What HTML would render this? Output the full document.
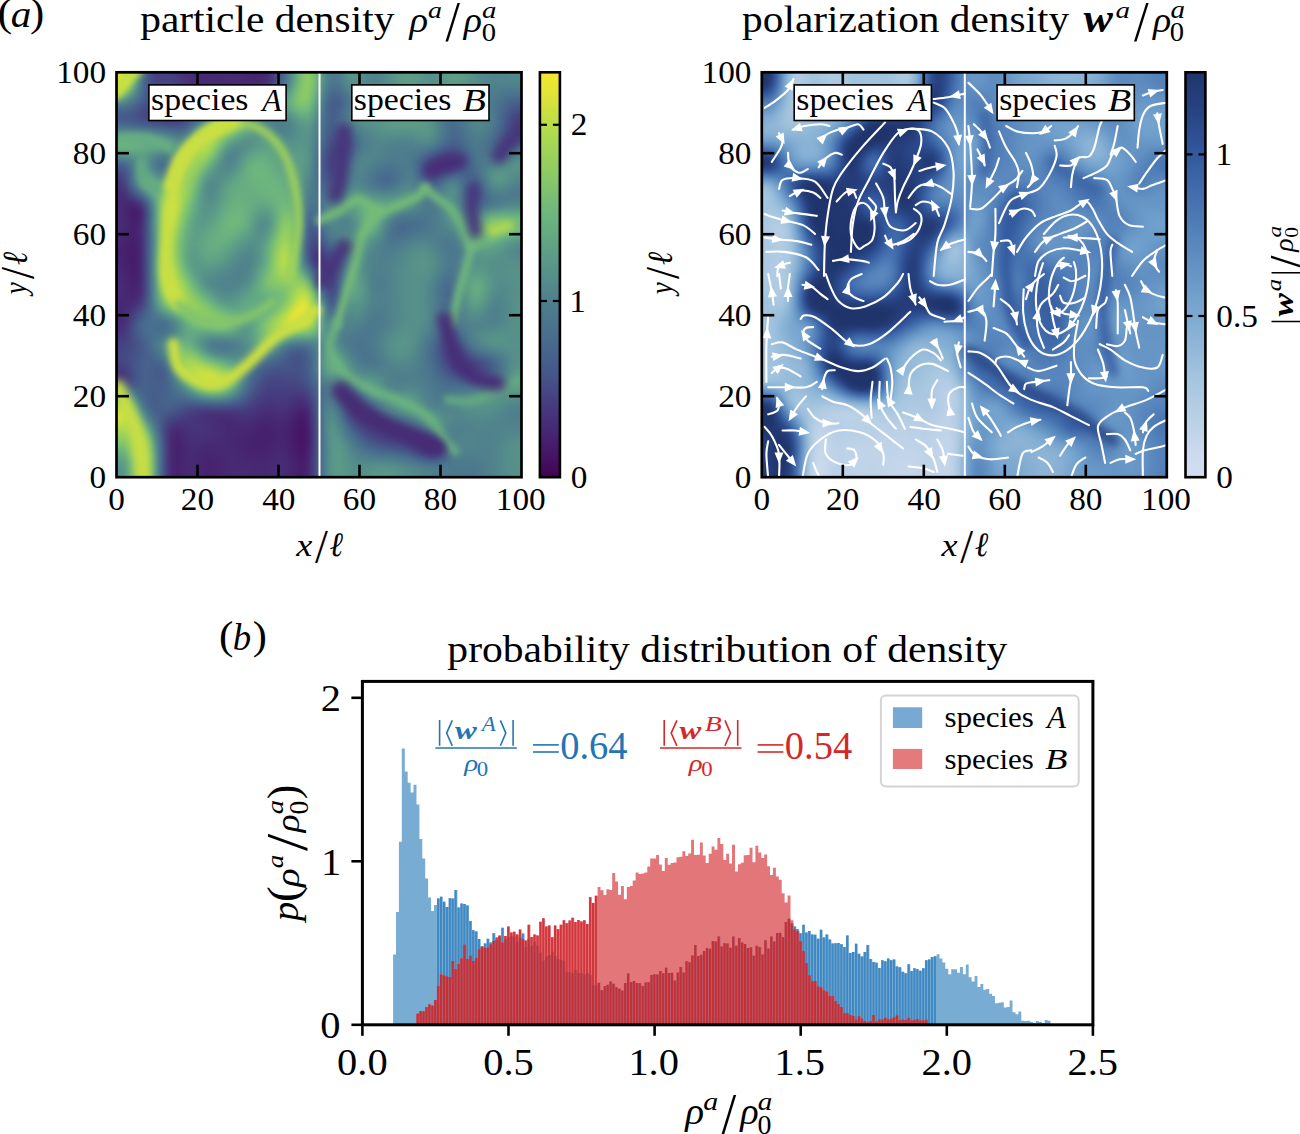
<!DOCTYPE html>
<html><head><meta charset="utf-8"><style>
html,body{margin:0;padding:0;background:#fff;overflow:hidden;}
#root{position:relative;width:1300px;height:1134px;}
.hm{position:absolute;overflow:hidden;}
.hb{position:absolute;}
.hb div{position:absolute;left:0;right:0;}
svg{position:absolute;left:0;top:0;display:block;font-family:"Liberation Serif", serif;}
</style></head><body><div id="root">
<div class="hm" style="left:116.5px;top:72.3px;width:405.0px;height:405.0px"><div class="hb" style="left:-15px;top:0;width:435px;filter:blur(2.0px)"><div style="height:6px;top:-15px;background:linear-gradient(90deg,#abd853,#b4db4e,#c3de47,#cadf43,#bfdd49,#9ed25a,#72b97a,#579389,#49718e,#45588a,#464883,#464281,#464381,#464381,#464180,#463c7e,#47367c,#473179,#472e77,#472b75,#472a74,#472973,#472873,#472873,#472973,#472973,#472a74,#472a74,#472a74,#472974,#472873,#472973,#472c76,#47357b,#464582,#465b8a,#49708e,#51868b,#60a385,#74bb78,#89c967,#8ccb64,#79be74,#62a684,#538a8b,#4c788d,#4b758d,#4d7b8d,#51858c,#568f8a,#579289,#558f8a,#53898b,#50848c,#50828c,#51858c,#53898b,#558f8a,#589589,#5a9988,#5c9d87,#5c9d87,#5b9b87,#599788,#579389,#569089,#569189,#589489,#5a9988,#5c9c87,#5c9d87,#5b9a87,#599688,#579289,#558d8a,#53898b,#51868b,#50838c,#50828c,#50828c,#50828c,#50828c,#50838c,#50838c,#50838c,#50838c,#50838c)"></div><div style="height:6px;top:-10px;background:linear-gradient(90deg,#b0da50,#bcdc4a,#cbdf43,#d2e13f,#c6de45,#a2d458,#75bb77,#589489,#49728e,#45588a,#464783,#464281,#464281,#464381,#464080,#463b7e,#47357b,#473079,#472d76,#472b75,#472974,#472973,#472973,#472973,#472973,#472974,#472a74,#472a74,#472973,#472873,#472772,#472772,#472a74,#47327a,#464381,#45598a,#486e8e,#50848c,#5fa186,#73ba79,#88c967,#8ccb64,#79be74,#62a684,#548b8b,#4c798d,#4b768d,#4d7c8d,#52868b,#569089,#579389,#568f8a,#53898b,#50838c,#50828c,#51848c,#53898b,#568f8a,#589589,#5a9a88,#5c9d87,#5c9d87,#5b9b87,#599788,#579389,#569089,#579189,#589589,#5a9988,#5c9d87,#5c9e87,#5b9b87,#599788,#579289,#558d8a,#53898b,#51868b,#50848c,#50838c,#50838c,#50838c,#50848c,#50848c,#51848c,#50848c,#50848c,#50848c)"></div><div style="height:6px;top:-5px;background:linear-gradient(90deg,#b9dc4c,#c5de46,#d5e13e,#dde33b,#d0e040,#a8d754,#79be74,#599688,#4a728e,#45588a,#464783,#464180,#464281,#464281,#464080,#473a7e,#47347b,#472f78,#472c76,#472a74,#472973,#472973,#472973,#472973,#472974,#472a74,#472a74,#472973,#472873,#472672,#472570,#472470,#472772,#472f78,#463f7f,#455689,#486b8d,#4f818c,#5d9f86,#71b97a,#88c867,#8ccb64,#7abf73,#63a783,#548c8a,#4d7a8d,#4c778d,#4e7d8d,#52888b,#579289,#589489,#56908a,#52888b,#50838c,#4f818c,#50848c,#53898b,#568f8a,#589588,#5b9a88,#5c9d87,#5c9d87,#5b9b87,#599788,#579289,#569089,#579189,#589588,#5b9a88,#5d9e87,#5d9f86,#5c9c87,#5a9888,#579389,#558e8a,#538a8b,#52878b,#51858c,#50848c,#50848c,#51848c,#51858c,#51868b,#51868b,#51868b,#51868b,#51858c)"></div><div style="height:6px;top:0px;background:linear-gradient(90deg,#bedd49,#cadf43,#dae23c,#e2e438,#d5e13e,#abd853,#7bbf73,#599788,#4a738e,#45588a,#464783,#464180,#464281,#464281,#463f80,#473a7d,#47347b,#472f78,#472c75,#472a74,#472973,#472973,#472973,#472974,#472a74,#472a74,#472a74,#472973,#472872,#472671,#472470,#47236f,#472671,#472d77,#463d7f,#455489,#486a8d,#4f808c,#5d9e87,#71b97b,#88c868,#8ccb64,#7bbf73,#63a883,#548d8a,#4d7b8d,#4c788d,#4e7e8c,#53898b,#579389,#589589,#56908a,#52888b,#50828c,#4f818c,#50838c,#53898b,#568f8a,#599688,#5b9a88,#5c9d87,#5c9d87,#5b9b87,#599788,#579289,#56908a,#579189,#599588,#5b9b87,#5d9e87,#5d9f86,#5c9d87,#5a9988,#589389,#558e8a,#538a8b,#52878b,#51858c,#51848c,#51848c,#51858c,#51868b,#52878b,#52878b,#52878b,#52868b,#52868b)"></div><div style="height:6px;top:5px;background:linear-gradient(90deg,#b7db4d,#c2de47,#d2e140,#dae23c,#cde042,#a6d655,#78bd75,#599688,#4a728e,#45588a,#464783,#464181,#464281,#464381,#464080,#473b7e,#47357b,#473078,#472c76,#472a74,#472974,#472973,#472973,#472973,#472974,#472a74,#472a74,#472974,#472873,#472772,#472571,#472571,#472873,#473078,#464080,#455789,#486c8e,#50828c,#5ea086,#72b97a,#88c867,#8ccb64,#7abf73,#63a783,#548c8a,#4d7a8d,#4b778d,#4e7d8d,#52888b,#579289,#589489,#568f8a,#53888b,#50838c,#4f828c,#50848c,#53898b,#568f8a,#589589,#5b9a88,#5c9d87,#5c9d87,#5b9b87,#599788,#579289,#569089,#579189,#589589,#5b9a88,#5c9e87,#5d9e87,#5c9c87,#5a9888,#579389,#558e8a,#538a8b,#52878b,#51848c,#50838c,#50838c,#50848c,#51858c,#51858c,#51858c,#51858c,#51858c,#51858c)"></div><div style="height:6px;top:10px;background:linear-gradient(90deg,#a3d457,#aad853,#b6db4d,#bddc4a,#b2da4f,#96cf5f,#6db67e,#569089,#49708e,#45588a,#464884,#464381,#464482,#464482,#464281,#463d7f,#47377c,#47327a,#472f78,#472c76,#472a74,#472973,#472873,#472873,#472873,#472973,#472a74,#472b75,#472b75,#472b75,#472b75,#472c75,#472f78,#47397d,#464b85,#465f8b,#4a738e,#53898b,#62a584,#76bc76,#8ac966,#8bcb65,#78bd75,#61a484,#52888b,#4b778d,#4a738e,#4c798d,#50828c,#548d8a,#569089,#558e8a,#53898b,#51848c,#50838c,#51858c,#53898b,#558f8a,#589489,#5a9988,#5c9c87,#5c9d87,#5b9b87,#599788,#579389,#569089,#569189,#589489,#5a9888,#5b9b87,#5b9b87,#5a9988,#589589,#569189,#548c8a,#52888b,#51858c,#50838c,#4f818c,#4f818c,#4f818c,#4f818c,#4f818c,#4f818c,#4f818c,#4f818c,#4f818c)"></div><div style="height:6px;top:15px;background:linear-gradient(90deg,#85c66a,#8aca65,#93ce60,#97cf5e,#90cd62,#7bc072,#63a784,#52868b,#486d8e,#45588a,#464a84,#464682,#464683,#464683,#464482,#464180,#463c7e,#47377c,#47337a,#472f78,#472d76,#472a74,#472973,#472872,#472872,#472973,#472b75,#472f77,#47327a,#47347b,#47367c,#47387d,#463e7f,#464a84,#465a8a,#486c8e,#4e7e8c,#599688,#68ae81,#7dc171,#8ccb64,#8ac966,#73ba79,#5ea086,#50828c,#49718e,#486d8e,#49728e,#4d7b8d,#51848c,#538a8b,#548b8a,#538a8b,#52878b,#52878b,#52878b,#538a8b,#558e8a,#579289,#599788,#5b9b87,#5c9d87,#5b9b87,#5a9888,#589489,#569189,#569089,#579289,#589489,#599688,#599688,#589489,#569189,#558d8a,#53898b,#51858c,#50828c,#4f808c,#4e7e8c,#4d7c8d,#4d7b8d,#4d7a8d,#4d7a8d,#4c7a8d,#4d7a8d,#4d7a8d,#4d7a8d)"></div><div style="height:6px;top:20px;background:linear-gradient(90deg,#68af81,#6ab27f,#6eb77d,#71b87b,#6db57e,#64a983,#589389,#4d7c8d,#47678d,#455689,#464b85,#464783,#464783,#464883,#464683,#464482,#464080,#463c7e,#47397d,#47357b,#47317a,#472f78,#472d76,#472c76,#472d76,#472f78,#47337b,#47397d,#463f80,#464381,#464683,#464a84,#455187,#465b8a,#47698d,#4c788d,#548b8a,#5fa285,#6eb77d,#83c56c,#8dcb64,#86c769,#6db67e,#5a9a88,#4e7d8d,#486b8d,#47648c,#47698d,#4a738d,#4e7d8d,#51858c,#53898b,#548b8b,#548b8a,#538a8b,#538a8b,#548b8a,#558d8a,#579189,#599688,#5b9a88,#5c9c87,#5b9c87,#5a9988,#589589,#569189,#568f8a,#558f8a,#568f8a,#568f8a,#568f8a,#558d8a,#548b8a,#53898b,#51868b,#50838c,#4f808c,#4e7d8d,#4d7a8d,#4c778d,#4a748d,#4a728e,#49718e,#49718e,#49718e,#49718e,#49728e)"></div><div style="height:6px;top:25px;background:linear-gradient(90deg,#579289,#589589,#5a9888,#5b9a88,#599788,#558e8a,#4f7f8c,#49708e,#46608b,#455388,#464a84,#464683,#464683,#464683,#464683,#464582,#464381,#464181,#463f80,#463d7f,#463b7e,#473a7d,#473a7d,#463c7e,#463e7f,#464381,#464884,#454e86,#455489,#455789,#45598a,#465c8a,#46608b,#47688d,#4a748d,#50828c,#599688,#65aa82,#74bb78,#84c66a,#8aca66,#81c36e,#69b080,#579389,#4c778d,#47648c,#465e8b,#47638c,#486e8e,#4c798d,#4f818c,#52888b,#548c8a,#558e8a,#558e8a,#558e8a,#558d8a,#558e8a,#579189,#599688,#5a9a88,#5c9c87,#5c9c87,#5a9a88,#599688,#579189,#558e8a,#548b8a,#53898b,#52888b,#52878b,#52878b,#51868b,#51858c,#50838c,#4f818c,#4e7f8c,#4d7b8d,#4b778d,#4a728e,#486d8e,#47698d,#47668c,#47668c,#47668c,#47678d,#47688d)"></div><div style="height:6px;top:30px;background:linear-gradient(90deg,#4c7a8d,#4d7b8d,#4e7d8d,#4e7e8d,#4d7c8d,#4c778d,#486f8e,#47638c,#45588a,#454d85,#464582,#464281,#464080,#464180,#464181,#464281,#464381,#464482,#464582,#464783,#464984,#454e86,#455489,#46598a,#465f8b,#47638c,#47678d,#47698d,#486a8d,#486a8d,#486a8d,#486a8d,#486d8e,#4a728e,#4d7b8d,#52888b,#5a9988,#65aa82,#71b97b,#7fc26f,#82c46c,#78bd75,#64a983,#548c8a,#4a738e,#46618b,#465b8a,#46608b,#486c8e,#4c788d,#4f818c,#53898b,#558e8a,#569189,#579289,#579189,#569189,#579189,#589489,#599788,#5b9b87,#5c9d87,#5c9d87,#5b9b87,#599688,#579189,#548c8a,#52878b,#50838c,#4f818c,#4f808c,#4f808c,#4f828c,#50828c,#50828c,#4f818c,#4e7f8c,#4d7a8d,#4b758d,#486e8e,#47668c,#465f8b,#465c8a,#465b8a,#465b8a,#465d8b,#465e8b)"></div><div style="height:6px;top:35px;background:linear-gradient(90deg,#47688d,#47698d,#486a8d,#486b8d,#476a8d,#47668c,#46608b,#45588a,#454e86,#464582,#463f7f,#473b7e,#47397d,#47397d,#473a7e,#463d7f,#464181,#464683,#464c85,#455388,#465b8a,#47648c,#486f8e,#4c788d,#4f808c,#51858c,#52878b,#51858c,#4f818c,#4e7d8d,#4c7a8d,#4b778d,#4b768d,#4c788d,#4e7e8c,#52878b,#589489,#5fa285,#68af80,#71b97a,#76bc77,#6db67e,#5fa285,#52878b,#49718e,#46608b,#465c8a,#47638c,#49708e,#4d7c8d,#51858c,#548c8a,#569089,#579289,#589389,#589489,#589589,#599688,#5a9888,#5b9b87,#5c9d87,#5d9f86,#5d9e87,#5b9c87,#599788,#579189,#538a8b,#50838c,#4e7e8c,#4d7a8d,#4d7a8d,#4d7c8d,#4e7f8c,#50828c,#50838c,#50838c,#4f808c,#4d7b8d,#4a748d,#486b8d,#46608b,#455789,#455187,#454f86,#455087,#455388,#455589)"></div><div style="height:6px;top:40px;background:linear-gradient(90deg,#465c8a,#465c8a,#465d8b,#465e8b,#465d8b,#465b8a,#455789,#455087,#464984,#464281,#463c7e,#47377c,#47347b,#47347b,#47367c,#473a7d,#464080,#464a84,#455589,#46608b,#486c8e,#4c7a8d,#538a8b,#5b9b87,#63a883,#68ae81,#67ad81,#62a684,#5c9d87,#579289,#52888b,#4f828c,#4e7e8c,#4e7d8d,#4e7e8c,#50828c,#538a8b,#589589,#5fa285,#66ac82,#69b180,#66ab82,#5b9a88,#50828c,#486f8e,#46608b,#465f8b,#47688d,#4b758d,#4f808c,#538a8b,#558f8a,#579189,#579389,#589489,#599688,#5a9888,#5b9a88,#5c9c87,#5d9e87,#5d9f86,#5e9f86,#5d9e86,#5c9c87,#5a9888,#579289,#53898b,#4f808c,#4c798d,#4b758d,#4b758d,#4c788d,#4e7d8d,#4f828c,#51858c,#51858c,#50828c,#4e7c8d,#4a748d,#47688d,#465c8a,#455087,#464783,#464582,#464683,#464984,#464c85)"></div><div style="height:6px;top:45px;background:linear-gradient(90deg,#465b8a,#465b8a,#465c8a,#465c8a,#465c8a,#465a8a,#45588a,#455488,#454e86,#464883,#464281,#463e7f,#473a7d,#47387d,#47397d,#463d7f,#464582,#455288,#465f8b,#486f8e,#4e7e8c,#579289,#64a883,#74bb78,#85c66a,#8ccb64,#86c769,#78be75,#69b080,#5fa285,#589588,#548b8a,#51848c,#4f808c,#4e7e8c,#4e7e8c,#4f818c,#53898b,#589489,#5d9f86,#61a584,#5fa285,#579389,#4e7f8c,#486e8e,#46618b,#47628c,#486c8e,#4c788d,#50838c,#548c8a,#56908a,#569189,#579189,#589389,#599688,#5b9a88,#5c9d87,#5d9f86,#5e9f86,#5e9f86,#5d9f86,#5d9e87,#5b9c87,#5a9888,#579289,#52888b,#4e7e8c,#4b768d,#49718e,#49708e,#4b758d,#4d7b8d,#4f818c,#51868b,#52878b,#50838c,#4e7d8d,#4a738d,#47678d,#45598a,#464a84,#464180,#463e7f,#464080,#464381,#464683)"></div><div style="height:6px;top:50px;background:linear-gradient(90deg,#47688d,#47688d,#47698d,#47698d,#47698d,#47678d,#47658c,#46618b,#465e8b,#465a8a,#455789,#455388,#455087,#464c85,#464a84,#464c85,#455388,#465e8b,#486e8e,#4f7f8c,#599688,#67ad81,#7cc072,#91cd61,#a0d459,#a3d457,#97d05e,#84c66b,#6fb87c,#63a883,#5b9c87,#579289,#538a8b,#51848c,#4f808c,#4e7e8d,#4e7e8c,#50828c,#548b8a,#599688,#5c9c87,#5b9a88,#558d8a,#4d7c8d,#486d8e,#46618b,#47628c,#486b8d,#4b768d,#4f818c,#52888b,#548c8a,#558d8a,#558f8a,#579189,#589589,#5a9988,#5b9c87,#5c9d87,#5c9d87,#5c9c87,#5b9c87,#5b9b87,#5b9b87,#5a9888,#579389,#53898b,#4e7e8d,#4a748d,#486e8e,#486e8e,#4a728e,#4c7a8d,#4f818c,#51858c,#51868c,#50828c,#4d7b8d,#49728e,#47658c,#455789,#464984,#464080,#463d7f,#463f7f,#464281,#464482)"></div><div style="height:6px;top:55px;background:linear-gradient(90deg,#4e7d8d,#4e7e8c,#4e7e8c,#4e7f8c,#4e7e8c,#4e7d8d,#4d7a8d,#4c778d,#4a748d,#49728e,#49708e,#486e8e,#486b8d,#47678d,#47638c,#46618b,#47648c,#486f8e,#4e7f8c,#599688,#68af81,#7fc26f,#93ce60,#a0d459,#a4d557,#9dd25a,#8ecc63,#7bc072,#6ab27f,#61a584,#5b9b87,#589489,#568f8a,#548b8b,#51858c,#4f818c,#4f808c,#50828c,#53898b,#579189,#599788,#589589,#53898b,#4c798d,#486b8d,#46608b,#465f8b,#47658c,#49708e,#4c798d,#4f808c,#50848c,#52888b,#548b8b,#558e8a,#579189,#589489,#599688,#599788,#599788,#599688,#599688,#599788,#5a9888,#599888,#579389,#538a8b,#4e7e8d,#4a738d,#486c8e,#486b8d,#49718e,#4c788d,#4e7f8c,#50828c,#50828c,#4e7f8c,#4c788d,#486f8e,#47638c,#45588a,#464b85,#464482,#464181,#464381,#464682,#464883)"></div><div style="height:6px;top:60px;background:linear-gradient(90deg,#5a9988,#5a9a88,#5b9a88,#5b9b87,#5b9a88,#5a9888,#589489,#569089,#548c8a,#53898b,#52888b,#51868b,#50838c,#4e7e8c,#4c798d,#4b758d,#4b768d,#4f7f8c,#589489,#68ae81,#81c46d,#98d05d,#a3d457,#a1d458,#96cf5e,#87c769,#76bc76,#69b080,#61a584,#5c9c87,#599888,#589588,#589489,#579289,#558d8a,#52888b,#51858c,#51868b,#548b8b,#569189,#589589,#579289,#51868b,#4c778d,#47688d,#465d8b,#46598a,#465d8b,#47658c,#486f8e,#4b768d,#4e7d8d,#50828c,#52878b,#538a8b,#558d8a,#558f8a,#568f8a,#558f8a,#558e8a,#558e8a,#558f8a,#569189,#589489,#589589,#579289,#53888b,#4e7d8d,#4a728e,#486b8d,#47698d,#486f8e,#4b768d,#4d7c8d,#4f7f8c,#4e7e8c,#4d7a8d,#4a748d,#486c8e,#47638c,#465a8a,#455288,#454d85,#464b85,#464c85,#454e86,#455087)"></div><div style="height:6px;top:65px;background:linear-gradient(90deg,#68af81,#69b080,#69b080,#69b180,#69b080,#68ae81,#65aa82,#62a684,#60a385,#5ea086,#5d9e87,#5c9c87,#5a9988,#589389,#548c8a,#52878b,#53898b,#589589,#65aa82,#7ec170,#9bd15c,#abd853,#a7d655,#96cf5e,#80c36e,#6cb47f,#63a783,#5c9d87,#599688,#589489,#589489,#599788,#5a9988,#5a9988,#589588,#569189,#558d8a,#548c8a,#558f8a,#579389,#589589,#569089,#50838c,#4b758d,#47658c,#45588a,#455388,#455589,#465b8a,#47658c,#486e8e,#4b778d,#4e7e8c,#50838c,#52878b,#53898b,#53898b,#52888b,#52868b,#51868c,#51868c,#52878b,#538a8b,#558d8a,#558f8a,#548c8a,#50838c,#4c798d,#486f8e,#47678d,#47668c,#486b8d,#4a738e,#4c798d,#4d7c8d,#4d7a8d,#4b768d,#49718e,#486a8d,#47648c,#465f8b,#465b8a,#45598a,#45588a,#45588a,#46598a,#465a8a)"></div><div style="height:6px;top:70px;background:linear-gradient(90deg,#6db67e,#6db67e,#6eb77d,#6eb77d,#6eb77d,#6db57e,#6bb37f,#69b080,#67ad81,#65aa82,#63a783,#60a485,#5ea086,#5b9b87,#599788,#599688,#5b9b87,#64a883,#76bc77,#92ce60,#abd853,#b1da50,#a1d458,#86c769,#6bb37f,#5ea086,#579389,#558e8a,#558d8a,#569089,#589589,#5b9a88,#5d9e87,#5d9f86,#5c9c87,#5a9888,#589389,#579289,#589489,#599688,#599688,#56908a,#50828c,#4a738e,#46618b,#455388,#464b85,#454e86,#455689,#46608b,#486b8d,#4b758d,#4e7d8d,#50828c,#51868c,#51868b,#50848c,#50828c,#4f818c,#4f808c,#4f808c,#4f818c,#50838c,#51848c,#50848c,#4f818c,#4d7a8d,#49708e,#47668c,#46608b,#46608b,#47668c,#486f8e,#4b768d,#4c798d,#4c788d,#4a748d,#49708e,#486c8e,#47698d,#47678d,#47668c,#47668c,#47658c,#47668c,#47668c,#47668c)"></div><div style="height:6px;top:75px;background:linear-gradient(90deg,#66ab82,#66ab82,#66ab82,#66ab82,#66ab82,#66ac82,#66ac82,#66ac82,#65aa82,#62a684,#5ea086,#5b9a88,#589588,#589489,#599688,#5c9d87,#64a883,#70b87b,#88c868,#a0d359,#aed951,#aad753,#92ce61,#74ba78,#60a385,#56908a,#52888b,#52888b,#558d8a,#589489,#5b9b87,#5ea086,#61a485,#61a485,#5fa186,#5c9c87,#5a9888,#599688,#599788,#5a9988,#5a9888,#569089,#4f818c,#49708e,#465d8b,#454c85,#464683,#464c85,#45588a,#47638c,#486f8e,#4c788d,#4e7f8c,#50838c,#51858c,#50848c,#4f828c,#4f7f8c,#4e7e8c,#4e7e8d,#4e7d8d,#4e7d8d,#4e7d8d,#4d7b8d,#4c788d,#4a738e,#486b8d,#46618b,#45598a,#455589,#45588a,#46608b,#486a8d,#4a738e,#4b778d,#4b778d,#4b758d,#4a728e,#49718e,#49718e,#49728e,#4a738e,#4a738d,#4a748d,#4a738d,#4a738e,#4a738e)"></div><div style="height:6px;top:80px;background:linear-gradient(90deg,#599688,#589589,#589489,#579389,#589489,#599788,#5b9b87,#5d9f86,#5e9f86,#5b9b87,#579289,#52888b,#50828c,#50838c,#558e8a,#5d9f86,#6ab27f,#80c36e,#95cf5f,#a4d557,#a6d655,#99d15d,#7fc26f,#66ac81,#599588,#52868b,#50838c,#53888b,#579289,#5c9c87,#61a485,#64a883,#64a983,#63a883,#61a484,#5d9f86,#5b9b87,#5a9988,#5b9a88,#5b9c87,#5a9a88,#569189,#4f7f8c,#486d8e,#45588a,#464783,#464482,#454f86,#465d8b,#486b8d,#4b758d,#4e7d8d,#50828c,#51848c,#51848c,#50828c,#4f808c,#4e7e8d,#4e7d8d,#4e7d8d,#4d7c8d,#4d7b8d,#4c788d,#4a728e,#486b8d,#47628c,#45598a,#454f86,#464883,#464783,#454e86,#465a8a,#47668c,#49708e,#4b758d,#4c778d,#4c778d,#4b778d,#4c788d,#4c798d,#4d7c8d,#4e7e8c,#4f808c,#4f808c,#4f808c,#4f7f8c,#4e7f8c)"></div><div style="height:6px;top:85px;background:linear-gradient(90deg,#4e7d8d,#4d7b8d,#4c798d,#4c798d,#4d7a8d,#4e7f8c,#52878b,#569089,#589489,#569089,#50848c,#4c798d,#4a738e,#4b778d,#51868b,#5ea086,#72ba7a,#8ccb64,#9dd25b,#a1d458,#98d05d,#85c66a,#6cb57e,#5d9f86,#548c8a,#50828c,#51848c,#558e8a,#5b9a87,#62a684,#66ac81,#68af80,#68af81,#66ac82,#63a784,#5fa185,#5c9d87,#5b9b87,#5c9c87,#5c9d87,#5b9b87,#569089,#4e7e8c,#486a8d,#455589,#464482,#464582,#455489,#47648c,#4a738e,#4e7d8d,#50828c,#51858c,#51858c,#50838c,#4f808c,#4e7d8d,#4d7b8d,#4d7b8d,#4d7c8d,#4d7c8d,#4d7a8d,#4a748d,#486a8d,#465e8b,#455187,#464582,#463d7f,#463b7e,#463f80,#464984,#455789,#47628c,#486d8e,#4a748d,#4c788d,#4d7b8d,#4e7d8d,#4f7f8c,#50828c,#51868b,#53898b,#548b8a,#548c8a,#548b8a,#538b8b,#538a8b)"></div><div style="height:6px;top:90px;background:linear-gradient(90deg,#476a8d,#47678d,#47648c,#47628c,#47658c,#486e8e,#4d7a8d,#52878b,#569089,#558e8a,#4f818c,#4a748d,#486c8e,#49718e,#51848c,#61a485,#7bc072,#96cf5e,#9fd359,#98d05d,#87c769,#71b97b,#62a684,#589489,#52888b,#50848c,#53898b,#589589,#5fa285,#67ad81,#6bb37f,#6cb47f,#6bb37f,#68af81,#65aa82,#61a484,#5ea086,#5c9e87,#5d9e87,#5d9e87,#5b9a88,#568f8a,#4e7d8d,#47688d,#455488,#464482,#464884,#45598a,#486b8d,#4c798d,#4f828c,#51868b,#51868c,#50838c,#4e7f8c,#4d7b8d,#4c788d,#4b778d,#4c788d,#4d7b8d,#4d7c8d,#4c7a8d,#4a728e,#47658c,#455789,#464582,#463b7e,#47387d,#463b7e,#464381,#454d86,#45588a,#46618b,#486a8d,#49728e,#4c788d,#4e7e8c,#50838c,#52888b,#548c8a,#558f8a,#569189,#579289,#579289,#579289,#579189,#579189)"></div><div style="height:6px;top:95px;background:linear-gradient(90deg,#465c8a,#45588a,#455388,#455087,#455589,#47628c,#4a758d,#52878b,#599688,#599688,#53898b,#4d7b8d,#4a728e,#4b778d,#548c8a,#66ac82,#84c66a,#9cd15b,#9cd25b,#8ccb64,#75bc77,#65aa82,#5b9a88,#558e8a,#52888b,#53898b,#569089,#5b9b87,#63a783,#69b080,#6cb57e,#6eb67d,#6cb57e,#6ab280,#67ad81,#63a883,#60a385,#5ea186,#5e9f86,#5c9e87,#5a9888,#548c8a,#4d7b8d,#47688d,#455689,#464984,#454e86,#465e8b,#486f8e,#4d7c8d,#50838c,#51858c,#50838c,#4e7e8c,#4c798d,#4b758d,#49728e,#49718e,#4a748d,#4c798d,#4d7c8d,#4d7b8d,#4a738e,#47668c,#455689,#464582,#463f7f,#464281,#464b85,#455589,#465b8a,#465f8b,#47628c,#47678d,#486f8e,#4c788d,#4f818c,#538a8b,#569189,#589389,#589489,#579389,#579289,#579289,#579289,#579289,#579289)"></div><div style="height:6px;top:100px;background:linear-gradient(90deg,#455288,#454d85,#464582,#464180,#464783,#465a8a,#4a728e,#538a8b,#5d9e87,#60a385,#5a9a88,#538a8b,#4f808c,#51858c,#5b9b87,#6eb77d,#8dcc63,#9ed25a,#95cf5f,#7fc26f,#68af80,#5c9d87,#579189,#548c8a,#548c8a,#569189,#5a9888,#5fa185,#65aa82,#69b180,#6cb57e,#6eb77d,#6db67e,#6cb47f,#69b080,#66ac82,#63a883,#61a485,#5ea186,#5c9c87,#589589,#53898b,#4c798d,#47698d,#46598a,#455187,#455789,#47648c,#4a738e,#4e7e8d,#50838c,#50838c,#4f808c,#4d7a8d,#4a748d,#486f8e,#486c8e,#486c8e,#49718e,#4b778d,#4d7c8d,#4e7d8d,#4b768d,#47698d,#465b8a,#454e86,#464c85,#455589,#465f8b,#47678d,#486a8d,#47688d,#47658c,#47658c,#486b8d,#4b768d,#50828c,#558f8a,#599688,#599788,#589489,#569089,#558e8a,#558d8a,#558d8a,#558e8a,#568f8a)"></div><div style="height:6px;top:105px;background:linear-gradient(90deg,#464b85,#464582,#463c7e,#47387d,#463f7f,#455689,#49708e,#538b8b,#60a385,#67ad81,#64a883,#5d9e87,#599688,#5b9b87,#67ad81,#7ec170,#96cf5e,#9dd25a,#8dcb64,#73ba79,#61a485,#579289,#548b8a,#548c8a,#579289,#5a9988,#5ea086,#62a684,#66ac82,#69b080,#6bb37f,#6db57e,#6db67e,#6db57e,#6bb37f,#69b080,#66ac82,#63a783,#5fa285,#5b9b87,#579289,#51858c,#4c788d,#486b8d,#465f8b,#465a8a,#465f8b,#486b8d,#4b778d,#4f808c,#50848c,#50828c,#4e7e8c,#4c788d,#49728e,#486c8e,#47698d,#486a8d,#49708e,#4c788d,#4e7e8c,#4f808c,#4d7a8d,#496f8e,#47628c,#465a8a,#465c8a,#47658c,#49718e,#4c788d,#4c788d,#49728e,#47698d,#47638c,#47678d,#4a738e,#4f818c,#568f8a,#599788,#599688,#579189,#548b8a,#52878b,#51868c,#52868b,#52888b,#53898b)"></div><div style="height:6px;top:110px;background:linear-gradient(90deg,#464482,#463e7f,#47367c,#47337a,#47397d,#454f86,#486a8d,#50838c,#5c9d87,#66ac82,#68af80,#67ad81,#66ac82,#6ab27f,#7abf73,#8ecc63,#9dd25b,#9ad15c,#85c66a,#6ab27f,#5b9b87,#548c8a,#52888b,#558e8a,#599788,#5ea086,#62a684,#65aa82,#67ad81,#68af81,#6ab180,#6bb47f,#6db57e,#6db67e,#6db57e,#6bb37f,#68af80,#65aa82,#60a285,#5a9988,#558e8a,#50828c,#4c778d,#486e8e,#47668c,#47648c,#47698d,#4a738e,#4d7c8d,#50848c,#52878b,#51858c,#4f808c,#4d7a8d,#4a748d,#49708e,#486e8e,#486f8e,#4a758d,#4d7c8d,#50838c,#51858c,#4f7f8c,#4b758d,#486a8d,#47648c,#47688d,#4a738e,#4e7e8c,#51858c,#50828c,#4c788d,#486c8e,#47628c,#47638c,#486f8e,#4d7c8d,#538a8b,#579189,#569189,#548b8a,#50848c,#4f808c,#4f7f8c,#4f808c,#4f818c,#50828c)"></div><div style="height:6px;top:115px;background:linear-gradient(90deg,#463c7e,#47377c,#47317a,#472f78,#47337a,#464482,#465d8b,#4a748d,#538a8b,#5d9e87,#65ab82,#6cb47f,#75bc77,#82c46c,#91cd61,#9ed25a,#a2d458,#96cf5e,#7dc170,#66ac82,#599688,#53898b,#52888b,#56908a,#5b9b87,#61a484,#65aa82,#66ac81,#67ad81,#68ae81,#69b080,#6ab280,#6bb47f,#6cb57e,#6db67e,#6cb57e,#6ab27f,#66ac82,#60a385,#5a9888,#548c8a,#4f808c,#4c778d,#49718e,#486d8e,#486e8e,#4a748d,#4d7c8d,#51848c,#548c8a,#558f8a,#558d8a,#52888b,#50828c,#4e7e8d,#4d7a8d,#4c798d,#4d7a8d,#4e7f8c,#51858c,#548b8a,#548c8a,#51858c,#4d7b8d,#49718e,#486d8e,#49718e,#4d7b8d,#51868b,#558d8a,#53898b,#4d7c8d,#486e8e,#47628c,#46608b,#47698d,#4b758d,#4f808c,#51868b,#52868b,#50838c,#4e7e8c,#4d7c8d,#4d7b8d,#4d7b8d,#4d7c8d,#4e7d8d)"></div><div style="height:6px;top:120px;background:linear-gradient(90deg,#47337b,#473179,#472e77,#472c76,#472f77,#47387d,#464a84,#465f8b,#4a738e,#52878b,#5d9f86,#6db67e,#85c66a,#9ad15c,#a7d655,#abd853,#a4d557,#90cd62,#76bc76,#63a783,#589489,#538a8b,#538b8b,#579389,#5d9e87,#63a783,#66ac82,#68ae81,#68ae81,#68ae81,#68ae81,#69af80,#6ab180,#6bb37f,#6cb57e,#6db67e,#6cb47f,#68ae81,#61a484,#599788,#53898b,#4e7e8c,#4b778d,#4a748d,#4a748d,#4b778d,#4e7d8d,#51858c,#558e8a,#589589,#5a9888,#599788,#589489,#56908a,#548c8a,#53898b,#52888b,#53898b,#548c8a,#569089,#579389,#579289,#538a8b,#4f7f8c,#4b778d,#4a728e,#4b768d,#4f7f8c,#538a8b,#569089,#548c8a,#4e7e8c,#49708e,#47648c,#465f8b,#47648c,#486e8e,#4b778d,#4d7c8d,#4e7e8c,#4e7d8d,#4d7b8d,#4d7a8d,#4c798d,#4c7a8d,#4d7a8d,#4d7b8d)"></div><div style="height:6px;top:125px;background:linear-gradient(90deg,#472d76,#472c76,#472b75,#472b75,#472b75,#472e77,#47347b,#464281,#45598a,#49728e,#569089,#6cb47f,#91cd61,#aed951,#bcdc4a,#b5db4d,#a3d457,#8ac966,#70b87c,#61a484,#589489,#548c8a,#558e8a,#599688,#5ea086,#64a983,#67ae81,#69b080,#68af80,#68ae81,#67ad81,#66ac82,#67ad81,#68af81,#6bb37f,#6db67e,#6eb77d,#6ab280,#62a684,#599688,#51868b,#4d7b8d,#4b768d,#4b768d,#4c798d,#4e7e8c,#51858c,#558d8a,#589588,#5b9b87,#5d9f86,#5ea086,#5ea086,#5d9f86,#5c9d87,#5b9a88,#5a9888,#599788,#599888,#5a9888,#5a9888,#589489,#548c8a,#4f818c,#4d7a8d,#4b768d,#4c7a8d,#4f818c,#548b8a,#569089,#548c8a,#4f808c,#4a748d,#47698d,#47648c,#47668c,#486c8e,#4a738e,#4c788d,#4d7b8d,#4d7c8d,#4e7d8d,#4e7d8d,#4e7d8d,#4e7d8d,#4e7d8d,#4e7d8d)"></div><div style="height:6px;top:130px;background:linear-gradient(90deg,#472873,#472973,#472a74,#472a74,#472974,#472772,#472671,#472b75,#463d7f,#46608b,#51858c,#6ab280,#99d05d,#c0dd48,#cbdf43,#badc4b,#9ed35a,#82c46c,#6bb37f,#5fa285,#589588,#56908a,#579389,#5b9a88,#61a485,#66ac82,#69b080,#6ab280,#69b180,#68ae81,#65aa82,#63a783,#62a684,#64a983,#68af80,#6eb67e,#72b97a,#6db67e,#64a983,#599688,#50838c,#4c788d,#4a748d,#4b768d,#4e7c8d,#50848c,#548b8a,#579189,#599788,#5c9c87,#5fa285,#62a684,#65aa82,#66ac82,#65aa82,#63a784,#5fa285,#5d9e87,#5b9b87,#5a9888,#589588,#569089,#53898b,#4f818c,#4d7b8d,#4c788d,#4d7b8d,#50828c,#548b8a,#56908a,#558d8a,#50848c,#4d7a8d,#4a728e,#486e8e,#486f8e,#4a738e,#4c788d,#4e7d8d,#4f808c,#50838c,#51858c,#51868b,#51868b,#51868b,#51868b,#51858c)"></div><div style="height:6px;top:135px;background:linear-gradient(90deg,#472772,#472873,#472a74,#472b75,#472974,#472570,#461f6c,#46206d,#472f78,#455689,#4f7f8c,#69b180,#9dd25a,#c8df44,#cfe041,#b7db4d,#97d05e,#7abf73,#68ae81,#5e9f86,#599688,#589389,#599788,#5d9f86,#63a883,#68af80,#6bb37f,#6cb47f,#6bb27f,#67ae81,#63a783,#5fa186,#5d9e87,#5fa186,#65ab82,#6eb77d,#77bd75,#75bb77,#67ad81,#599688,#4f808c,#4a738e,#49708e,#4b758d,#4e7e8c,#52878b,#558d8a,#569089,#579289,#599688,#5d9e87,#63a883,#69b080,#6cb47f,#6bb37f,#66ac82,#60a385,#5b9a88,#589389,#558f8a,#548b8b,#52878b,#4f818c,#4e7d8d,#4c798d,#4c798d,#4d7c8d,#50838c,#548b8a,#569089,#569089,#538b8b,#50838c,#4e7e8c,#4e7d8d,#4f7f8c,#50848c,#538a8b,#56908a,#589389,#599688,#599788,#5a9888,#5a9888,#5a9888,#5a9888,#5a9888)"></div><div style="height:6px;top:140px;background:linear-gradient(90deg,#472772,#472973,#472b75,#472c75,#472a74,#472470,#461e6b,#461e6b,#472b75,#455388,#4e7e8c,#69b080,#9ed35a,#c8df44,#cbdf43,#aed951,#8ecc63,#72ba79,#64a983,#5c9e87,#599788,#599788,#5b9c87,#60a485,#66ac82,#6bb37f,#6eb67d,#6eb77d,#6bb47f,#67ad81,#60a385,#5a9a88,#589589,#5a9988,#63a783,#6fb77c,#7ec170,#7dc170,#6ab27f,#599788,#4d7c8d,#486d8e,#486a8d,#4a728e,#4e7d8d,#52878b,#548c8a,#548b8a,#548b8b,#558e8a,#5a9888,#62a584,#6ab27f,#70b87b,#6db67e,#66ac82,#5c9e87,#56908a,#51868c,#4f808c,#4e7d8d,#4d7c8d,#4c7a8d,#4c788d,#4b778d,#4c788d,#4d7c8d,#50838c,#548b8a,#569189,#579389,#579289,#568f8a,#558e8a,#569189,#599788,#5d9e86,#62a584,#65aa82,#66ac82,#67ad81,#66ac82,#66ac82,#66ab82,#66ac82,#66ac82,#66ac82)"></div><div style="height:6px;top:145px;background:linear-gradient(90deg,#472873,#472974,#472b75,#472c76,#472b75,#472671,#461f6c,#461f6c,#472d76,#455589,#4e7f8c,#69b080,#9cd25b,#c2de47,#c2dd48,#a5d656,#86c769,#6cb47f,#62a584,#5c9c87,#5a9988,#5b9b87,#5ea086,#63a883,#69b080,#6db67e,#70b87b,#6fb87c,#6bb37f,#65ab82,#5d9f86,#589389,#558e8a,#589389,#61a584,#71b97a,#84c66a,#85c66a,#6db67e,#599788,#4c798d,#47668c,#47638c,#486e8e,#4d7b8d,#51868b,#53898b,#52868b,#50838c,#51868c,#579189,#5fa285,#6ab180,#71b97b,#6cb57e,#63a783,#589489,#50838c,#4c798d,#4a748d,#4a728e,#4a728e,#4a738e,#4a738e,#4a758d,#4c778d,#4d7c8d,#50828c,#538a8b,#569089,#589589,#599788,#5a9a88,#5c9d87,#61a484,#67ad81,#6eb77d,#78bd75,#7cc071,#7cc071,#7abe73,#76bc77,#73ba79,#73ba79,#73ba79,#74bb78,#75bb78)"></div><div style="height:6px;top:150px;background:linear-gradient(90deg,#472873,#472a74,#472c75,#472c76,#472b75,#472671,#46216e,#46226e,#473079,#455789,#4f808c,#69b080,#98d05d,#b9dc4c,#b6db4d,#9cd25b,#7ec270,#69b080,#60a385,#5c9c87,#5b9b87,#5d9f86,#61a584,#66ac82,#6ab27f,#6eb77d,#70b87c,#6db67e,#69b180,#63a783,#5b9a87,#568f8a,#548b8b,#579289,#62a684,#76bc77,#8bca65,#8ccb64,#71b97a,#599788,#4b768d,#46618b,#465d8b,#47688d,#4b778d,#50828c,#52868b,#50848c,#4f818c,#50838c,#558e8a,#5d9f86,#68ae81,#6cb57e,#69af80,#5ea086,#548b8a,#4d7a8d,#49708e,#486b8d,#486b8d,#486d8e,#496f8e,#49728e,#4a748d,#4c788d,#4d7c8d,#4f818c,#52878b,#558d8a,#589389,#5a9988,#5e9f86,#63a783,#6ab180,#75bb77,#82c46d,#8bca65,#8fcc63,#8bcb64,#85c769,#7fc26f,#7bbf72,#7abf73,#7abf73,#7cc071,#7dc171)"></div><div style="height:6px;top:155px;background:linear-gradient(90deg,#472872,#472973,#472a74,#472b75,#472a74,#472671,#46216e,#47236f,#47327a,#45588a,#4f7f8c,#67ae81,#93ce60,#afda50,#acd852,#94ce5f,#78bd75,#66ac82,#5fa185,#5c9e87,#5d9f86,#60a385,#64a883,#68ae81,#6bb37f,#6db67e,#6cb57e,#6ab280,#66ab82,#5fa285,#599788,#558e8a,#548c8a,#599688,#65aa82,#7cc071,#91cd61,#91cd61,#74bb78,#599788,#4a748d,#465c8a,#45588a,#47628c,#4a728e,#4e7f8c,#51848c,#51858c,#50848c,#52878b,#569089,#5d9e87,#64a983,#67ae81,#62a784,#599788,#50838c,#4b758d,#486d8e,#486a8d,#486b8d,#486e8e,#49718e,#4a748d,#4b778d,#4c798d,#4d7c8d,#4e7f8c,#50828c,#52888b,#558e8a,#599688,#5e9f86,#64a983,#6cb57e,#7abf73,#86c769,#8dcc63,#8ecc63,#89c967,#80c36e,#78bd75,#73ba79,#71b97a,#72b97a,#74bb78,#75bc77)"></div><div style="height:6px;top:160px;background:linear-gradient(90deg,#472671,#472772,#472973,#472974,#472873,#472470,#46216d,#46236f,#47327a,#45588a,#4e7e8c,#66ac82,#8ecc63,#a9d754,#a5d556,#8dcc63,#73ba79,#64a983,#5fa186,#5d9f86,#5fa285,#63a784,#66ac82,#69b080,#6ab27f,#6bb27f,#69b080,#65aa82,#61a485,#5b9c87,#589489,#568f8a,#579189,#5c9d87,#6ab27f,#84c66b,#98d05d,#94cf5f,#75bb77,#599788,#4a738e,#46598a,#455288,#465c8a,#486c8e,#4d7a8d,#50838c,#52888b,#548b8a,#568f8a,#599688,#5d9e87,#61a485,#61a485,#5b9c87,#558e8a,#4f7f8c,#4a758d,#486f8e,#486e8e,#49708e,#4a748d,#4b778d,#4c7a8d,#4d7b8d,#4d7c8d,#4e7d8d,#4e7d8d,#4e7e8c,#4f818c,#52878b,#56908a,#5b9b87,#62a684,#6ab280,#74bb78,#7dc170,#82c46c,#80c36e,#79be74,#6fb87c,#69b180,#66ac82,#65ab82,#66ac82,#67ad81,#68ae81)"></div><div style="height:6px;top:165px;background:linear-gradient(90deg,#472470,#472571,#472672,#472772,#472671,#46236f,#461f6c,#46226e,#473179,#455789,#4e7d8d,#65aa82,#8bca65,#a5d556,#a0d359,#89c967,#6fb77c,#63a783,#5ea086,#5ea086,#61a484,#64a983,#67ad81,#69b080,#69b080,#67ae81,#64a983,#60a285,#5b9b87,#589589,#569189,#569189,#599788,#62a584,#72ba7a,#8ccb64,#9ed35a,#98d05d,#76bc76,#599788,#4a728e,#455789,#464b85,#455489,#47648c,#4a748d,#4f808c,#538a8b,#579289,#5a9888,#5b9c87,#5d9e87,#5c9e87,#5a9988,#569189,#51868b,#4e7d8d,#4b768d,#4a748d,#4b758d,#4c788d,#4d7c8d,#4e7f8c,#4f808c,#4f818c,#4f808c,#4e7e8c,#4d7c8d,#4d7a8d,#4d7b8d,#4f808c,#53898b,#589489,#5ea086,#65aa82,#6ab27f,#6fb77d,#70b87b,#6db57e,#68af81,#63a783,#5ea086,#5b9b87,#5b9a88,#5b9b87,#5c9c87,#5c9e87)"></div><div style="height:6px;top:170px;background:linear-gradient(90deg,#46236f,#47236f,#472570,#472571,#472470,#46216e,#461e6b,#46216d,#473079,#455789,#4e7d8d,#64a983,#8aca65,#a3d557,#9ed25a,#86c769,#6cb57e,#62a584,#5ea086,#5fa186,#62a684,#65ab82,#67ae81,#68ae81,#66ac82,#63a883,#5fa185,#5b9a88,#589389,#568f8a,#558e8a,#579289,#5c9c87,#66ac81,#7cc072,#96cf5e,#a6d656,#9dd25b,#79be74,#5a9888,#49728e,#455489,#464482,#464a84,#465b8a,#486d8e,#4d7c8d,#53898b,#589588,#5c9d87,#5d9f86,#5c9d87,#5a9888,#569089,#52888b,#4f818c,#4d7c8d,#4c798d,#4c798d,#4d7b8d,#4f7f8c,#50838c,#51868b,#52888b,#52878b,#51848c,#4f808c,#4d7c8d,#4c788d,#4c788d,#4d7b8d,#50828c,#558d8a,#5a9988,#5fa285,#63a883,#65aa82,#65aa82,#62a684,#5e9f86,#5a9888,#579289,#558e8a,#548c8a,#558d8a,#558f8a,#56908a)"></div><div style="height:6px;top:175px;background:linear-gradient(90deg,#46226e,#46226f,#472470,#472470,#47236f,#46206d,#461d6a,#46206d,#472f78,#455789,#4e7e8c,#66ab82,#8dcb63,#a6d656,#9ed35a,#85c66a,#6bb37f,#60a385,#5c9e87,#5ea086,#62a584,#65aa82,#66ac82,#65ab82,#63a783,#5fa285,#5b9a88,#579389,#558d8a,#538a8b,#548c8a,#579289,#5d9f86,#69b180,#82c56c,#9ed35a,#add951,#a3d557,#7dc171,#5a9988,#49728e,#455087,#463c7e,#463e7f,#454f86,#47638c,#4b758d,#50848c,#579389,#5c9c87,#5d9e87,#5b9a88,#579389,#538a8b,#50838c,#4e7f8c,#4e7c8d,#4d7c8d,#4e7e8d,#4f818c,#51858c,#53898b,#548c8a,#558d8a,#548d8a,#53898b,#50848c,#4e7e8d,#4c798d,#4b778d,#4c798d,#4f7f8c,#52888b,#579289,#5b9a88,#5d9e87,#5ea086,#5d9f86,#5b9b87,#599688,#56908a,#548b8a,#52888b,#52878b,#52888b,#53898b,#53898b)"></div><div style="height:6px;top:180px;background:linear-gradient(90deg,#46216e,#46226e,#47246f,#472470,#47236f,#46206c,#461c6a,#461f6c,#472f78,#455789,#4f7f8c,#67ae81,#92cd61,#aad853,#a2d458,#86c769,#6bb37f,#5fa185,#5b9c87,#5c9e87,#60a385,#63a783,#64a883,#62a684,#5fa185,#5b9b87,#589489,#548d8a,#52888b,#52868b,#538a8b,#579289,#5ea086,#6bb37f,#87c868,#a5d556,#b6db4d,#aad753,#82c46c,#5c9d87,#4a738e,#455087,#47377c,#47357b,#464281,#45588a,#486c8e,#4e7d8d,#548d8a,#5a9888,#5b9a88,#599688,#558f8a,#52868b,#4f818c,#4e7f8c,#4e7e8c,#4e7f8c,#4f818c,#51848c,#53898b,#548d8a,#56908a,#579189,#569189,#558e8a,#52888b,#4f808c,#4d7b8d,#4c778d,#4c798d,#4e7e8c,#51858c,#558e8a,#589489,#599788,#5a9888,#599788,#589489,#569189,#558d8a,#538a8b,#53888b,#52888b,#52888b,#53898b,#53898b)"></div><div style="height:6px;top:185px;background:linear-gradient(90deg,#46226e,#46236f,#472470,#472570,#47246f,#46206d,#461c6a,#461f6c,#472f78,#45588a,#4f808c,#69b080,#97d05e,#b0da50,#a7d655,#89c966,#6cb47f,#5fa285,#5b9a87,#5b9b87,#5ea086,#60a385,#60a385,#5ea086,#5b9b87,#589489,#558e8a,#52888b,#51848c,#51848c,#53898b,#579389,#5fa285,#6db67e,#8aca66,#a8d754,#bbdc4b,#aed951,#87c868,#60a285,#4c788d,#455589,#47397d,#473179,#47397d,#454d85,#47628c,#4b758d,#51858c,#579289,#599688,#579389,#548c8a,#51858c,#4f808c,#4e7f8c,#4f7f8c,#4f818c,#50848c,#52878b,#548b8a,#558e8a,#579289,#589389,#589389,#569189,#538a8b,#50828c,#4d7c8d,#4c798d,#4c798d,#4e7e8c,#51848c,#548c8a,#579189,#589489,#589489,#579289,#569189,#568f8a,#558e8a,#558d8a,#548c8a,#548c8a,#548c8a,#548c8a,#548d8a)"></div><div style="height:6px;top:190px;background:linear-gradient(90deg,#46236f,#472470,#472571,#472671,#472570,#46216d,#461c6a,#461f6c,#472f78,#45588a,#4f818c,#6ab27f,#9bd15c,#b8dc4c,#add952,#8fcc62,#70b87c,#61a484,#5b9b87,#5a9988,#5b9b87,#5c9d87,#5c9c87,#5a9988,#589489,#558f8a,#53898b,#50848c,#50828c,#50848c,#538a8b,#599688,#62a584,#70b87b,#8ccb64,#a8d754,#b9dc4c,#aed951,#8bca65,#65aa82,#4f818c,#46618b,#464582,#47367c,#47357b,#464381,#465a8a,#486f8e,#4f808c,#568f8a,#589589,#579289,#548b8a,#50848c,#4f808c,#4f7f8c,#4f808c,#50838c,#51868b,#53898b,#548c8a,#568f8a,#579289,#589489,#589489,#579189,#548b8a,#50838c,#4d7c8d,#4c798d,#4c7a8d,#4e7f8c,#51868b,#558e8a,#579289,#589489,#579389,#569189,#568f8a,#568f8a,#568f8a,#56908a,#569089,#569089,#569089,#569089,#569089)"></div><div style="height:6px;top:195px;background:linear-gradient(90deg,#472470,#472571,#472772,#472872,#472672,#46226e,#461d6b,#461f6c,#472f78,#455789,#4f818c,#6bb27f,#9dd25b,#bddd4a,#b6db4d,#99d05d,#79be74,#65ab82,#5d9f86,#5a9988,#599788,#599688,#589489,#579189,#558e8a,#538a8b,#51858c,#50828c,#4f818c,#51858c,#558e8a,#5b9b87,#66ab82,#76bc76,#8ecc63,#a4d557,#afda51,#a9d754,#8ecc63,#6bb47f,#579289,#4a748d,#465b8a,#464482,#47397d,#463e7f,#455488,#486b8d,#4f7f8c,#569089,#599788,#589489,#548c8a,#50838c,#4f808c,#4e7f8c,#4f818c,#50838c,#52878b,#538a8b,#558d8a,#56908a,#579289,#589489,#579389,#56908a,#53898b,#4f808c,#4d7a8d,#4b778d,#4c798d,#4f808c,#538a8b,#579389,#5a9888,#599788,#589489,#569189,#558f8a,#558f8a,#56908a,#579189,#579289,#579289,#579289,#579289,#579289)"></div><div style="height:6px;top:200px;background:linear-gradient(90deg,#472671,#472772,#472973,#472a74,#472873,#472470,#461f6c,#46206d,#472f78,#455789,#4f808c,#6ab180,#9cd25b,#c0dd48,#bfdd49,#a4d557,#84c66a,#6bb47f,#61a484,#5b9a88,#589389,#568f8a,#548d8a,#538a8b,#52888b,#51868b,#50838c,#4f818c,#50828c,#52878b,#579389,#5fa285,#6ab27f,#7cc071,#8ecc63,#9cd25b,#a3d557,#9fd359,#90cc62,#79be74,#63a883,#548c8a,#49728e,#45598a,#464281,#463d7f,#454f87,#47698d,#4f808c,#589489,#5b9b87,#599788,#558d8a,#50838c,#4e7f8c,#4e7e8c,#4f808c,#50838c,#52878b,#538a8b,#558d8a,#56908a,#579289,#579289,#569189,#548c8a,#51848c,#4d7c8d,#4b768d,#4a748d,#4c788d,#4f818c,#558f8a,#5b9a88,#5d9f86,#5c9d87,#5a9888,#579289,#558f8a,#558e8a,#568f8a,#579189,#579289,#579389,#579389,#579289,#579289)"></div><div style="height:6px;top:205px;background:linear-gradient(90deg,#472772,#472973,#472a74,#472b75,#472a74,#472571,#46206d,#46216e,#473078,#455689,#4e7f8c,#68af81,#99d15d,#c1dd48,#c7de45,#aed951,#92cd61,#77bd76,#66ac82,#5d9e87,#579389,#548c8a,#52888b,#51868b,#51858c,#50838c,#50828c,#50828c,#51848c,#548c8a,#5a9988,#64a883,#6fb77c,#80c36e,#8bca65,#92ce61,#95cf5f,#95cf5f,#91cd61,#88c867,#77bd75,#64a883,#52888b,#486b8d,#454e86,#463f80,#454e86,#47698d,#50828c,#5a9988,#5ea086,#5b9b87,#568f8a,#50848c,#4e7e8c,#4e7d8d,#4f7f8c,#50838c,#52878b,#538b8b,#558e8a,#56908a,#569189,#569189,#558e8a,#53898b,#4f808c,#4c788d,#49718e,#49708e,#4b768d,#50828c,#589489,#5fa185,#62a684,#60a385,#5b9c87,#589389,#558e8a,#558d8a,#558e8a,#569089,#579289,#579289,#579289,#579189,#569189)"></div><div style="height:6px;top:210px;background:linear-gradient(90deg,#472973,#472a74,#472b75,#472c76,#472b75,#472772,#46226e,#46236f,#473179,#455689,#4e7e8d,#66ac81,#96cf5f,#bfdd49,#ccdf43,#badc4b,#9fd35a,#84c56b,#6db67e,#62a584,#5a9888,#558d8a,#52878b,#51848c,#50838c,#50838c,#50838c,#51858c,#53898b,#579289,#5d9e87,#66ac81,#71b97a,#7ec170,#84c66a,#87c868,#89c967,#8dcb64,#94ce60,#98d05d,#92cd61,#7bbf72,#5ea086,#4c7a8d,#465a8a,#464482,#454e86,#47698d,#50838c,#5b9c87,#60a385,#5d9e87,#579189,#51848c,#4e7e8c,#4e7d8d,#4e7f8c,#50828c,#52878b,#538a8b,#558e8a,#56908a,#569189,#56908a,#548c8a,#51868c,#4e7d8d,#4a748d,#486d8e,#486c8e,#4a748d,#50838c,#599788,#62a684,#66ab82,#63a783,#5d9e87,#589389,#558d8a,#548b8a,#548d8a,#568f8a,#569189,#579189,#569189,#569089,#56908a)"></div><div style="height:6px;top:215px;background:linear-gradient(90deg,#472973,#472a74,#472b75,#472c76,#472b75,#472772,#46236f,#472570,#47337a,#455789,#4e7d8d,#65aa82,#91cd61,#badc4b,#ccdf43,#c2dd47,#a9d754,#90cd62,#7abf73,#69b080,#5fa285,#599688,#558d8a,#52888b,#51858c,#51858c,#52868b,#538a8b,#569189,#5a9988,#60a385,#67ad81,#6db67e,#76bc77,#7abf73,#7cc071,#80c36e,#89c966,#99d15d,#a8d655,#a9d754,#94ce60,#6bb27f,#52868b,#47638c,#464984,#455087,#47698d,#50838c,#5b9b87,#60a385,#5d9e87,#579289,#51858c,#4e7f8c,#4e7d8d,#4f7f8c,#50828c,#52878b,#538a8b,#558e8a,#56908a,#569089,#568f8a,#548b8a,#50848c,#4d7b8d,#49728e,#486a8d,#476a8d,#4a738e,#50828c,#599788,#63a783,#67ad81,#63a883,#5c9d87,#579289,#548b8b,#53898b,#548b8a,#558e8a,#569189,#579189,#569189,#56908a,#568f8a)"></div><div style="height:6px;top:220px;background:linear-gradient(90deg,#472973,#472a74,#472b75,#472b75,#472a74,#472772,#472570,#472772,#47367c,#45588a,#4d7c8d,#62a684,#89c966,#afda51,#c4de46,#c1dd48,#aed951,#9bd15c,#87c868,#75bc77,#68af81,#60a285,#599888,#568f8a,#538a8b,#53898b,#548c8a,#579289,#5a9988,#5ea086,#62a684,#66ac82,#69b080,#6bb47f,#6eb77d,#73ba79,#7cc071,#8aca65,#a1d458,#b7db4c,#c0dd48,#a8d754,#79be74,#579289,#486b8d,#455187,#455388,#47688d,#4f818c,#5a9888,#5ea186,#5c9c87,#579189,#51868b,#4f808c,#4e7e8c,#4f808c,#50838c,#52878b,#538a8b,#558e8a,#56908a,#569089,#558f8a,#548b8b,#50838c,#4d7b8d,#49718e,#47698d,#47688d,#49728e,#4f818c,#599688,#62a584,#65aa82,#61a584,#5b9a88,#558e8a,#52888b,#52878b,#538a8b,#558e8a,#569189,#579289,#569189,#569089,#568f8a)"></div><div style="height:6px;top:225px;background:linear-gradient(90deg,#472973,#472973,#472a74,#472a74,#472974,#472873,#472772,#472c76,#463c7e,#465b8a,#4d7b8d,#5fa186,#7ec270,#a0d359,#b1da4f,#b5db4e,#acd852,#a0d359,#92cd61,#84c56b,#76bc77,#69b180,#61a584,#5b9a88,#579389,#569089,#579389,#5a9a88,#5fa186,#62a684,#64a983,#65aa82,#65aa82,#66ac82,#69b080,#70b87c,#7ec170,#91cd61,#acd852,#cadf43,#d4e13f,#b9dc4c,#85c76a,#5c9c87,#4a738e,#45598a,#45588a,#47698d,#4e7f8c,#589489,#5c9c87,#5a9988,#56908a,#51858c,#4f808c,#4e7f8c,#4f808c,#50838c,#52868b,#538a8b,#558e8a,#56908a,#569089,#568f8a,#548b8a,#50848c,#4d7b8d,#4a728e,#486b8d,#47698d,#49728e,#4f808c,#579289,#5fa186,#62a584,#5ea086,#589589,#538a8b,#51858c,#51858c,#53898b,#558e8a,#579189,#579289,#579189,#569089,#568f8a)"></div><div style="height:6px;top:230px;background:linear-gradient(90deg,#472973,#472973,#472973,#472973,#472973,#472974,#472c76,#47347b,#464582,#465f8b,#4c798d,#5a9888,#6cb57e,#87c868,#99d05d,#a1d458,#a1d458,#9dd25a,#97d05e,#8ecc63,#84c66b,#78bd75,#6bb37f,#64a883,#5ea086,#5b9c87,#5c9d87,#5fa185,#62a684,#65aa82,#65aa82,#64a883,#63a883,#65aa82,#69b180,#74bb78,#86c769,#9fd35a,#bfdd49,#dde33a,#e4e437,#c8df45,#8fcc62,#61a584,#4d7b8d,#46618b,#465d8b,#486b8d,#4e7d8d,#568f8a,#599788,#589489,#548d8a,#50848c,#4f808c,#4e7f8c,#4f808c,#50838c,#51868b,#538a8b,#558d8a,#56908a,#569189,#568f8a,#548c8a,#51858c,#4e7d8d,#4a748d,#486e8e,#486c8e,#4a738e,#4e7f8c,#558f8a,#5b9b87,#5d9e87,#5a9988,#568f8a,#51868b,#50828c,#50838c,#52888b,#558e8a,#579289,#579389,#579289,#569189,#56908a)"></div><div style="height:6px;top:235px;background:linear-gradient(90deg,#472a74,#472974,#472873,#472872,#472973,#472c76,#47337a,#463f80,#455187,#47638c,#4b768d,#538a8b,#5ea086,#6ab27f,#79be74,#85c66a,#8dcb64,#92cd61,#94ce60,#92ce61,#8dcb63,#85c66a,#7bbf73,#6fb77c,#69b080,#65aa82,#63a883,#64a883,#64a983,#65aa82,#64a983,#64a983,#65ab82,#69b080,#72b97a,#82c56c,#98d05d,#b2da4f,#d6e13e,#ebe535,#ede534,#d3e13f,#98d05d,#67ad81,#50838c,#486b8d,#47658c,#486f8e,#4e7d8d,#548c8a,#579289,#568f8a,#52888b,#4f818c,#4e7e8c,#4e7e8d,#4f7f8c,#50828c,#51868b,#538a8b,#558d8a,#56908a,#569089,#568f8a,#548c8a,#52878b,#4f7f8c,#4c788d,#4a728e,#49718e,#4b758d,#4e7f8c,#538b8b,#589489,#599688,#579189,#53898b,#50828c,#4f808c,#50838c,#52888b,#558e8a,#579289,#579389,#579289,#569189,#56908a)"></div><div style="height:6px;top:240px;background:linear-gradient(90deg,#472c76,#472b75,#472873,#472772,#472973,#473078,#463c7e,#454d85,#465c8a,#47698d,#4a738d,#4e7d8d,#52888b,#599688,#61a485,#6ab180,#76bc76,#82c46c,#8aca66,#8ecc63,#8fcc62,#8ccb64,#87c868,#80c36e,#78be74,#70b87b,#6ab27f,#67ac81,#64a883,#63a784,#63a883,#66ab82,#6ab27f,#74bb78,#83c56b,#97d05e,#add951,#cddf42,#e8e436,#f3e633,#f1e633,#d7e23d,#9ed25a,#6bb37f,#548c8a,#4a748d,#486e8e,#4a748d,#4e7e8c,#53898b,#558d8a,#538a8b,#50838c,#4e7e8c,#4d7c8d,#4d7c8d,#4e7e8c,#4f818c,#51858c,#53898b,#558d8a,#568f8a,#569089,#568f8a,#548c8a,#52888b,#4f818c,#4d7b8d,#4b778d,#4b758d,#4c788d,#4e7f8c,#52878b,#558d8a,#558e8a,#538a8b,#51848c,#4f808c,#4f808c,#50838c,#52888b,#558e8a,#579289,#579389,#579289,#569189,#56908a)"></div><div style="height:6px;top:245px;background:linear-gradient(90deg,#472f78,#472d76,#472a74,#472873,#472b75,#47347b,#464582,#455789,#47648c,#486d8e,#49718e,#4a738e,#4b768d,#4e7e8d,#548b8b,#5b9c87,#66ac81,#72b97a,#7ec170,#85c66a,#89c966,#8bca65,#8ccb64,#8ac966,#85c66a,#7cc072,#6fb87c,#67ae81,#62a584,#60a285,#62a684,#68ae81,#72b97a,#83c56b,#96cf5f,#a9d754,#c1dd48,#dae23c,#ebe535,#f1e533,#ebe535,#cfe041,#9cd25b,#6eb67e,#589489,#4e7c8d,#4b758d,#4c788d,#4f7f8c,#52878b,#52888b,#51858c,#4f7f8c,#4d7b8d,#4c7a8d,#4d7b8d,#4e7d8d,#4f818c,#51858c,#538a8b,#558d8a,#568f8a,#56908a,#558e8a,#548c8a,#52878b,#50828c,#4e7e8d,#4d7a8d,#4c798d,#4d7a8d,#4e7e8c,#50838c,#52878b,#52888b,#51858c,#50828c,#4f808c,#4f818c,#50848c,#53898b,#558e8a,#579189,#579289,#579289,#569089,#56908a)"></div><div style="height:6px;top:250px;background:linear-gradient(90deg,#47337a,#473078,#472c76,#472b75,#472d77,#47387d,#464b85,#465d8b,#47698d,#486f8e,#486f8e,#486d8e,#486c8e,#49718e,#4e7d8d,#558d8a,#5ea086,#68af81,#70b87b,#77bd75,#7cc071,#80c36e,#84c56b,#85c769,#83c56b,#7bc072,#6db67e,#65aa82,#5ea086,#5d9e87,#61a484,#6ab180,#7abf73,#8ecc63,#a0d459,#afda50,#c0dd48,#cfe041,#d9e23c,#dce23b,#d1e040,#b4db4e,#90cd62,#6cb47f,#5a9888,#50838c,#4d7b8d,#4d7c8d,#4f808c,#50838c,#50838c,#4f808c,#4d7c8d,#4c798d,#4c788d,#4d7a8d,#4e7e8c,#50828c,#52878b,#548b8a,#558e8a,#56908a,#568f8a,#558d8a,#53898b,#51858c,#4f808c,#4e7d8d,#4d7a8d,#4c798d,#4c7a8d,#4e7d8d,#4f808c,#50838c,#50848c,#50838c,#50838c,#50828c,#50848c,#52878b,#548b8a,#558f8a,#569189,#579289,#579189,#569089,#56908a)"></div><div style="height:6px;top:255px;background:linear-gradient(90deg,#47377c,#47347b,#473079,#472f78,#473179,#463c7e,#454e86,#465e8b,#47698d,#486f8e,#486f8e,#486d8e,#486d8e,#49728e,#4d7c8d,#548c8a,#5c9c87,#64a883,#68ae81,#69b180,#6ab280,#6bb37f,#6db67e,#70b87b,#70b87b,#6cb47f,#66ab82,#5fa186,#5b9a88,#5b9a88,#60a385,#6bb27f,#7dc171,#8fcc62,#9bd15b,#a2d458,#a5d556,#a6d655,#a8d755,#a7d655,#a0d359,#91cd61,#7bbf72,#66ac82,#599788,#52878b,#4f7f8c,#4e7e8d,#4e7f8c,#4f808c,#4e7f8c,#4d7c8d,#4c798d,#4c788d,#4c798d,#4d7c8d,#4f808c,#51858c,#538a8b,#558e8a,#569089,#569189,#558f8a,#548b8a,#51868b,#4f818c,#4d7c8d,#4c788d,#4b758d,#4a748d,#4b768d,#4c798d,#4e7d8d,#4f818c,#50848c,#51868b,#52878b,#52888b,#538a8b,#548c8a,#558e8a,#56908a,#569189,#569189,#569189,#569089,#569089)"></div><div style="height:6px;top:260px;background:linear-gradient(90deg,#463b7e,#47397d,#47367c,#47347b,#47377c,#463f80,#454d86,#465b8a,#47668c,#486d8e,#49708e,#49728e,#4b758d,#4d7b8d,#51868b,#589489,#5ea086,#63a784,#63a783,#61a485,#5ea086,#5c9d87,#5c9d87,#5d9f86,#5ea086,#5d9e87,#5a9a88,#589589,#579389,#599788,#60a385,#6ab280,#7abf73,#86c769,#89c966,#86c769,#80c36e,#7abf73,#77bd76,#75bb77,#72b97a,#6cb57e,#66ac82,#5ea086,#589489,#53898b,#50828c,#4e7f8c,#4e7d8d,#4d7c8d,#4d7a8d,#4c788d,#4c788d,#4c788d,#4d7b8d,#4e7f8c,#50838c,#53898b,#558e8a,#579189,#579389,#579289,#558e8a,#52888b,#4f818c,#4d7b8d,#4b758d,#49708e,#486d8e,#486c8e,#486f8e,#4a738e,#4c798d,#4f7f8c,#51858c,#538a8b,#558d8a,#568f8a,#569089,#569189,#569189,#569189,#569089,#569089,#569089,#569089,#569089)"></div><div style="height:6px;top:265px;background:linear-gradient(90deg,#463f80,#463e7f,#463c7e,#473b7e,#463c7e,#464281,#464c85,#45588a,#46618b,#476a8d,#49718e,#4c778d,#4e7f8c,#53898b,#599688,#5fa185,#64a983,#65aa82,#61a584,#5b9b87,#569189,#53898b,#51868b,#51858c,#51868b,#52878b,#52888b,#53898b,#558d8a,#589589,#5fa186,#68ae81,#70b87b,#76bc77,#71b97a,#69b080,#62a584,#5c9c87,#599788,#589589,#589589,#599588,#589589,#579389,#568f8a,#548b8a,#51868b,#4f818c,#4d7c8d,#4c798d,#4b778d,#4b768d,#4b768d,#4c798d,#4d7c8d,#4f818c,#52878b,#558d8a,#579189,#589489,#589489,#579289,#558d8a,#51858c,#4e7d8d,#4b768d,#486e8e,#47678d,#47628c,#46618b,#47648c,#486c8e,#4a748d,#4e7d8d,#50848c,#548b8a,#56908a,#579389,#589489,#589489,#579289,#569189,#569089,#56908a,#569089,#569089,#569189)"></div><div style="height:6px;top:270px;background:linear-gradient(90deg,#464381,#464281,#464180,#464080,#464181,#464582,#464b85,#455489,#465d8b,#47668c,#49718e,#4d7b8d,#51868b,#589589,#60a385,#67ae81,#6cb47f,#6bb37f,#64a983,#5b9b87,#548c8a,#4f818c,#4d7b8d,#4c788d,#4c788d,#4d7a8d,#4e7d8d,#4f828c,#53898b,#579289,#5c9d87,#63a783,#67ad81,#66ac82,#60a385,#599688,#52878b,#4d7c8d,#4b768d,#4b758d,#4c778d,#4d7c8d,#4f828c,#52888b,#558d8a,#568f8a,#548c8a,#51858c,#4e7e8c,#4c798d,#4b758d,#4a748d,#4b758d,#4c788d,#4e7d8d,#50828c,#53898b,#568f8a,#589389,#589588,#589589,#579189,#548b8a,#50828c,#4d7a8d,#49718e,#47678d,#465e8b,#45588a,#455689,#465a8a,#47628c,#486d8e,#4b778d,#4f7f8c,#52868b,#548c8a,#569089,#579289,#579289,#579289,#569189,#56908a,#56908a,#56908a,#569089,#569089)"></div><div style="height:6px;top:275px;background:linear-gradient(90deg,#464683,#464682,#464582,#464482,#464582,#464883,#454d85,#455489,#465b8a,#47648c,#486e8e,#4c798d,#51858c,#599688,#63a783,#6db67e,#78be74,#79be74,#6db67e,#63a783,#599688,#52878b,#4e7e8c,#4d7a8d,#4c788d,#4c7a8d,#4e7d8d,#4f818c,#52888b,#568f8a,#599688,#5b9c87,#5c9d87,#5a9888,#558d8a,#4f808c,#4a738d,#47688d,#47628c,#46618b,#47658c,#486d8e,#4c788d,#50848c,#56908a,#599688,#589589,#558e8a,#50848c,#4d7c8d,#4b768d,#4a748d,#4a748d,#4b778d,#4d7b8d,#4f818c,#52888b,#558e8a,#579389,#589489,#589389,#568f8a,#53898b,#4f808c,#4c788d,#486e8e,#47638c,#45598a,#455087,#464b85,#454e86,#455789,#46618b,#486c8e,#4a748d,#4d7b8d,#4f808c,#51848c,#52888b,#548b8a,#558d8a,#558f8a,#568f8a,#56908a,#56908a,#568f8a,#568f8a)"></div><div style="height:6px;top:280px;background:linear-gradient(90deg,#464884,#464883,#464683,#464683,#464783,#464a84,#454f86,#455689,#465c8a,#47628c,#476a8d,#4a728e,#4e7d8d,#558e8a,#61a484,#71b87b,#84c56b,#8bca65,#83c56b,#73ba79,#65ab82,#5c9c87,#569189,#53898b,#51858c,#50848c,#51858c,#52878b,#53898b,#548b8a,#558d8a,#548d8a,#538a8b,#50838c,#4d7b8d,#49718e,#47668c,#465d8b,#455789,#455689,#465b8a,#47658c,#4a748d,#50848c,#589589,#5e9f86,#5ea086,#5a9888,#558d8a,#4f818c,#4d7a8d,#4b758d,#4a748d,#4b758d,#4c798d,#4e7e8c,#51858c,#548b8a,#56908a,#579189,#569089,#548c8a,#51868b,#4e7f8c,#4b778d,#486d8e,#47628c,#455789,#464b85,#464482,#464482,#464a84,#455489,#465d8b,#47648c,#486b8d,#49718e,#4b768d,#4d7b8d,#4f818c,#52878b,#548c8a,#568f8a,#569089,#56908a,#558f8a,#558e8a)"></div><div style="height:6px;top:285px;background:linear-gradient(90deg,#464884,#464783,#464682,#464582,#464683,#464a84,#455187,#45588a,#465e8b,#47628c,#47658c,#47698d,#4a738e,#4f828c,#5b9c87,#6eb77d,#8aca65,#9cd25b,#9cd25b,#90cc62,#7fc26f,#6eb77d,#67ad81,#61a484,#5d9e87,#5a9888,#589489,#56908a,#548b8a,#52878b,#50828c,#4e7e8c,#4c798d,#4a738e,#486c8e,#47658c,#465d8b,#455789,#455388,#455288,#455789,#47628c,#4a738d,#51868b,#5b9a88,#63a784,#64a883,#5fa285,#599688,#53898b,#4e7f8c,#4c788d,#4b758d,#4a748d,#4b778d,#4d7c8d,#4f818c,#52878b,#548b8a,#548d8a,#548c8a,#53898b,#50838c,#4e7d8d,#4b768d,#486e8e,#47638c,#45588a,#464c85,#464281,#463e7f,#464080,#464682,#454d86,#455489,#465a8a,#46608b,#47678d,#49708e,#4c798d,#50828c,#548b8a,#569089,#579289,#569189,#558f8a,#558d8a)"></div><div style="height:6px;top:290px;background:linear-gradient(90deg,#464582,#464482,#464281,#464080,#464281,#464883,#455288,#465a8a,#46608b,#47628c,#46618b,#46618b,#47678d,#4b778d,#569089,#69b080,#8aca66,#a5d656,#afda50,#acd852,#a0d359,#92ce61,#86c769,#7bbf72,#70b87c,#68af81,#61a484,#5a9988,#558d8a,#50828c,#4c7a8d,#49728e,#486a8d,#47648c,#465f8b,#465b8a,#45588a,#455589,#455288,#455288,#455789,#47628c,#4a738d,#52878b,#5b9c87,#65aa82,#67ad81,#63a783,#5c9c87,#56908a,#51858c,#4e7d8d,#4c798d,#4c778d,#4c788d,#4d7b8d,#4f7f8c,#50838c,#52868b,#52878b,#52878b,#51858c,#4f818c,#4e7d8d,#4b778d,#49708e,#47668c,#465b8a,#455087,#464582,#463f7f,#463d7f,#463f7f,#464281,#464783,#454d86,#455589,#465e8b,#47698d,#4b758d,#4f808c,#548b8a,#579289,#589489,#579389,#569189,#558f8a)"></div><div style="height:6px;top:295px;background:linear-gradient(90deg,#463f80,#463d7f,#473b7e,#47397d,#463b7e,#464381,#454f86,#465a8a,#46608b,#47628c,#465f8b,#465c8a,#46608b,#486e8e,#51858c,#62a684,#80c36e,#a1d458,#b7db4d,#c1dd48,#bfdd49,#b5db4e,#aad853,#9ed25a,#8ecc63,#7cc071,#6ab27f,#5ea086,#558e8a,#4e7e8c,#49728e,#47678d,#465e8b,#45588a,#455589,#455388,#455388,#455288,#455187,#455288,#455789,#46618b,#49728e,#50838c,#5a9888,#62a684,#65aa82,#62a684,#5c9d87,#579389,#548b8b,#51858c,#4f818c,#4e7f8c,#4e7e8c,#4e7f8c,#4f808c,#4f818c,#50828c,#50828c,#50828c,#4f818c,#4f7f8c,#4d7c8d,#4c788d,#49728e,#486a8d,#46608b,#455789,#454d86,#464683,#464381,#464381,#464682,#464a84,#455087,#455789,#46608b,#486c8e,#4c788d,#50838c,#568f8a,#599688,#5a9888,#599788,#589489,#579289)"></div><div style="height:6px;top:300px;background:linear-gradient(90deg,#473a7e,#47387d,#47357b,#47347b,#47367c,#463e7f,#464c85,#45598a,#46608b,#47628c,#465f8b,#465b8a,#465d8b,#47688d,#4e7d8d,#5a9988,#6fb87c,#90cd62,#acd852,#c3de47,#d0e040,#d3e13f,#ccdf42,#bcdc4a,#a6d655,#8ecc63,#73ba79,#60a385,#548c8a,#4c798d,#486b8d,#465e8b,#455689,#454f86,#464c85,#464c85,#454d86,#454e86,#454e86,#455087,#455689,#465f8b,#486e8e,#4e7e8c,#568f8a,#5c9c87,#5ea086,#5d9e86,#5a9988,#579389,#558f8a,#558d8a,#548c8a,#538b8b,#52888b,#51858c,#50828c,#4f808c,#4e7f8c,#4e7f8c,#4f7f8c,#4f7f8c,#4e7e8c,#4d7c8d,#4c798d,#4a748d,#486e8e,#47668c,#465e8b,#45588a,#455388,#455187,#455288,#455589,#45598a,#465e8b,#47648c,#486d8e,#4b768d,#4f808c,#548b8a,#589589,#5b9a88,#5b9c87,#5b9b87,#5a9988,#599788)"></div><div style="height:6px;top:305px;background:linear-gradient(90deg,#463d7f,#463b7e,#47387d,#47377c,#47397d,#464180,#454d86,#45598a,#46608b,#47628c,#465f8b,#465c8a,#465d8b,#47658c,#4b768d,#548b8a,#62a784,#7abf73,#97d05e,#b1da50,#cbdf43,#d9e23c,#d9e23c,#cbdf43,#b0da50,#95cf5f,#75bc77,#5fa285,#52878b,#4a738d,#47638c,#45588a,#454e86,#464884,#464683,#464783,#464884,#464a84,#464a84,#454c85,#455288,#465b8a,#47698d,#4c778d,#51858c,#569089,#589489,#589389,#569089,#558e8a,#568f8a,#579389,#599688,#599688,#579389,#548d8a,#51858c,#4f808c,#4e7e8c,#4e7e8d,#4e7e8c,#4f7f8c,#4e7f8c,#4e7d8d,#4d7b8d,#4b778d,#4a728e,#486c8e,#47668c,#47628c,#465f8b,#465f8b,#46618b,#47648c,#47698d,#486f8e,#4b758d,#4d7b8d,#50828c,#548b8a,#589389,#5b9a88,#5c9d87,#5d9e86,#5d9e87,#5c9d87,#5b9c87)"></div><div style="height:6px;top:310px;background:linear-gradient(90deg,#454e86,#454c85,#464b85,#464a84,#464b85,#455087,#455789,#465c8a,#46618b,#47628c,#46608b,#465e8b,#465e8b,#47648c,#49708e,#4e7f8c,#589389,#65aa82,#7bbf72,#96cf5f,#add951,#c1dd48,#c6de45,#bcdc4a,#a7d655,#8bcb65,#6db67e,#5b9a87,#4f808c,#486d8e,#465d8b,#455187,#464984,#464482,#464381,#464381,#464482,#464582,#464582,#464783,#454d85,#455789,#47638c,#49718e,#4e7d8d,#51858c,#53898b,#52888b,#51868b,#51868b,#538b8b,#579289,#5a9988,#5c9d87,#5b9a88,#579389,#538a8b,#50838c,#4f808c,#4f808c,#4f818c,#4f828c,#4f818c,#4f808c,#4e7d8d,#4c798d,#4b758d,#49718e,#486e8e,#486c8e,#486b8d,#486d8e,#49708e,#4a738d,#4c788d,#4e7e8d,#50838c,#538a8b,#569089,#589588,#5a9988,#5c9c87,#5d9e87,#5d9e86,#5d9e87,#5c9e87,#5c9d87)"></div><div style="height:6px;top:315px;background:linear-gradient(90deg,#47698d,#47698d,#476a8d,#486a8d,#476a8d,#47698d,#47678d,#47658c,#47638c,#46608b,#465f8b,#465e8b,#46608b,#47658c,#486c8e,#4b768d,#4f818c,#579389,#62a684,#71b97a,#85c66a,#94ce60,#99d05d,#94ce60,#86c769,#72b97a,#61a484,#548c8a,#4b768d,#47648c,#455789,#464b85,#464482,#464080,#463f80,#463f80,#464080,#464080,#464080,#464180,#464582,#454f87,#465d8b,#486c8e,#4c788d,#4f808c,#4f818c,#4e7f8c,#4d7c8d,#4d7b8d,#4f808c,#53898b,#579389,#5b9a88,#5b9a88,#589589,#558e8a,#52888b,#51868b,#51868b,#52888b,#53898b,#52878b,#50838c,#4e7f8c,#4d7b8d,#4b778d,#4b758d,#4a738d,#4a738d,#4a748d,#4b778d,#4d7a8d,#4e7e8c,#50838c,#538a8b,#568f8a,#589489,#5a9888,#5a9a88,#5b9a88,#5b9a87,#5b9a87,#5b9a88,#5b9a87,#5b9a87,#5b9a87)"></div><div style="height:6px;top:320px;background:linear-gradient(90deg,#53898b,#548b8b,#558d8a,#558e8a,#548d8a,#51868b,#4d7c8d,#49728e,#47678d,#46608b,#465d8b,#465e8b,#47628c,#47658c,#47698d,#486e8e,#4a748d,#4e7d8d,#53898b,#599788,#61a485,#67ac81,#69b080,#68ae81,#63a783,#5b9b87,#548b8b,#4d7a8d,#486b8d,#465b8a,#454f86,#464582,#463f80,#463c7e,#463c7e,#463c7e,#463d7f,#463c7e,#473a7d,#47397d,#463c7e,#464683,#45588a,#47698d,#4b778d,#4e7e8c,#4e7e8c,#4c798d,#4a738e,#49708e,#4a738e,#4d7b8d,#51858c,#558f8a,#579389,#579389,#569089,#558e8a,#558f8a,#569089,#579289,#579289,#558e8a,#52888b,#4f818c,#4d7c8d,#4c788d,#4b778d,#4c778d,#4c798d,#4d7c8d,#4e7f8c,#50828c,#52878b,#548c8a,#569189,#589589,#5a9888,#5a9988,#5a9888,#599688,#589589,#589389,#579389,#589389,#589489,#589489)"></div><div style="height:6px;top:325px;background:linear-gradient(90deg,#69b080,#6bb37f,#6fb77c,#72b97a,#6db67e,#65aa82,#599688,#4e7f8c,#486e8e,#46618b,#465c8a,#465e8b,#47628c,#47658c,#47668c,#47668c,#47678d,#486a8d,#49708e,#4b768d,#4d7c8d,#4f818c,#50838c,#50838c,#4f808c,#4d7a8d,#49728e,#47688d,#465c8a,#455288,#464783,#463f80,#473a7e,#47387d,#47387d,#47397d,#47397d,#47387c,#47337b,#473179,#47327a,#463d7f,#455488,#47688d,#4b778d,#4f7f8c,#4e7d8d,#4b758d,#486a8d,#47628c,#47638c,#486c8e,#4b768d,#4f7f8c,#52878b,#548c8a,#568f8a,#579289,#599688,#5a9988,#5b9b87,#5b9a88,#589589,#558d8a,#51848c,#4e7e8c,#4d7b8d,#4d7a8d,#4d7b8d,#4e7e8d,#4f818c,#51858c,#53898b,#558d8a,#569189,#589489,#599688,#599688,#589588,#579389,#56908a,#558d8a,#548b8a,#548b8a,#548b8a,#548c8a,#548c8a)"></div><div style="height:6px;top:330px;background:linear-gradient(90deg,#8fcc62,#96cf5f,#9ed25a,#a2d458,#9bd15b,#85c66a,#68af81,#56908a,#4b768d,#47658c,#465e8b,#465e8b,#46618b,#47638c,#47628c,#465e8b,#465b8a,#45598a,#45598a,#465b8a,#465d8b,#465f8b,#46608b,#46608b,#465f8b,#465d8b,#46598a,#455589,#454d86,#464683,#463f80,#47397d,#47357b,#47347b,#47347b,#47357b,#47367c,#47337a,#472e77,#472a74,#472a74,#47357b,#454e86,#47678d,#4c798d,#50828c,#4e7f8c,#4a748d,#47648c,#45588a,#455589,#465b8a,#47668c,#49718e,#4d7a8d,#50828c,#538a8b,#569189,#599788,#5c9c87,#5d9e86,#5d9e87,#5a9988,#579289,#53898b,#50828c,#4e7f8c,#4e7e8c,#4e7f8c,#4f818c,#51848c,#52888b,#548c8a,#568f8a,#579289,#579389,#589389,#579289,#569089,#548d8a,#53898b,#51868b,#50848c,#50848c,#50848c,#51858c,#51858c)"></div><div style="height:6px;top:335px;background:linear-gradient(90deg,#aed951,#b7db4d,#c4de46,#cadf43,#c0dd48,#a2d458,#7cc072,#5ea086,#4f808c,#486e8e,#47628c,#465f8b,#465e8b,#465e8b,#465a8a,#455689,#454f86,#464984,#464582,#464281,#464181,#464180,#464180,#464180,#464181,#464181,#464181,#464180,#463f80,#463c7e,#47387d,#47347b,#473079,#472f78,#473079,#47317a,#47327a,#472f78,#472973,#47236f,#47236f,#472f77,#464a84,#47678d,#4d7b8d,#51868c,#50828c,#4b758d,#47638c,#455288,#464984,#454d85,#455789,#47638c,#486e8e,#4b778d,#4f7f8c,#52878b,#568f8a,#589589,#5a9988,#5b9a88,#5a9888,#589489,#568f8a,#538a8b,#52878b,#51848c,#50848c,#51848c,#51868b,#53898b,#548c8a,#558e8a,#56908a,#569089,#56908a,#558e8a,#548b8a,#52888b,#51848c,#4f828c,#4f808c,#4f808c,#4f808c,#4f818c,#4f818c)"></div><div style="height:6px;top:340px;background:linear-gradient(90deg,#c0dd48,#c9df44,#d4e13f,#dae23c,#d1e040,#b1da50,#8bca65,#68af81,#56908a,#4c798d,#486a8d,#46618b,#465a8a,#455689,#454f87,#464984,#464381,#463e7f,#473a7d,#47367c,#47337b,#47317a,#473079,#473078,#473078,#473179,#47327a,#47347b,#47357b,#47347b,#47317a,#472e77,#472c75,#472b75,#472c76,#472e77,#472e77,#472b75,#472470,#461e6b,#461e6b,#472a74,#464783,#47678d,#4e7d8d,#53898b,#51868b,#4c788d,#47658c,#455388,#464682,#464482,#464b85,#455689,#46608b,#476a8d,#4a728e,#4c7a8d,#4f808c,#51868b,#548b8a,#568f8a,#579289,#589489,#589489,#589389,#569189,#558d8a,#53898b,#52868b,#51868c,#52878b,#53898b,#548b8a,#548c8a,#548c8a,#548c8a,#538a8b,#52878b,#51858c,#50828c,#4f808c,#4e7f8c,#4e7f8c,#4e7f8c,#4f7f8c,#4f808c)"></div><div style="height:6px;top:345px;background:linear-gradient(90deg,#c0dd48,#c7de45,#d0e041,#d4e13f,#cde042,#b4db4e,#95cf5f,#74bb78,#5ea086,#52868b,#4a748d,#47648c,#455789,#464a84,#464281,#463d7f,#473a7d,#47387c,#47357b,#47337a,#473179,#472f78,#472d76,#472b75,#472a74,#472a74,#472c75,#472d77,#472f77,#472e77,#472d76,#472a74,#472872,#472772,#472873,#472a74,#472a74,#472772,#46206c,#461968,#461a68,#472672,#464582,#47668c,#4e7e8c,#548d8a,#548b8b,#4e7d8d,#486b8d,#45588a,#464984,#464381,#464482,#464b85,#455489,#465b8a,#47638c,#486a8d,#49708e,#4b758d,#4d7b8d,#4f808c,#52878b,#568f8a,#589589,#5a9888,#599788,#579289,#548c8a,#52878b,#50848c,#50848c,#51858c,#52878b,#52888b,#52888b,#52888b,#52868b,#51858c,#50838c,#4f828c,#4f818c,#4f808c,#4f808c,#4f808c,#4f808c,#4f808c)"></div><div style="height:6px;top:350px;background:linear-gradient(90deg,#b4db4e,#b9dc4c,#bedd49,#c1dd48,#bddc4a,#aed951,#9bd15c,#82c46c,#6ab180,#5a9888,#4e7e8c,#47698d,#455488,#464080,#47357b,#47327a,#47327a,#47347b,#47347b,#47347b,#47337a,#473179,#472e77,#472c75,#472a74,#472973,#472974,#472a74,#472b75,#472a74,#472873,#472671,#472470,#472470,#472571,#472772,#472772,#47236f,#461c6a,#461666,#461766,#472470,#464381,#47668c,#4e7f8c,#568f8a,#568f8a,#50828c,#49728e,#465f8b,#455187,#464783,#464381,#464482,#464883,#454d86,#455489,#46598a,#465e8b,#47648c,#486a8d,#49728e,#4d7a8d,#50838c,#558d8a,#589489,#589589,#569189,#548b8a,#51858c,#50828c,#4f828c,#50828c,#50838c,#51848c,#51858c,#51848c,#50848c,#50838c,#50838c,#50828c,#50828c,#50828c,#50828c,#50828c,#50828c,#50828c)"></div><div style="height:6px;top:355px;background:linear-gradient(90deg,#a8d754,#a9d754,#abd853,#abd853,#aad853,#a6d655,#9ed25a,#8fcc62,#7abf73,#64a983,#538a8b,#486f8e,#455388,#47397d,#472d76,#472b75,#472e77,#473179,#47337b,#47347b,#47347b,#47327a,#472f78,#472d76,#472a74,#472973,#472873,#472873,#472872,#472772,#472571,#47236f,#46226e,#46226e,#47246f,#472571,#472570,#46226e,#461b69,#461564,#461665,#46236f,#464181,#47658c,#4e7e8c,#569089,#579389,#52888b,#4c798d,#47698d,#465b8a,#455087,#464883,#464482,#464381,#464482,#464783,#464b85,#454f87,#455589,#465a8a,#46618b,#486b8d,#4a748d,#4d7c8d,#50828c,#51868b,#51868b,#50848c,#50828c,#4f818c,#4f818c,#4f828c,#50828c,#50838c,#50838c,#50838c,#50828c,#50838c,#50838c,#51848c,#51858c,#51858c,#51858c,#51858c,#51858c,#51858c)"></div><div style="height:6px;top:360px;background:linear-gradient(90deg,#9cd25b,#9cd25b,#9bd15c,#9bd15c,#9bd15b,#9dd25a,#9fd35a,#9ad15c,#8bca65,#70b87c,#599888,#4b758d,#455689,#47367c,#472973,#472671,#472a74,#472f77,#473179,#47327a,#47327a,#473079,#472f78,#472d76,#472b75,#472973,#472872,#472772,#472671,#472470,#46236f,#46226e,#46216d,#46216e,#47236f,#472570,#472470,#46216d,#461a68,#461464,#461565,#46226e,#464080,#47648c,#4e7e8d,#569189,#599688,#558e8a,#4f808c,#49728e,#47658c,#465a8a,#455087,#464884,#464482,#464281,#464281,#464381,#464582,#464984,#454d85,#455288,#45588a,#465e8b,#47658c,#486c8e,#49728e,#4b768d,#4d7a8d,#4e7e8d,#4f808c,#4f828c,#50828c,#50838c,#50828c,#50828c,#50828c,#50828c,#50838c,#51858c,#52868b,#52888b,#53898b,#538a8b,#53898b,#53898b,#53898b)"></div><div style="height:6px;top:365px;background:linear-gradient(90deg,#90cd62,#8ecc63,#8bca65,#8aca66,#8ccb64,#93ce60,#9ed25a,#a3d457,#9bd15c,#80c36e,#60a385,#4d7c8d,#45598a,#47367c,#472671,#472470,#472872,#472c76,#472f78,#472f78,#472f78,#472e77,#472c76,#472b75,#472a74,#472973,#472772,#472671,#472470,#47236f,#46226e,#46216d,#46216d,#46226e,#47236f,#472570,#472570,#46216e,#461a69,#461565,#461665,#46226e,#463f80,#47638c,#4e7d8d,#569089,#599888,#579389,#52878b,#4d7a8d,#486f8e,#47648c,#465a8a,#455288,#464c85,#464783,#464582,#464582,#464582,#464582,#464582,#464582,#464582,#464582,#464884,#454f86,#46598a,#47658c,#49708e,#4c798d,#4f7f8c,#50838c,#50848c,#50848c,#50838c,#50828c,#50828c,#50828c,#50838c,#51868b,#53898b,#548b8a,#558d8a,#558d8a,#558d8a,#548d8a,#548c8a)"></div><div style="height:6px;top:370px;background:linear-gradient(90deg,#83c56b,#80c36e,#7cc071,#7bbf73,#7ec170,#88c867,#99d15d,#a7d655,#a6d656,#8ccb64,#66ac82,#4f818c,#465c8a,#47367c,#472671,#46226f,#472671,#472b75,#472c76,#472c76,#472b75,#472a74,#472a74,#472a74,#472974,#472973,#472872,#472671,#472470,#46236f,#46226e,#46216e,#46216e,#46236f,#472570,#472671,#472671,#46226e,#461b69,#461665,#461766,#46236f,#463f80,#47628c,#4d7c8d,#56908a,#5a9988,#599788,#558d8a,#4f818c,#4b778d,#486e8e,#47658c,#465d8b,#45588a,#455489,#455187,#454f86,#454d86,#464b85,#464883,#464381,#463b7e,#47347b,#473179,#47347b,#464281,#455789,#47688d,#4b768d,#4e7f8c,#50838c,#51858c,#50848c,#50838c,#50828c,#4f828c,#50828c,#51848c,#52878b,#548b8a,#558e8a,#56908a,#569089,#569089,#568f8a,#568f8a)"></div><div style="height:6px;top:375px;background:linear-gradient(90deg,#76bc76,#72ba7a,#6db67e,#6cb47f,#6fb77c,#7dc171,#92ce61,#a6d655,#abd853,#94ce60,#6ab180,#51848c,#465e8b,#47377c,#472571,#46226e,#472571,#472a74,#472b75,#472a74,#472873,#472772,#472772,#472873,#472973,#472973,#472873,#472672,#472570,#47236f,#46226f,#46226e,#46236f,#472470,#472671,#472772,#472772,#47236f,#461d6b,#461867,#461867,#472470,#464080,#47628c,#4d7b8d,#568f8a,#5a9988,#5a9988,#579289,#52878b,#4e7e8c,#4b778d,#49708e,#476a8d,#47658c,#47628c,#465f8b,#465d8b,#465b8a,#45598a,#455589,#454d86,#464281,#47377c,#473079,#473179,#463d7f,#455388,#47658c,#4a748d,#4e7d8d,#50828c,#50838c,#50828c,#4f828c,#4f818c,#4f818c,#50828c,#51858c,#53888b,#548c8a,#56908a,#579289,#579289,#579289,#579189,#569189)"></div><div style="height:6px;top:380px;background:linear-gradient(90deg,#6bb37f,#68af80,#65aa82,#64a883,#66ac82,#70b87b,#89c967,#a2d458,#abd853,#96cf5e,#6bb47f,#51868b,#465f8b,#47377c,#472570,#46226e,#472571,#472974,#472a74,#472973,#472672,#472571,#472671,#472772,#472873,#472973,#472973,#472872,#472671,#472570,#472470,#472470,#472470,#472671,#472872,#472973,#472973,#472571,#461f6c,#461a68,#461a69,#472671,#464181,#47628c,#4d7b8d,#568f8a,#5a9a88,#5b9a88,#589489,#548c8a,#50848c,#4e7e8c,#4c7a8d,#4b768d,#4a748d,#49728e,#49708e,#486e8e,#486c8e,#47698d,#47658c,#465f8b,#455789,#454c85,#464482,#464381,#464c85,#465b8a,#47698d,#4b758d,#4d7c8d,#4f7f8c,#4f808c,#4f808c,#4f7f8c,#4f808c,#4f808c,#50828c,#51858c,#53898b,#558d8a,#569089,#579289,#579389,#579289,#579189,#569189)"></div><div style="height:6px;top:385px;background:linear-gradient(90deg,#64a983,#61a584,#5ea086,#5c9d87,#5fa185,#69b080,#80c36e,#9bd15b,#a8d755,#96cf5f,#6bb47f,#52868b,#465f8b,#47377c,#472570,#46226e,#472571,#472974,#472a74,#472873,#472571,#472470,#472470,#472671,#472873,#472974,#472974,#472973,#472872,#472772,#472671,#472671,#472671,#472772,#472974,#472b75,#472a74,#472772,#46216d,#461b69,#461c6a,#472872,#464381,#47638c,#4d7b8d,#568f8a,#5a9a88,#5b9a87,#599588,#558f8a,#53898b,#51858c,#50838c,#4f818c,#4f808c,#4f7f8c,#4e7e8c,#4e7d8d,#4d7b8d,#4c798d,#4b758d,#49718e,#486b8d,#47648c,#465f8b,#465e8b,#46618b,#47688d,#49708e,#4b768d,#4d7a8d,#4d7c8d,#4d7c8d,#4d7c8d,#4e7d8d,#4e7e8d,#4f808c,#50828c,#51858c,#53898b,#558d8a,#56908a,#579289,#579289,#579289,#579189,#569189)"></div><div style="height:6px;top:390px;background:linear-gradient(90deg,#5fa185,#5c9d87,#599788,#589589,#5a9988,#64a883,#79be74,#95cf5f,#a4d557,#94ce60,#6bb37f,#51868b,#465e8b,#47367c,#472570,#46226e,#472671,#472a74,#472a74,#472872,#472570,#46236f,#47236f,#472571,#472872,#472974,#472a74,#472a74,#472973,#472873,#472872,#472772,#472872,#472973,#472a74,#472c75,#472b75,#472873,#46226e,#461d6b,#461e6b,#472973,#464482,#47648c,#4d7c8d,#56908a,#5a9a88,#5b9a88,#599688,#56908a,#548c8a,#548b8a,#548b8a,#548c8a,#548d8a,#558d8a,#548c8a,#548b8a,#53898b,#51868b,#50828c,#4e7f8c,#4d7b8d,#4b778d,#4a748d,#4a728e,#4a728e,#4a748d,#4b768d,#4c788d,#4c798d,#4c798d,#4c798d,#4c798d,#4d7a8d,#4d7c8d,#4e7f8c,#50828c,#51858c,#53898b,#548d8a,#568f8a,#569189,#579189,#569189,#569189,#569089)"></div><div style="height:6px;top:395px;background:linear-gradient(90deg,#5c9d87,#5a9888,#579289,#56908a,#589489,#61a484,#75bb78,#92cd61,#a1d458,#92cd61,#6ab27f,#51858c,#465e8b,#47367c,#472570,#46226e,#472671,#472a74,#472a74,#472772,#472470,#46236f,#47236f,#472570,#472772,#472974,#472a74,#472a74,#472a74,#472974,#472973,#472873,#472973,#472a74,#472b75,#472d76,#472c76,#472973,#46236f,#461e6b,#461e6c,#472a74,#464582,#47648c,#4d7c8d,#56908a,#5a9988,#5b9a88,#599688,#569189,#558e8a,#558e8a,#569089,#579389,#589489,#589588,#589589,#589489,#579289,#568f8a,#548c8a,#52888b,#51858c,#50828c,#4f808c,#4e7e8d,#4d7c8d,#4d7b8d,#4d7a8d,#4c798d,#4c788d,#4c778d,#4b778d,#4c778d,#4c798d,#4d7b8d,#4e7e8c,#4f828c,#51858c,#53898b,#548d8a,#568f8a,#569089,#569189,#569189,#569089,#56908a)"></div><div style="height:6px;top:400px;background:linear-gradient(90deg,#5b9b87,#599788,#569189,#558e8a,#579389,#60a385,#74ba79,#91cd61,#a1d458,#92cd61,#6ab27f,#51858c,#465e8b,#47367c,#472570,#46226e,#472671,#472a74,#472a74,#472772,#472470,#46226f,#46236f,#472570,#472772,#472974,#472a74,#472b75,#472a74,#472a74,#472973,#472973,#472973,#472a74,#472b75,#472d76,#472c76,#472974,#47236f,#461e6b,#461f6c,#472a74,#464582,#47648c,#4d7c8d,#56908a,#5a9988,#5b9a88,#599688,#569189,#558f8a,#568f8a,#579289,#589489,#599688,#599888,#5a9888,#599788,#589589,#579289,#558f8a,#548b8a,#52888b,#51868c,#50838c,#4f818c,#4e7f8c,#4e7d8d,#4d7b8d,#4c798d,#4c788d,#4b778d,#4b768d,#4b778d,#4c788d,#4d7b8d,#4e7e8c,#4f818c,#51858c,#53898b,#548c8a,#558f8a,#569089,#569189,#569089,#56908a,#56908a)"></div><div style="height:6px;top:405px;background:linear-gradient(90deg,#5c9c87,#5a9888,#579289,#568f8a,#589489,#61a485,#74bb78,#91cd61,#a1d458,#92cd61,#6ab27f,#51858c,#465e8b,#47367c,#472570,#46226e,#472671,#472a74,#472a74,#472772,#472470,#46236f,#46236f,#472570,#472772,#472974,#472a74,#472a74,#472a74,#472974,#472973,#472873,#472973,#472a74,#472b75,#472d76,#472c76,#472973,#46236f,#461e6b,#461f6c,#472a74,#464582,#47648c,#4d7c8d,#56908a,#5a9988,#5b9a88,#599688,#569189,#558e8a,#558f8a,#569189,#579389,#589589,#599688,#599688,#589589,#579389,#569089,#558d8a,#538a8b,#51868b,#50838c,#4f818c,#4e7f8c,#4e7d8d,#4d7c8d,#4d7a8d,#4c798d,#4c788d,#4b778d,#4b778d,#4b778d,#4c798d,#4d7b8d,#4e7e8c,#4f828c,#51858c,#53898b,#548d8a,#568f8a,#569089,#569189,#569089,#56908a,#56908a)"></div><div style="height:6px;top:410px;background:linear-gradient(90deg,#5d9e87,#5a9988,#589489,#569189,#589588,#62a584,#76bc77,#93ce60,#a2d458,#92ce60,#6bb27f,#51858c,#465e8b,#47367c,#472570,#46226e,#472671,#472a74,#472a74,#472872,#472470,#46236f,#47236f,#472570,#472772,#472974,#472a74,#472a74,#472a74,#472973,#472873,#472873,#472873,#472974,#472b75,#472c76,#472c76,#472973,#46236f,#461e6b,#461e6c,#472a74,#464582,#47648c,#4d7c8d,#56908a,#5a9988,#5b9a88,#599688,#569089,#558e8a,#558e8a,#568f8a,#569189,#579289,#579389,#579389,#579289,#56908a,#558d8a,#53898b,#51868b,#50828c,#4f7f8c,#4e7d8d,#4d7b8d,#4c7a8d,#4c798d,#4c798d,#4c798d,#4c788d,#4c788d,#4c778d,#4c788d,#4c798d,#4d7b8d,#4e7e8c,#4f828c,#51858c,#53898b,#548d8a,#568f8a,#569189,#569189,#569189,#569089,#56908a)"></div><div style="height:6px;top:415px;background:linear-gradient(90deg,#5d9f86,#5b9b87,#589589,#579289,#599788,#62a684,#77bd76,#94ce60,#a3d557,#93ce60,#6bb37f,#51868c,#465e8b,#47367c,#472570,#46226e,#472671,#472a74,#472a74,#472872,#472570,#46236f,#47236f,#472571,#472772,#472974,#472a74,#472a74,#472a74,#472973,#472873,#472873,#472873,#472973,#472b75,#472c76,#472c75,#472973,#46226f,#461d6b,#461e6b,#472974,#464582,#47648c,#4d7c8d,#56908a,#5a9988,#5b9a88,#599688,#569089,#558d8a,#548d8a,#558e8a,#568f8a,#569089,#569189,#569089,#568f8a,#558d8a,#538a8b,#52878b,#50838c,#4f7f8c,#4d7c8d,#4c7a8d,#4c788d,#4b778d,#4b778d,#4c788d,#4c788d,#4c788d,#4c788d,#4c788d,#4c788d,#4c7a8d,#4d7c8d,#4e7e8c,#4f828c,#51858c,#53898b,#548d8a,#568f8a,#569189,#569189,#569189,#569089,#56908a)"></div></div></div><div class="hm" style="left:761.8px;top:72.3px;width:405.0px;height:405.0px"><div class="hb" style="left:-15px;top:0;width:435px;filter:blur(2.0px)"><div style="height:6px;top:-15px;background:linear-gradient(90deg,#253f7c,#233a75,#20346c,#20346c,#21356e,#2a4788,#426cac,#6695c5,#90b6d7,#abc8e1,#b2cce4,#aecae2,#a7c6df,#a1c3dd,#a3c4de,#a7c6df,#abc9e1,#aecae2,#acc9e1,#a9c7e0,#a5c5df,#a2c4de,#a2c3de,#a2c3de,#a3c4de,#a3c4de,#a2c3de,#a0c2dd,#a0c2dd,#a3c4de,#a8c7e0,#abc8e1,#a6c6df,#92b8d8,#6d9dca,#4d7ab5,#32589d,#274382,#26407e,#2a498a,#335a9f,#436ead,#517fb8,#5c8bbf,#6392c4,#6696c6,#6695c5,#6291c3,#5f8ec1,#5e8cc0,#5f8ec1,#6493c4,#6a99c8,#6f9fcc,#74a3ce,#78a5cf,#7aa7cf,#7ca8d0,#7faad1,#82add2,#86afd4,#88b1d5,#8ab2d5,#8ab3d5,#8ab2d5,#89b2d5,#88b1d5,#87b0d4,#84aed3,#7faad1,#76a4ce,#6d9dca,#6594c5,#5f8ec1,#5c8abf,#5c8abf,#5d8bbf,#5e8cc0,#5d8cc0,#5b89be,#5886bd,#5583bb,#5482ba,#5381b9,#5481ba,#5482ba,#5582ba)"></div><div style="height:6px;top:-10px;background:linear-gradient(90deg,#243d79,#223872,#20346c,#20346c,#20346c,#294585,#406aab,#6594c5,#8fb6d7,#abc8e1,#b2cce4,#afcae2,#a7c6df,#a2c3de,#a3c4de,#a8c6e0,#acc9e1,#afcae2,#adc9e2,#a9c7e0,#a5c5df,#a2c4de,#a1c3dd,#a2c3de,#a3c4de,#a3c4de,#a1c3dd,#a0c2dd,#a1c2dd,#a4c5de,#a9c7e0,#acc9e1,#a8c6e0,#94b9d9,#6f9fcb,#4e7cb6,#33599f,#284484,#26407e,#2a488a,#33599f,#436dad,#517eb8,#5c8bbf,#6493c4,#6797c6,#6696c6,#6392c3,#5f8ec1,#5d8cc0,#5f8ec1,#6493c4,#6a99c8,#70a0cc,#75a3ce,#78a6cf,#7ba8d0,#7da9d1,#80abd2,#84aed3,#87b0d4,#8ab2d5,#8cb4d6,#8cb4d6,#8cb4d6,#8bb3d5,#8ab2d5,#88b1d5,#85afd4,#80abd2,#77a5cf,#6d9dca,#6595c5,#5f8ec1,#5c8abf,#5b8abf,#5c8bbf,#5d8cc0,#5d8bc0,#5b89be,#5886bc,#5583ba,#5381b9,#5380b9,#5381b9,#5481ba,#5482ba)"></div><div style="height:6px;top:-5px;background:linear-gradient(90deg,#233a75,#21356e,#20346c,#20346c,#20346c,#274382,#3f68a9,#6493c4,#8fb6d7,#abc9e1,#b3cde4,#afcbe3,#a8c6e0,#a3c4de,#a4c5de,#a9c7e0,#aecae2,#b0cbe3,#aecae2,#aac8e1,#a6c5df,#a2c3de,#a1c2dd,#a1c3dd,#a2c3de,#a2c3de,#a1c3dd,#a0c2dd,#a1c3dd,#a5c5df,#abc8e1,#aecae2,#aac8e1,#97bbda,#72a1cd,#507eb7,#345ba0,#284585,#26417f,#2a488a,#32599e,#426dac,#507eb8,#5c8bbf,#6594c5,#6898c7,#6797c6,#6493c4,#5f8ec1,#5d8cc0,#5f8ec1,#6493c4,#6a9ac8,#70a0cc,#76a4ce,#79a7cf,#7ca8d0,#7eaad1,#82acd2,#85afd4,#89b2d5,#8cb4d6,#8eb5d7,#8eb6d7,#8eb5d7,#8db5d6,#8cb4d6,#8ab3d5,#87b0d4,#81acd2,#78a6cf,#6e9ecb,#6695c5,#5f8ec1,#5c8abf,#5b8abf,#5c8bbf,#5d8cc0,#5c8bbf,#5a88be,#5785bc,#5482ba,#5280b9,#527fb8,#5280b9,#5380b9,#5381b9)"></div><div style="height:6px;top:0px;background:linear-gradient(90deg,#233974,#20346c,#20346c,#20346c,#20346c,#274180,#3e67a8,#6392c4,#8fb6d7,#acc9e1,#b3cde4,#b0cbe3,#a8c7e0,#a3c4de,#a5c5df,#a9c7e0,#aecae2,#b0cbe3,#afcae2,#aac8e1,#a6c5df,#a2c3de,#a1c2dd,#a1c2dd,#a1c3dd,#a2c3dd,#a1c2dd,#a0c2dd,#a1c3dd,#a5c5df,#abc8e1,#afcae2,#abc8e1,#98bcda,#73a2cd,#517fb8,#355ca1,#294586,#26417f,#2a4889,#32589e,#426cac,#507eb7,#5d8bbf,#6594c5,#6998c7,#6897c7,#6493c4,#608ec1,#5d8cc0,#5f8ec1,#6493c4,#6a9ac8,#70a0cc,#76a4ce,#7aa7cf,#7ca9d0,#7fabd1,#82add2,#86b0d4,#8ab3d5,#8db5d6,#8fb6d7,#90b6d7,#8fb6d7,#8eb5d7,#8db4d6,#8bb3d6,#88b1d4,#82add2,#79a6cf,#6e9ecb,#6695c5,#5f8ec1,#5c8abf,#5b8abf,#5c8abf,#5d8bc0,#5c8bbf,#5a88be,#5784bb,#5481ba,#527fb8,#517fb8,#527fb8,#5280b9,#5380b9)"></div><div style="height:6px;top:5px;background:linear-gradient(90deg,#233b76,#21366f,#20346c,#20346c,#20346c,#284383,#3f69a9,#6493c4,#8fb6d7,#abc8e1,#b3cce4,#afcbe3,#a7c6e0,#a3c4de,#a4c4de,#a8c7e0,#adc9e2,#afcbe3,#aecae2,#aac8e1,#a5c5df,#a2c3de,#a1c3dd,#a1c3dd,#a2c3de,#a2c3de,#a1c3dd,#a0c2dd,#a1c3dd,#a5c5df,#aac8e1,#adcae2,#a9c7e0,#96bbd9,#71a1cc,#507db7,#345aa0,#284485,#26417f,#2a488a,#33599f,#426dac,#517eb8,#5c8bbf,#6493c4,#6897c7,#6796c6,#6392c4,#5f8ec1,#5d8cc0,#5f8ec1,#6493c4,#6a9ac8,#70a0cc,#75a4ce,#79a6cf,#7ba8d0,#7eaad1,#81acd2,#85afd3,#89b1d5,#8cb4d6,#8db5d6,#8eb5d7,#8db5d6,#8cb4d6,#8bb3d6,#8ab2d5,#86b0d4,#81acd2,#78a6cf,#6e9dca,#6695c5,#5f8ec1,#5c8abf,#5b8abf,#5c8bbf,#5d8cc0,#5c8bbf,#5a88be,#5785bc,#5482ba,#5280b9,#5280b9,#5280b9,#5381b9,#5381b9)"></div><div style="height:6px;top:10px;background:linear-gradient(90deg,#274281,#253d7a,#223771,#20346c,#223973,#2c4b8d,#446fae,#6796c6,#90b7d7,#aac8e1,#b1cce3,#adcae2,#a6c5df,#a0c2dd,#a1c3dd,#a5c5df,#aac8e1,#acc9e1,#abc8e1,#a8c7e0,#a5c5df,#a3c4de,#a2c3de,#a3c4de,#a4c4de,#a4c4de,#a2c3de,#a0c2dd,#a0c2dd,#a2c3de,#a6c6df,#a8c7e0,#a3c4de,#8eb5d7,#6b9ac9,#4a77b3,#31559a,#274280,#263f7d,#2a498a,#345ba0,#446fae,#527fb8,#5c8abf,#6291c3,#6594c5,#6493c4,#6190c3,#5f8dc1,#5e8cc0,#608ec1,#6493c4,#6a99c8,#6f9fcb,#73a2cd,#76a4ce,#78a6cf,#7aa7d0,#7da9d0,#80abd2,#83add3,#85afd4,#87b0d4,#87b0d4,#87b0d4,#86b0d4,#85afd4,#84aed3,#82add2,#7da9d1,#75a4ce,#6c9cca,#6594c5,#5f8ec1,#5c8abf,#5c8abf,#5d8bc0,#5e8dc0,#5e8cc0,#5c8abf,#5987bd,#5785bc,#5583ba,#5582ba,#5583ba,#5583bb,#5684bb)"></div><div style="height:6px;top:15px;background:linear-gradient(90deg,#2e5094,#2b4b8d,#284484,#274280,#294687,#33599e,#4c79b5,#6c9cca,#92b8d8,#a9c7e0,#aecae2,#aac8e1,#a3c4de,#9dc0dc,#9dc0dc,#a0c2dd,#a4c5df,#a7c6df,#a7c6df,#a5c5df,#a3c4de,#a2c4de,#a3c4de,#a5c5df,#a5c5df,#a5c5df,#a2c3de,#9fc1dc,#9cbfdb,#9cbfdb,#9ec1dc,#9ec0dc,#96bbd9,#80abd2,#618fc2,#426dac,#2d4e90,#253e7a,#253e7b,#2b4a8c,#375ea2,#4773b1,#5482ba,#5c8abf,#5f8ec1,#608fc2,#608ec1,#5e8dc1,#5e8cc0,#5e8dc0,#618fc2,#6594c5,#6999c8,#6d9dca,#70a0cc,#72a1cd,#73a2cd,#74a3cd,#75a4ce,#77a5cf,#7aa7cf,#7ba8d0,#7ca8d0,#7ca9d0,#7ca8d0,#7ca8d0,#7ca8d0,#7ca8d0,#7aa7d0,#77a5ce,#70a0cc,#6a99c8,#6493c4,#5f8dc1,#5d8bbf,#5d8bc0,#5e8dc0,#608ec1,#608ec1,#5e8dc1,#5c8bbf,#5b89be,#5987bd,#5987bd,#5987bd,#5a88bd,#5a88be)"></div><div style="height:6px;top:20px;background:linear-gradient(90deg,#3b63a6,#375fa2,#32599e,#31569b,#345aa0,#416bab,#5886bc,#74a3cd,#95bad9,#a8c6e0,#abc8e1,#a7c6e0,#9fc1dd,#99bdda,#98bcda,#9abedb,#9dc0dc,#a0c2dd,#a1c3dd,#a1c2dd,#a0c2dd,#a0c2dd,#a2c3de,#a3c4de,#a3c4de,#a2c3de,#9dc0dc,#98bcda,#93b9d8,#90b7d7,#90b6d7,#8db4d6,#83add3,#6d9dca,#5481ba,#3961a4,#294686,#233a76,#253e7b,#2d4d90,#3b64a6,#4c79b5,#5785bc,#5b89be,#5c8abf,#5b89be,#5a88be,#5b89be,#5c8abf,#5e8dc1,#6190c3,#6594c5,#6898c7,#6b9ac9,#6d9cca,#6d9dca,#6d9dca,#6e9dca,#6e9ecb,#6f9fcb,#6f9fcc,#70a0cc,#70a0cc,#70a0cc,#70a0cc,#70a0cc,#71a1cc,#72a1cd,#71a1cc,#6f9fcc,#6c9cc9,#6796c6,#6291c3,#5f8dc1,#5d8cc0,#5e8cc0,#608ec1,#6290c3,#6291c3,#6291c3,#618fc2,#5f8ec1,#5f8dc1,#5e8dc1,#5e8dc1,#5f8dc1,#5f8ec1)"></div><div style="height:6px;top:25px;background:linear-gradient(90deg,#4b78b4,#4874b2,#4470ae,#436dad,#4671af,#517eb8,#6493c4,#7eaad1,#98bcda,#a7c6df,#a9c7e0,#a4c5de,#9cbfdb,#96bad9,#94b9d9,#95bad9,#97bcda,#9abddb,#9bbedb,#9bbedb,#9bbedb,#9bbedb,#9bbedb,#9bbedb,#99bdda,#95bad9,#8fb6d7,#89b2d5,#83add3,#7eaad1,#7aa7d0,#75a4ce,#6c9bc9,#5d8bbf,#4672b0,#31569b,#274180,#233a75,#26417f,#305398,#416bab,#517fb8,#5a88be,#5b8abf,#5987bd,#5684bb,#5683bb,#5785bc,#5a89be,#5e8cc0,#6190c2,#6493c4,#6796c6,#6898c7,#6999c8,#6999c8,#6999c8,#6998c7,#6998c7,#6998c7,#6998c7,#6999c8,#6999c8,#6998c7,#6998c7,#6999c8,#6a99c8,#6b9ac8,#6b9ac9,#6a99c8,#6797c6,#6493c4,#608fc2,#5e8dc0,#5e8cc0,#5f8ec1,#6291c3,#6493c4,#6695c5,#6695c5,#6594c5,#6493c4,#6493c4,#6493c4,#6493c4,#6493c4,#6493c4)"></div><div style="height:6px;top:30px;background:linear-gradient(90deg,#5c8bbf,#5a88be,#5684bb,#5583ba,#5785bc,#618fc2,#70a0cc,#88b1d4,#9cbfdb,#a6c6df,#a7c6e0,#a2c3de,#9abedb,#94b9d9,#92b8d8,#92b8d8,#94b9d9,#95bad9,#96bbd9,#95bad9,#94b9d9,#91b7d8,#8db4d6,#88b1d4,#82add2,#7ba8d0,#75a3ce,#6f9ecb,#6a9ac8,#6695c6,#6392c3,#5e8dc0,#5785bc,#4a77b3,#3a63a5,#2d4f92,#274180,#253f7c,#2a498a,#365da1,#4874b1,#5785bc,#5d8cc0,#5c8bbf,#5886bc,#5481ba,#5380b9,#5583ba,#5886bd,#5c8bbf,#608fc2,#6291c3,#6493c4,#6595c5,#6695c5,#6695c6,#6695c5,#6695c5,#6695c5,#6695c5,#6695c5,#6695c5,#6695c5,#6695c5,#6695c5,#6695c5,#6695c5,#6696c6,#6696c6,#6695c5,#6493c4,#6190c2,#5f8dc1,#5d8cc0,#5e8dc0,#618fc2,#6493c4,#6796c6,#6999c8,#6a99c8,#6999c8,#6998c7,#6898c7,#6898c7,#6898c7,#6898c7,#6998c7)"></div><div style="height:6px;top:35px;background:linear-gradient(90deg,#6b9bc9,#6998c7,#6696c6,#6594c5,#6796c6,#6e9ecb,#7eaad1,#90b7d7,#a0c2dd,#a7c6df,#a6c6df,#a1c3dd,#9abedb,#94bad9,#92b8d8,#92b8d8,#93b9d8,#93b9d8,#92b8d8,#8fb6d7,#89b2d5,#81acd2,#76a5ce,#6c9cca,#6493c4,#5d8bc0,#5886bc,#5481ba,#507eb7,#4d7ab5,#4a77b3,#4672b0,#416bab,#3961a4,#31569b,#2c4c8e,#294787,#2b4a8b,#31569c,#406aaa,#507eb7,#5c8bbf,#608fc2,#5e8dc0,#5987bd,#5482ba,#5280b9,#5481ba,#5785bc,#5a88be,#5d8cc0,#608ec1,#6190c3,#6392c3,#6392c4,#6493c4,#6493c4,#6594c5,#6594c5,#6695c5,#6696c6,#6796c6,#6796c6,#6796c6,#6696c6,#6695c5,#6695c5,#6594c5,#6594c5,#6392c4,#6190c2,#5f8dc1,#5d8cc0,#5d8bbf,#5e8dc1,#6291c3,#6695c6,#6a9ac8,#6c9cca,#6d9dca,#6d9dca,#6c9cc9,#6c9bc9,#6b9bc9,#6c9bc9,#6c9bc9,#6c9cc9)"></div><div style="height:6px;top:40px;background:linear-gradient(90deg,#79a7cf,#77a5cf,#74a3ce,#73a2cd,#75a4ce,#7da9d1,#89b2d5,#97bcda,#a3c4de,#a7c6e0,#a6c6df,#a1c3dd,#9abedb,#95bad9,#94b9d9,#93b9d8,#93b9d8,#91b7d8,#8db4d6,#86afd4,#7ba8d0,#6d9dca,#618fc2,#5381b9,#4773b1,#3f69aa,#3a63a5,#3860a4,#375fa3,#365da1,#335a9f,#31569b,#2f5296,#2d4e91,#2c4c8e,#2c4c8e,#2e5093,#32589e,#3e67a8,#4b78b4,#5887bd,#6190c2,#6392c4,#618fc2,#5b8abf,#5684bb,#5482ba,#5481ba,#5583bb,#5886bc,#5a88be,#5c8bbf,#5e8dc1,#608fc2,#6190c3,#6391c3,#6493c4,#6594c5,#6695c6,#6897c7,#6998c7,#6a9ac8,#6b9ac8,#6a9ac8,#6a99c8,#6998c7,#6897c7,#6796c6,#6594c5,#6392c4,#608fc2,#5e8cc0,#5c8bbf,#5c8bbf,#5f8dc1,#6392c4,#6898c7,#6d9cca,#6f9fcc,#70a0cc,#709fcc,#6f9ecb,#6e9ecb,#6e9dca,#6e9ecb,#6e9ecb,#6e9ecb)"></div><div style="height:6px;top:45px;background:linear-gradient(90deg,#85afd3,#83aed3,#81acd2,#80acd2,#82add2,#88b1d4,#91b7d8,#9bbedb,#a3c4de,#a6c5df,#a4c5de,#9fc1dd,#9abedb,#96bbd9,#94b9d9,#93b9d8,#91b7d8,#8cb4d6,#84aed3,#78a6cf,#6a9ac8,#5c8abf,#4b78b4,#3b64a6,#305398,#2a488a,#284484,#284383,#284484,#284585,#284383,#274180,#26407e,#274180,#294586,#2d4e91,#33599f,#3e67a9,#4a76b3,#5583bb,#5f8ec1,#6594c5,#6695c6,#6493c4,#5f8ec1,#5a89be,#5785bc,#5583bb,#5582ba,#5583bb,#5785bc,#5987bd,#5c8abf,#5e8dc0,#608fc2,#6291c3,#6493c4,#6695c5,#6897c7,#6a9ac8,#6c9cca,#6e9ecb,#6f9fcb,#6f9fcb,#6e9ecb,#6d9dca,#6c9cc9,#6a9ac8,#6897c7,#6594c5,#6291c3,#5f8dc1,#5d8bbf,#5c8bbf,#5f8ec1,#6493c4,#6999c8,#6e9ecb,#72a1cd,#72a2cd,#72a1cd,#70a0cc,#6f9fcb,#6f9fcb,#6f9fcb,#6f9fcc,#70a0cc)"></div><div style="height:6px;top:50px;background:linear-gradient(90deg,#8cb4d6,#8bb3d6,#8ab2d5,#89b2d5,#8ab2d5,#8eb5d6,#94b9d9,#9abedb,#9fc1dd,#a1c3dd,#a0c2dd,#9cbfdc,#98bcda,#94bad9,#92b8d8,#8fb6d7,#8bb3d5,#82add3,#76a4ce,#6897c7,#5987bd,#4874b1,#375ea2,#2b4b8c,#243c79,#20356d,#20346c,#20346c,#213770,#223973,#223872,#223771,#223771,#243b77,#284383,#2e5195,#3961a4,#4672b0,#527fb8,#5c8abf,#6392c4,#6797c6,#6998c7,#6796c6,#6493c4,#608ec1,#5b8abf,#5886bc,#5583bb,#5482ba,#5582ba,#5785bc,#5a88bd,#5d8bc0,#608ec1,#6291c3,#6493c4,#6796c6,#6999c8,#6c9cc9,#6e9ecb,#71a0cc,#72a2cd,#73a2cd,#73a2cd,#73a2cd,#71a1cc,#6f9fcc,#6d9dca,#6a9ac8,#6695c6,#6291c3,#5f8dc1,#5e8cc0,#5f8ec1,#6493c4,#6999c8,#6e9ecb,#72a1cd,#73a2cd,#72a2cd,#71a1cc,#70a0cc,#70a0cc,#70a0cc,#70a0cc,#70a0cc)"></div><div style="height:6px;top:55px;background:linear-gradient(90deg,#8db4d6,#8cb4d6,#8cb4d6,#8bb3d6,#8cb4d6,#8eb5d7,#91b7d8,#95bad9,#98bcda,#99bdda,#98bcda,#96bbda,#94b9d9,#91b7d8,#8db5d6,#88b1d5,#80abd2,#73a2cd,#6695c5,#5684bb,#4571af,#355ca1,#2a488a,#233a75,#20346c,#20346c,#20346c,#20346c,#20346c,#20356d,#21356e,#20356d,#21366f,#233b76,#284484,#2f5397,#3c64a7,#4975b2,#5482ba,#5e8cc0,#6493c4,#6898c7,#6a9ac8,#6b9ac8,#6998c7,#6595c5,#618fc2,#5b89be,#5684bb,#5481ba,#5381b9,#5583bb,#5987bd,#5c8bbf,#608ec1,#6291c3,#6594c5,#6797c6,#6a99c8,#6c9cca,#6f9ecb,#71a1cc,#73a2cd,#75a4ce,#76a5ce,#77a5cf,#78a5cf,#77a5cf,#75a4ce,#72a1cd,#6d9dca,#6897c7,#6392c3,#608fc2,#608fc2,#6392c4,#6897c7,#6d9cca,#70a0cc,#71a1cc,#71a1cc,#70a0cc,#70a0cc,#70a0cc,#70a0cc,#70a0cc,#70a0cc)"></div><div style="height:6px;top:60px;background:linear-gradient(90deg,#86b0d4,#86afd4,#85afd4,#85afd3,#86afd4,#87b0d4,#89b1d5,#8bb3d5,#8db5d6,#8fb6d7,#90b7d7,#90b7d7,#8fb6d7,#8cb4d6,#88b1d4,#80acd2,#74a3ce,#6696c6,#5684bb,#446fae,#33599f,#294687,#233974,#20346c,#20346c,#20346c,#20346c,#20346c,#20346c,#21366f,#223771,#223871,#233974,#253e7a,#294687,#305499,#3b63a6,#4773b0,#527fb8,#5b89be,#6391c3,#6897c7,#6c9cc9,#6e9ecb,#6e9dca,#6b9ac9,#6594c5,#5f8dc1,#5886bd,#5482ba,#5381b9,#5583ba,#5886bd,#5c8bbf,#608fc2,#6392c4,#6695c5,#6897c7,#6999c8,#6b9bc9,#6d9dca,#6f9fcb,#71a1cc,#74a3cd,#77a5cf,#7aa7d0,#7da9d1,#7fabd1,#7fabd1,#7da9d0,#76a4ce,#6e9ecb,#6897c7,#6392c3,#6190c3,#6392c4,#6696c6,#6a9ac8,#6d9dca,#6e9ecb,#6f9ecb,#6e9ecb,#6e9ecb,#6e9ecb,#6e9ecb,#6e9ecb,#6e9ecb)"></div><div style="height:6px;top:65px;background:linear-gradient(90deg,#75a4ce,#75a4ce,#74a3ce,#74a3cd,#75a3ce,#76a4ce,#79a6cf,#7da9d1,#81acd2,#85afd3,#89b1d5,#8bb3d6,#8bb3d6,#89b2d5,#84aed3,#7aa7cf,#6c9cc9,#5c8abf,#4874b1,#355ba0,#294686,#223872,#20346c,#20346c,#20346c,#20346c,#20346c,#20346c,#223771,#233a75,#243b77,#243c79,#253e7b,#274281,#2a498a,#2f5397,#375ea2,#416bab,#4b78b4,#5684bb,#5f8ec1,#6797c6,#6d9dca,#71a1cc,#72a1cd,#6f9fcb,#6998c7,#6190c2,#5a88bd,#5482ba,#5381b9,#5583ba,#5886bd,#5d8bbf,#618fc2,#6493c4,#6695c5,#6797c6,#6897c7,#6998c7,#6999c8,#6a9ac8,#6d9cca,#70a0cc,#76a4ce,#7ba8d0,#81acd2,#86afd4,#88b1d4,#86b0d4,#80abd2,#76a4ce,#6d9cca,#6695c6,#6392c4,#6392c4,#6594c5,#6897c7,#6a99c8,#6b9ac8,#6b9ac9,#6b9ac9,#6b9ac8,#6b9ac8,#6b9ac8,#6b9ac8,#6b9ac9)"></div><div style="height:6px;top:70px;background:linear-gradient(90deg,#5f8ec1,#5e8dc1,#5d8cc0,#5d8bc0,#5e8cc0,#618fc2,#6695c6,#6d9cca,#75a3ce,#7da9d1,#84aed3,#89b1d5,#8ab3d5,#88b1d5,#83add3,#77a5cf,#6898c7,#5683bb,#4069aa,#2d4e91,#233a76,#20346c,#20346c,#20346c,#20346c,#223973,#243c77,#243c79,#243d79,#243d79,#253e7b,#26407e,#274382,#294686,#2b498b,#2d4e91,#31559a,#385fa3,#426dac,#4f7cb6,#5c8abf,#6796c6,#6f9fcb,#74a3cd,#75a3ce,#71a0cc,#6a99c8,#6291c3,#5a88be,#5482ba,#5381b9,#5583ba,#5987bd,#5d8cc0,#6190c2,#6493c4,#6695c5,#6695c6,#6695c5,#6494c5,#6493c4,#6493c4,#6796c6,#6b9bc9,#71a1cc,#7aa7cf,#82add2,#89b2d5,#8db4d6,#8cb4d6,#87b0d4,#7da9d0,#71a1cd,#6a99c8,#6595c5,#6493c4,#6594c5,#6695c5,#6695c6,#6695c6,#6595c5,#6594c5,#6493c4,#6493c4,#6493c4,#6493c4,#6494c5)"></div><div style="height:6px;top:75px;background:linear-gradient(90deg,#4570ae,#436ead,#416bab,#406aaa,#426cac,#4773b1,#517fb8,#5e8dc0,#6b9ac9,#78a5cf,#82add2,#88b1d5,#8bb3d5,#89b2d5,#84aed3,#78a6cf,#6898c7,#5482ba,#3c65a7,#2a4889,#21356e,#20346c,#20346c,#223771,#274180,#2a498a,#2b498b,#294586,#26417f,#253e7b,#253f7c,#274180,#284585,#2a4788,#2a4889,#2a4788,#2b4a8b,#2f5195,#3860a3,#4773b1,#5886bc,#6796c6,#70a0cc,#75a4ce,#75a4ce,#70a0cc,#6998c7,#618fc2,#5987bd,#5482ba,#5380b9,#5583ba,#5987bd,#5d8cc0,#6190c2,#6493c4,#6594c5,#6594c5,#6291c3,#5f8ec1,#5d8bbf,#5c8bbf,#5f8ec1,#6594c5,#6c9cc9,#76a4ce,#80abd2,#88b1d4,#8db4d6,#8eb5d6,#89b2d5,#80abd2,#76a4ce,#6d9dca,#6898c7,#6695c5,#6594c5,#6493c4,#6392c4,#6190c2,#5f8dc1,#5d8bc0,#5c8abf,#5b8abf,#5c8abf,#5c8abf,#5c8bbf)"></div><div style="height:6px;top:80px;background:linear-gradient(90deg,#2f5296,#2e4f92,#2c4b8e,#2b4a8b,#2c4d8f,#31569c,#3f68a9,#507db7,#6291c3,#71a1cd,#7faad1,#86b0d4,#89b1d5,#88b1d4,#83add3,#78a6cf,#6998c7,#5482ba,#3b64a6,#294687,#20346d,#20346c,#20356d,#274281,#2f5297,#355ca1,#33599e,#2d4f92,#284383,#253d7a,#253d7a,#26417f,#294585,#2a4788,#284484,#26417f,#26407e,#284585,#305499,#416bab,#5583bb,#6796c6,#71a1cc,#76a4ce,#73a2cd,#6d9dca,#6695c6,#5e8dc1,#5886bc,#5381ba,#5380b9,#5583bb,#5987bd,#5d8cc0,#6190c2,#6392c4,#6493c4,#6291c3,#5f8dc1,#5a88be,#5684bb,#5482ba,#5785bc,#5e8cc0,#6695c6,#6f9fcc,#7ba8d0,#83aed3,#89b2d5,#8bb3d5,#88b1d4,#81acd2,#78a6cf,#70a0cc,#6b9bc9,#6897c7,#6695c5,#6392c4,#608fc2,#5c8abf,#5886bc,#5583ba,#5381b9,#5280b9,#5380b9,#5381b9,#5482ba)"></div><div style="height:6px;top:85px;background:linear-gradient(90deg,#26407d,#253d7a,#233a74,#223872,#233b76,#284484,#32589e,#4671af,#5a88be,#6a9ac8,#76a4ce,#7da9d1,#7faad1,#7eaad1,#7ba7d0,#72a1cd,#6595c5,#5280b9,#3a63a5,#294687,#21366f,#20346c,#243b77,#2c4d90,#3961a4,#406aaa,#3b64a6,#305499,#284484,#243c78,#243b77,#263f7d,#284484,#294686,#274280,#243c78,#233974,#253e7b,#2d4e90,#3e67a8,#5482ba,#6796c6,#71a1cc,#74a3cd,#70a0cc,#6a99c8,#6392c3,#5c8abf,#5785bc,#5481ba,#5481ba,#5684bb,#5988bd,#5d8cc0,#608fc2,#6291c3,#6291c3,#608fc2,#5b89be,#5583bb,#507db7,#4e7bb6,#507eb7,#5785bc,#608fc2,#6999c8,#72a2cd,#7ba8d0,#81acd2,#84aed3,#82add3,#7eaad1,#78a6cf,#72a1cd,#6d9dca,#6999c8,#6695c5,#6190c3,#5d8bc0,#5886bc,#5380b9,#4f7cb6,#4c79b5,#4c79b4,#4c79b5,#4d7ab5,#4e7bb6)"></div><div style="height:6px;top:90px;background:linear-gradient(90deg,#253e7c,#243c78,#223973,#223771,#233a75,#274282,#305499,#406aab,#527fb8,#608ec1,#6797c6,#6a9ac8,#6b9ac9,#6a9ac8,#6998c7,#6594c5,#5b8abf,#4b78b4,#375fa2,#294687,#223872,#21366e,#263f7d,#2f5296,#3c65a7,#436dad,#3d66a7,#31559a,#284484,#233b76,#233a74,#253d7a,#274281,#284383,#26407e,#233b76,#223873,#253d7a,#2d4e91,#3e68a9,#5582ba,#6797c6,#70a0cc,#71a1cc,#6d9cca,#6695c5,#608ec1,#5a89be,#5785bc,#5583ba,#5583bb,#5785bc,#5a88be,#5d8cc0,#5f8ec1,#618fc2,#608fc2,#5e8cc0,#5987bd,#5280b9,#4d7ab5,#4a77b4,#4c79b5,#5280b9,#5a88be,#6291c3,#6a99c8,#70a0cc,#76a4ce,#79a6cf,#7aa7d0,#79a6cf,#76a4ce,#72a1cd,#6d9dca,#6998c7,#6493c4,#5f8dc1,#5988bd,#5482ba,#507db7,#4c79b5,#4a77b3,#4a76b3,#4a77b3,#4b77b4,#4b78b4)"></div><div style="height:6px;top:95px;background:linear-gradient(90deg,#2e5093,#2d4e91,#2c4c8e,#2b4b8d,#2c4c8f,#2f5397,#375ea2,#416bab,#4a77b3,#517eb8,#5381b9,#5381b9,#5280b9,#517fb8,#517eb8,#4f7cb6,#4976b3,#3f69aa,#31569c,#284484,#233a75,#223872,#26407f,#2e5093,#375ea2,#3c65a7,#375ea2,#2e5094,#274281,#233a76,#233974,#243c78,#26407d,#274180,#26407d,#253d7a,#253e7a,#284484,#31569b,#436ead,#5886bc,#6897c7,#6e9ecb,#6e9ecb,#6998c7,#6291c3,#5d8cc0,#5a88be,#5886bc,#5785bc,#5886bc,#5987bd,#5b89be,#5c8bbf,#5e8cc0,#5e8dc1,#5e8cc0,#5b8abf,#5785bc,#527fb8,#4d7ab5,#4b77b4,#4b78b4,#4f7cb7,#5582ba,#5b89be,#618fc2,#6695c5,#6a99c8,#6d9dca,#70a0cc,#71a1cc,#72a1cd,#709fcc,#6c9cc9,#6796c6,#6190c2,#5b89be,#5684bb,#5280b9,#507db7,#4e7bb6,#4d7ab5,#4d7ab5,#4d7ab5,#4d7ab5,#4d7bb6)"></div><div style="height:6px;top:100px;background:linear-gradient(90deg,#4570af,#4570af,#4570af,#4570ae,#4570af,#4571af,#4671af,#4671af,#4570ae,#426dac,#3f68a9,#3b63a6,#385fa3,#365ea2,#375ea2,#375fa3,#365da1,#31569c,#2c4c8e,#274180,#243b77,#233a75,#263f7d,#2a498a,#2f5296,#31569b,#2f5296,#2b498b,#26407e,#233b76,#233974,#233a76,#253d7a,#263f7d,#26417f,#274282,#2a4788,#2f5296,#3b63a6,#4b78b4,#5c8abf,#6897c7,#6c9cc9,#6a9ac8,#6594c5,#608ec1,#5c8bbf,#5a89be,#5a88be,#5a88be,#5a89be,#5b89be,#5b89be,#5b89be,#5b8abf,#5b89be,#5b89be,#5987bd,#5684bb,#5380b9,#4f7db7,#4d7ab5,#4d7ab5,#4e7bb6,#507eb8,#5481ba,#5785bc,#5b89be,#5f8dc1,#6392c3,#6796c6,#6a9ac8,#6d9cca,#6d9cca,#6a99c8,#6493c4,#5e8cc0,#5886bc,#5481ba,#5280b9,#527fb8,#5280b9,#5380b9,#5381b9,#5381b9,#5380b9,#5380b9)"></div><div style="height:6px;top:105px;background:linear-gradient(90deg,#6493c4,#6594c5,#6796c6,#6897c7,#6696c6,#6190c3,#5987bd,#4e7bb6,#426dac,#375fa3,#2f5397,#2b498b,#274382,#26417f,#274280,#284484,#294686,#294586,#274281,#253f7c,#243c77,#243b77,#253e7b,#274382,#2a4788,#2b498b,#2a4788,#274382,#253f7c,#243b77,#233974,#233974,#233b76,#253e7b,#274282,#2b4a8c,#30559a,#3a62a5,#4772b0,#5482ba,#608fc2,#6897c7,#6999c8,#6796c6,#6291c3,#5e8dc0,#5c8abf,#5c8abf,#5c8bbf,#5d8bbf,#5c8abf,#5b89be,#5988bd,#5886bc,#5785bc,#5785bc,#5785bc,#5684bb,#5683bb,#5482ba,#5381b9,#517fb8,#507db7,#4f7cb6,#4e7bb6,#4e7bb6,#4f7cb7,#517fb8,#5582ba,#5987bd,#5e8dc1,#6493c4,#6897c7,#6999c8,#6796c6,#6290c3,#5b89be,#5583bb,#5380b9,#5381b9,#5583bb,#5886bc,#5a88be,#5a89be,#5a88be,#5988bd,#5987bd)"></div><div style="height:6px;top:110px;background:linear-gradient(90deg,#82add2,#85afd4,#8ab2d5,#8cb4d6,#88b1d5,#7da9d0,#6b9ac9,#5886bd,#4570af,#345a9f,#2a4889,#243c78,#20346c,#20346c,#20346c,#20346c,#223872,#233b76,#243c77,#243c78,#243c78,#243d79,#253f7c,#26417f,#284383,#284484,#284383,#274180,#253f7c,#243c77,#223973,#223771,#223872,#243c79,#284585,#2f5296,#3a62a5,#4672b0,#527fb8,#5c8abf,#6392c3,#6696c6,#6696c6,#6493c4,#608fc2,#5e8cc0,#5d8bbf,#5d8cc0,#5e8cc0,#5e8cc0,#5c8abf,#5987bd,#5684bb,#5381b9,#527fb8,#527fb8,#5280b9,#5381b9,#5582ba,#5684bb,#5684bb,#5583bb,#5381b9,#507eb8,#4d7bb6,#4b78b4,#4a77b3,#4a77b4,#4d7ab5,#517eb8,#5785bc,#5d8cc0,#6392c4,#6695c6,#6594c5,#608fc2,#5b89be,#5684bb,#5482ba,#5684bb,#5988bd,#5d8cc0,#608ec1,#608fc2,#608fc2,#5f8ec1,#5e8dc1)"></div><div style="height:6px;top:115px;background:linear-gradient(90deg,#96bbda,#9abedb,#9ec1dc,#a1c2dd,#9dc0dc,#90b7d7,#7ba7d0,#6392c4,#4d7ab5,#3860a3,#2b498b,#233a75,#20346c,#20346c,#20346c,#20346c,#20346c,#21356e,#223872,#233a74,#243b77,#253e7b,#26417f,#284485,#2a4889,#2a498a,#2a4889,#284484,#26407f,#243c78,#223872,#21366e,#213670,#243c78,#2a4788,#32589e,#416cac,#4f7cb7,#5988bd,#608fc2,#6392c4,#6493c4,#6392c4,#6291c3,#608fc2,#5f8dc1,#5e8dc1,#5f8dc1,#5e8dc1,#5d8bc0,#5988bd,#5582ba,#507db7,#4c79b5,#4b78b4,#4b78b4,#4d7ab5,#507eb7,#5381b9,#5684bb,#5987bd,#5987bd,#5785bc,#5381b9,#4f7cb7,#4b78b4,#4875b2,#4773b1,#4875b2,#4b78b4,#517fb8,#5886bd,#5f8dc1,#6392c4,#6493c4,#6190c2,#5d8bc0,#5988bd,#5987bd,#5a89be,#5d8cc0,#618fc2,#6392c3,#6392c4,#6392c4,#6291c3,#6291c3)"></div><div style="height:6px;top:120px;background:linear-gradient(90deg,#9fc1dd,#a2c4de,#a6c5df,#a7c6e0,#a5c5df,#9abedb,#87b0d4,#6e9ecb,#5987bd,#436dad,#305498,#253f7c,#20346c,#20346c,#20346c,#20346c,#20346c,#20346c,#21366f,#223872,#233a76,#253f7c,#284484,#2c4c8e,#2f5196,#305498,#2f5195,#2c4b8d,#284483,#253d7a,#223871,#20356d,#21356e,#243c78,#2a498a,#355ca1,#4671af,#5381b9,#5c8abf,#608fc2,#6190c2,#608fc2,#608fc2,#608fc2,#618fc2,#6190c2,#6190c2,#608fc2,#5e8dc1,#5b89be,#5583bb,#4f7cb6,#4975b2,#4570af,#446fae,#4571af,#4975b2,#4d7ab5,#5280b9,#5785bc,#5a88be,#5b8abf,#5a88be,#5784bb,#527fb8,#4d7ab5,#4976b3,#4773b1,#4773b0,#4975b2,#4d7bb6,#5482ba,#5b8abf,#6190c2,#6392c4,#6392c3,#618fc2,#5f8dc1,#5e8dc0,#5f8ec1,#6190c2,#6392c4,#6493c4,#6594c5,#6594c5,#6493c4,#6493c4)"></div><div style="height:6px;top:125px;background:linear-gradient(90deg,#a2c3de,#a4c4de,#a6c6df,#a7c6e0,#a5c5df,#9ec1dc,#91b7d7,#7da9d1,#6796c6,#517eb8,#3a63a5,#2a498a,#223771,#20346c,#20346c,#20346c,#20346c,#20346c,#21366e,#213770,#233974,#253f7c,#2a4788,#2f5296,#345ba0,#375ea2,#345ba0,#2f5397,#2a498a,#263f7d,#223973,#21356e,#21366f,#243c78,#2b498b,#365da1,#4571af,#5280b9,#5987bd,#5b89be,#5b89be,#5b89be,#5c8bbf,#5f8ec1,#6291c3,#6493c4,#6493c4,#6291c3,#5e8cc0,#5886bc,#507eb7,#4975b2,#426dac,#3f68a9,#3e68a9,#416bab,#4571af,#4b78b4,#517eb8,#5684bb,#5b89be,#5d8bc0,#5c8bbf,#5a88be,#5684bb,#517fb8,#4d7ab5,#4a76b3,#4874b1,#4975b2,#4c79b5,#527fb8,#5886bd,#5e8dc0,#6291c3,#6493c4,#6493c4,#6493c4,#6493c4,#6493c4,#6594c5,#6594c5,#6595c5,#6695c5,#6695c5,#6595c5,#6594c5)"></div><div style="height:6px;top:130px;background:linear-gradient(90deg,#a3c4de,#a4c4de,#a5c5df,#a6c5df,#a5c5df,#a1c2dd,#99bdda,#8bb3d6,#76a4ce,#5f8ec1,#4672b0,#305498,#253d7a,#20346c,#20346c,#20346c,#20346c,#20356d,#21366f,#213670,#223873,#253e7a,#2a4788,#305398,#375ea2,#3b63a6,#3961a4,#32589e,#2d4e91,#284383,#243d79,#223873,#223872,#253d7a,#2a4889,#32589e,#406aaa,#4a76b3,#4f7db7,#517eb8,#517fb8,#5380b9,#5785bc,#5e8cc0,#6493c4,#6797c6,#6796c6,#6392c4,#5d8bbf,#5482ba,#4b78b4,#436ead,#3d66a8,#3a62a5,#3a63a5,#3e67a8,#436ead,#4a77b3,#507eb8,#5684bb,#5b89be,#5d8cc0,#5e8cc0,#5c8bbf,#5a88be,#5684bb,#5280b9,#4f7cb6,#4c79b5,#4b78b4,#4d7ab5,#517eb8,#5684bb,#5b89be,#608ec1,#6392c4,#6594c5,#6796c6,#6897c7,#6897c7,#6897c7,#6797c6,#6796c6,#6796c6,#6796c6,#6796c6,#6796c6)"></div><div style="height:6px;top:135px;background:linear-gradient(90deg,#a5c5df,#a5c5df,#a6c5df,#a6c6df,#a6c5df,#a5c5df,#a1c3dd,#98bcda,#86b0d4,#6b9bc9,#507db7,#355ca1,#26417f,#20346c,#20346c,#20346c,#20346c,#21356e,#21366f,#21366f,#223771,#243b77,#274382,#2d4e91,#32589e,#375ea2,#375ea2,#345a9f,#2f5397,#2b4b8d,#284383,#253f7c,#243d79,#253f7c,#294586,#2e5094,#355ca1,#3d66a7,#416bab,#436dad,#4570af,#4976b3,#527fb8,#5c8bbf,#6695c5,#6b9ac9,#6a9ac8,#6493c4,#5b8abf,#517eb8,#4773b1,#3f69aa,#3a62a5,#385fa3,#3961a4,#3e67a8,#446fae,#4a77b4,#517eb8,#5684bb,#5a88be,#5d8bc0,#5e8dc0,#5e8dc1,#5e8cc0,#5c8abf,#5987bd,#5684bb,#5380b9,#517eb8,#507eb8,#527fb8,#5482ba,#5886bc,#5c8abf,#608fc2,#6493c4,#6796c6,#6999c8,#6a9ac8,#6a9ac8,#6a99c8,#6a99c8,#6a99c8,#6a99c8,#6a99c8,#6a99c8)"></div><div style="height:6px;top:140px;background:linear-gradient(90deg,#a8c7e0,#a8c7e0,#a8c7e0,#a8c7e0,#a8c7e0,#a9c7e0,#a8c7e0,#a3c4de,#94b9d9,#77a5ce,#5886bc,#3a62a5,#274382,#20346c,#20346c,#20346c,#20346c,#21356e,#21366f,#21366f,#21366f,#223973,#253e7a,#284484,#2c4c8f,#2f5397,#32579d,#33599f,#32579d,#305498,#2d4d90,#294788,#274281,#26407e,#274281,#294687,#2c4d8f,#2f5297,#32579d,#355ca1,#3a62a5,#426dac,#4e7bb6,#5c8abf,#6797c6,#6e9ecb,#6d9cca,#6594c5,#5a88be,#4e7bb6,#446fae,#3d66a8,#3860a4,#375fa3,#3a62a5,#3f69aa,#4671af,#4c7ab5,#5280b9,#5785bc,#5a88be,#5c8bbf,#5e8dc0,#608fc2,#6190c2,#618fc2,#5f8ec1,#5d8bc0,#5a88be,#5785bc,#5583ba,#5381b9,#5381b9,#5583ba,#5886bc,#5c8bbf,#6190c3,#6695c5,#6999c8,#6b9bc9,#6c9cca,#6d9cca,#6d9cca,#6d9cca,#6d9cca,#6d9cca,#6d9cca)"></div><div style="height:6px;top:145px;background:linear-gradient(90deg,#acc9e1,#abc8e1,#abc8e1,#aac8e1,#abc8e1,#acc9e2,#aecae2,#aac8e1,#9ec0dc,#81acd2,#5e8dc0,#3e67a8,#294686,#20346c,#20346c,#20346c,#20346c,#21356e,#21366f,#21366f,#21356e,#21366f,#223871,#233b76,#26407d,#294687,#2d4e92,#31569c,#355ca0,#355ca1,#32589e,#2e5094,#2a4889,#274281,#253f7c,#253e7c,#26407e,#274382,#2a4889,#2e5093,#345aa0,#3f69aa,#4d7bb6,#5d8bc0,#6999c8,#70a0cc,#6e9dca,#6594c5,#5987bd,#4c79b5,#436dad,#3c65a7,#3860a4,#3860a4,#3c65a7,#426cac,#4975b2,#507db7,#5583ba,#5886bc,#5a88be,#5c8abf,#5e8dc1,#6190c2,#6392c4,#6594c5,#6493c4,#6392c3,#608ec1,#5c8bbf,#5987bd,#5683bb,#5481ba,#5381b9,#5683bb,#5a88be,#5f8ec1,#6594c5,#6998c7,#6c9cc9,#6e9ecb,#6f9fcb,#6f9fcb,#6f9fcc,#6f9fcc,#6f9fcb,#6f9fcb)"></div><div style="height:6px;top:150px;background:linear-gradient(90deg,#aecae2,#aecae2,#adc9e2,#acc9e1,#adc9e2,#afcbe3,#b2cce3,#afcbe3,#a5c5df,#89b2d5,#6493c4,#436dad,#2b4b8d,#223771,#20346c,#20346c,#20346c,#20356d,#21366f,#21366f,#20356d,#20346c,#20346c,#20346c,#213670,#243d79,#294788,#305499,#375fa3,#3b64a6,#3961a4,#32589e,#2d4d90,#284383,#253d7a,#233974,#223973,#243c78,#274382,#2d4e91,#365ea2,#446fae,#5381b9,#6190c2,#6c9bc9,#70a0cc,#6d9cca,#6493c4,#5886bc,#4c79b5,#436ead,#3d66a7,#3a62a5,#3a63a5,#3e68a9,#4570af,#4d7ab5,#5481ba,#5887bd,#5b89be,#5c8bbf,#5d8cc0,#5f8ec1,#6291c3,#6594c5,#6796c6,#6796c6,#6594c5,#6291c3,#5f8dc1,#5b89be,#5785bc,#5583ba,#5482ba,#5684bb,#5a88be,#5f8ec1,#6594c5,#6999c8,#6c9cca,#6e9ecb,#70a0cc,#70a0cc,#71a0cc,#70a0cc,#70a0cc,#70a0cc)"></div><div style="height:6px;top:155px;background:linear-gradient(90deg,#afcbe3,#afcae2,#aecae2,#adc9e2,#aecae2,#b0cbe3,#b3cde4,#b2cce4,#a8c7e0,#8fb6d7,#6a99c8,#4976b2,#2f5397,#253d7a,#20346c,#20346c,#20346c,#20356d,#21366e,#21356e,#20346c,#20346c,#20346c,#20346c,#20346c,#223872,#284383,#2f5397,#3961a4,#3f68a9,#3d66a8,#365da1,#2e5094,#284484,#243d79,#223873,#223872,#253d7a,#2a488a,#335a9f,#436ead,#5380b9,#608fc2,#6998c7,#6e9ecb,#6e9ecb,#6999c8,#6190c3,#5886bc,#4e7bb6,#4571af,#3f69aa,#3c65a7,#3c65a7,#416bab,#4874b1,#507eb7,#5886bc,#5d8bc0,#5f8ec1,#608ec1,#608fc2,#6290c3,#6493c4,#6695c5,#6696c6,#6695c5,#6493c4,#6190c2,#5e8cc0,#5b89be,#5886bd,#5785bc,#5886bc,#5a88be,#5e8dc0,#6392c3,#6796c6,#6b9ac9,#6d9dca,#6e9ecb,#6f9fcb,#6f9fcc,#6f9fcc,#6f9fcc,#6f9fcc,#6f9fcb)"></div><div style="height:6px;top:160px;background:linear-gradient(90deg,#afcbe3,#afcae2,#aecae2,#adc9e2,#aecae2,#b0cbe3,#b3cde4,#b2cce4,#aac8e1,#94b9d9,#70a0cc,#517fb8,#365ea2,#294686,#233a75,#21356e,#20346c,#20346c,#20356d,#20356d,#20346c,#20346c,#20346c,#20346c,#20346c,#213770,#274382,#305398,#3a63a5,#416bab,#3f68a9,#375ea2,#2e5195,#284585,#253d7a,#233b76,#243d79,#294586,#32579d,#446fae,#5886bc,#6897c7,#70a0cc,#73a2cd,#70a0cc,#6b9bc9,#6594c5,#5f8dc1,#5886bc,#507eb7,#4975b2,#436dad,#3f68a9,#3f68a9,#436dad,#4a77b3,#5381b9,#5c8abf,#6190c2,#6392c4,#6493c4,#6493c4,#6493c4,#6594c5,#6594c5,#6594c5,#6392c3,#608fc2,#5d8bbf,#5a88be,#5987bd,#5987bd,#5a88be,#5d8bbf,#608fc2,#6493c4,#6897c7,#6b9ac9,#6d9cca,#6e9dca,#6e9dca,#6d9dca,#6d9dca,#6d9dca,#6d9dca,#6d9dca,#6d9dca)"></div><div style="height:6px;top:165px;background:linear-gradient(90deg,#afcae2,#aecae2,#adc9e2,#adc9e2,#adcae2,#b0cbe3,#b2cce4,#b2cce4,#abc8e1,#97bcda,#77a5ce,#5988bd,#4069aa,#2e5094,#274180,#233974,#21356e,#20346c,#20346c,#20346c,#20346c,#20346c,#20346c,#20346c,#20346c,#233974,#294586,#31569c,#3c65a7,#426cac,#3f68a9,#365da1,#2e5093,#284484,#263f7d,#253f7c,#284585,#305499,#426cac,#5987bd,#6f9ecb,#82acd2,#86b0d4,#80abd2,#73a2cd,#6898c7,#6190c2,#5c8abf,#5886bc,#5380b9,#4c7ab5,#4672b0,#426cac,#416bab,#446fae,#4b78b4,#5583ba,#5d8cc0,#6392c4,#6695c5,#6796c6,#6696c6,#6695c5,#6594c5,#6493c4,#6290c3,#5f8dc1,#5b89be,#5886bc,#5684bb,#5785bc,#5987bd,#5d8cc0,#6290c3,#6695c6,#6a99c8,#6d9cca,#6e9ecb,#6e9ecb,#6e9dca,#6c9cc9,#6b9ac8,#6a99c8,#6999c8,#6999c8,#6a99c8,#6a9ac8)"></div><div style="height:6px;top:170px;background:linear-gradient(90deg,#aecae2,#adcae2,#adc9e2,#acc9e1,#adc9e2,#afcae2,#b1cce3,#b1cbe3,#abc8e1,#9abedb,#7da9d1,#6190c2,#4874b1,#345ba0,#2a488a,#253d7a,#213770,#20346c,#20346c,#20346c,#20346c,#20346c,#20346c,#20346c,#223771,#253f7c,#2c4c8e,#355ca1,#3f69aa,#436dad,#3e67a8,#345aa0,#2c4d90,#284383,#26417f,#294585,#2f5195,#3d66a8,#5381b9,#6c9cc9,#87b1d4,#98bcda,#97bbda,#89b2d5,#76a4ce,#6796c6,#5f8dc1,#5a89be,#5886bc,#5582ba,#4f7db7,#4976b2,#4470ae,#436dad,#4571af,#4b79b4,#5482ba,#5c8abf,#6291c3,#6594c5,#6796c6,#6796c6,#6695c5,#6493c4,#6190c3,#5e8dc0,#5b89be,#5785bc,#5582ba,#5482ba,#5684bb,#5a88be,#5f8ec1,#6594c5,#6a99c8,#6d9dca,#70a0cc,#70a0cc,#6f9fcc,#6d9dca,#6a9ac8,#6797c6,#6695c5,#6594c5,#6695c5,#6695c6,#6796c6)"></div><div style="height:6px;top:175px;background:linear-gradient(90deg,#adcae2,#adc9e2,#acc9e1,#acc9e1,#acc9e2,#aecae2,#b0cbe3,#b0cbe3,#abc8e1,#9cbfdb,#82add2,#6696c6,#4f7cb6,#3a63a5,#2d4e91,#26407e,#223771,#20346c,#20346c,#20346c,#20346c,#21366f,#223872,#233a76,#263f7d,#2a4889,#31559a,#3b64a6,#436ead,#446fae,#3d66a8,#31579c,#2a498a,#274180,#274382,#2c4d90,#375fa3,#4a77b4,#6291c3,#7da9d1,#96bbd9,#a2c3de,#9dc0dc,#8db4d6,#78a6cf,#6897c7,#5f8ec1,#5a89be,#5886bc,#5583bb,#507eb8,#4b78b4,#4773b0,#4570ae,#4672b0,#4a77b3,#507eb8,#5785bc,#5d8bbf,#6190c2,#6392c4,#6493c4,#6493c4,#6190c3,#5e8dc1,#5b89be,#5886bc,#5583bb,#5482ba,#5482ba,#5785bc,#5b89be,#608fc2,#6695c5,#6a9ac8,#6e9dca,#70a0cc,#70a0cc,#6e9ecb,#6b9bc9,#6897c7,#6493c4,#6291c3,#6291c3,#6291c3,#6392c3,#6392c4)"></div><div style="height:6px;top:180px;background:linear-gradient(90deg,#adcae2,#adc9e2,#acc9e1,#acc9e1,#acc9e1,#aecae2,#b0cbe3,#b0cbe3,#aac8e1,#9dc0dc,#85afd3,#6a99c8,#5380b9,#3e68a9,#2f5296,#274180,#223771,#20346c,#20346c,#20346c,#21356e,#233974,#253e7a,#274281,#2b4a8b,#305499,#3961a4,#436dad,#4874b1,#4671b0,#3c64a7,#305398,#284585,#263f7d,#284484,#305499,#426cac,#5886bc,#6e9ecb,#88b1d4,#9bbedb,#a2c3de,#9cbfdc,#8db4d6,#7aa7d0,#6a9ac8,#6190c2,#5c8abf,#5886bc,#5582ba,#517eb8,#4c79b5,#4975b2,#4772b0,#4772b0,#4874b2,#4b78b4,#507db7,#5583ba,#5a88bd,#5d8cc0,#608ec1,#608ec1,#5e8cc0,#5b89be,#5886bc,#5684bb,#5583bb,#5683bb,#5785bc,#5987bd,#5c8bbf,#608fc2,#6493c4,#6897c7,#6b9bc9,#6d9dca,#6e9ecb,#6c9cca,#6999c8,#6594c5,#6290c3,#5f8ec1,#5f8dc1,#5f8ec1,#608fc2,#608fc2)"></div><div style="height:6px;top:185px;background:linear-gradient(90deg,#adcae2,#adc9e2,#acc9e2,#acc9e1,#adc9e2,#aecae2,#b0cbe3,#afcbe3,#aac8e1,#9dc0dc,#85afd3,#6a9ac8,#5381b9,#3f68a9,#2f5296,#274180,#223771,#20346c,#20346c,#20346c,#223973,#253f7c,#294585,#2d4e90,#31579d,#3a62a5,#436ead,#4a77b3,#4d7ab5,#4874b1,#3b63a6,#2e5093,#274180,#253e7a,#294687,#345ba0,#4a77b3,#6291c3,#78a6cf,#8db4d6,#99bddb,#9dc0dc,#97bcda,#8bb3d5,#7ca8d0,#6d9dca,#6494c5,#5e8cc0,#5886bd,#5482ba,#517eb8,#4d7bb6,#4b78b4,#4975b2,#4773b1,#4672b0,#4772b0,#4875b2,#4c79b5,#517fb8,#5684bb,#5a88bd,#5b89be,#5988bd,#5785bc,#5684bb,#5583bb,#5684bb,#5886bd,#5a88be,#5c8abf,#5d8cc0,#5f8dc1,#6190c2,#6493c4,#6796c6,#6999c8,#6a9ac8,#6a99c8,#6796c6,#6392c4,#5f8ec1,#5d8cc0,#5d8bbf,#5d8cc0,#5e8cc0,#5e8dc1)"></div><div style="height:6px;top:190px;background:linear-gradient(90deg,#aecae2,#adcae2,#adc9e2,#adc9e2,#adc9e2,#afcae2,#b0cbe3,#afcbe3,#aac8e0,#9bbedb,#82add2,#6796c6,#507db7,#3b64a6,#2d4f92,#26407e,#223771,#20346c,#20346c,#223872,#253f7c,#294788,#2e5195,#345ba0,#3d65a7,#4570af,#4c7ab5,#527fb8,#517fb8,#4976b2,#3a62a5,#2d4d90,#263f7d,#243c79,#2a4788,#3860a3,#507db7,#6898c7,#7eaad1,#8eb5d7,#95bad9,#96bbd9,#91b7d8,#88b1d5,#7da9d0,#70a0cc,#6897c7,#608fc2,#5a88bd,#5582ba,#517fb8,#4f7db7,#4e7bb6,#4b78b4,#4875b2,#4571af,#436dad,#426dac,#4570af,#4976b3,#4f7cb6,#5381b9,#5583bb,#5583bb,#5582ba,#5482ba,#5583bb,#5886bc,#5b89be,#5d8cc0,#5e8dc0,#5e8cc0,#5d8bc0,#5d8bc0,#5f8dc1,#6190c3,#6493c4,#6696c6,#6696c6,#6493c4,#6190c3,#5f8dc1,#5d8bc0,#5c8bbf,#5d8bbf,#5d8cc0,#5e8cc0)"></div><div style="height:6px;top:195px;background:linear-gradient(90deg,#afcae2,#aecae2,#aecae2,#adcae2,#aecae2,#afcbe3,#b1cbe3,#b0cbe3,#a9c7e0,#97bcda,#7ca8d0,#608fc2,#4874b1,#345ba0,#2a488a,#253d7a,#223771,#213670,#233a74,#26407e,#2a498a,#305499,#375fa3,#406aaa,#4773b1,#4f7cb6,#5583ba,#5785bc,#5482ba,#4a77b3,#3a62a5,#2c4c8f,#253e7b,#243c78,#2a4889,#3961a4,#5280b9,#6a9ac8,#7eaad1,#8bb3d6,#91b7d8,#90b7d7,#8db4d6,#86b0d4,#7da9d1,#73a2cd,#6a9ac8,#6291c3,#5b8abf,#5684bb,#5481ba,#5280b9,#517fb8,#4f7cb6,#4a77b3,#4571af,#416bab,#3e68a9,#4069aa,#446fae,#4975b2,#4e7bb6,#517eb8,#5280b9,#5280b9,#5381b9,#5684bb,#5987bd,#5c8bbf,#5f8dc1,#5f8dc1,#5d8bc0,#5b89be,#5987bd,#5a88be,#5c8bbf,#608ec1,#6291c3,#6392c4,#6392c3,#6190c2,#5f8ec1,#5e8cc0,#5d8cc0,#5e8cc0,#5e8dc0,#5e8dc1)"></div><div style="height:6px;top:200px;background:linear-gradient(90deg,#afcae2,#afcae2,#aecae2,#aecae2,#aecae2,#b0cbe3,#b1cce3,#b0cbe3,#a7c6e0,#93b9d8,#72a2cd,#5785bc,#3e67a8,#2d4f92,#26407e,#233974,#223871,#233a75,#26407e,#2b4a8c,#31569b,#3a62a5,#426dac,#4a76b3,#507eb8,#5684bb,#5a88be,#5a88be,#5583ba,#4976b2,#3961a4,#2c4c8e,#253e7c,#243c79,#2a4889,#3860a3,#4f7db7,#6695c6,#78a5cf,#83aed3,#89b1d5,#89b2d5,#87b0d4,#83add3,#7ca9d0,#74a3cd,#6c9bc9,#6493c4,#5e8cc0,#5987bd,#5785bc,#5684bb,#5582ba,#5280b9,#4d7ab5,#4672b0,#406aaa,#3c65a7,#3c65a7,#3f69aa,#446fae,#4975b2,#4d7ab5,#4f7cb7,#517eb8,#5381b9,#5684bb,#5a88be,#5d8cc0,#5f8ec1,#5e8dc1,#5c8abf,#5887bd,#5684bb,#5684bb,#5887bd,#5c8abf,#5f8ec1,#6190c2,#6290c3,#6190c2,#618fc2,#608fc2,#608fc2,#608fc2,#608fc2,#608fc2)"></div><div style="height:6px;top:205px;background:linear-gradient(90deg,#afcae2,#afcae2,#aecae2,#adcae2,#aecae2,#b0cbe3,#b2cce3,#afcbe3,#a6c5df,#8db5d6,#6b9ac8,#4c79b5,#32589e,#274280,#223771,#20356d,#223771,#253e7a,#294788,#305398,#3960a4,#426dac,#4a76b3,#507eb7,#5583bb,#5987bd,#5a88be,#5886bd,#527fb8,#4772b0,#375fa3,#2c4b8d,#253f7c,#243d79,#294687,#345ba0,#4975b2,#5c8bbf,#6a9ac8,#74a2cd,#79a7cf,#7ca8d0,#7ca9d0,#7ba8d0,#78a6cf,#73a2cd,#6d9cca,#6695c6,#608fc2,#5c8abf,#5988bd,#5987bd,#5785bc,#5482ba,#4e7cb6,#4773b0,#406aaa,#3b64a6,#3a63a5,#3c65a7,#406bab,#4570af,#4976b2,#4d7ab5,#507db7,#5381b9,#5785bc,#5b89be,#5d8cc0,#5f8dc1,#5d8cc0,#5a89be,#5785bc,#5482ba,#5482ba,#5684bb,#5987bd,#5d8bbf,#5f8ec1,#6190c3,#6291c3,#6392c4,#6392c4,#6392c4,#6392c4,#6392c4,#6392c4)"></div><div style="height:6px;top:210px;background:linear-gradient(90deg,#aecae2,#adcae2,#adc9e2,#acc9e1,#adc9e2,#afcae2,#b1cce3,#afcae2,#a4c5de,#88b1d5,#6392c4,#426dac,#2b4a8c,#213770,#20346c,#20346c,#21366f,#263f7d,#2b4b8d,#32589e,#3c65a7,#4570af,#4b78b4,#507eb7,#5381b9,#5582ba,#5482ba,#517fb8,#4b78b4,#416bab,#335a9f,#2b498b,#253f7c,#243c78,#284383,#305398,#3e67a8,#4d7ab5,#5886bc,#5f8ec1,#6493c4,#6797c6,#6b9bc9,#6f9ecb,#71a0cc,#70a0cc,#6d9dca,#6897c7,#6291c3,#5e8cc0,#5b8abf,#5a88be,#5886bd,#5583ba,#4f7cb6,#4773b1,#406aaa,#3b63a6,#3961a4,#3a63a5,#3d67a8,#426cac,#4672b0,#4a77b3,#4f7cb6,#5381b9,#5785bc,#5b89be,#5d8bc0,#5e8cc0,#5c8bbf,#5a88be,#5785bc,#5582ba,#5482ba,#5684bb,#5987bd,#5c8abf,#5f8ec1,#6291c3,#6494c5,#6695c6,#6796c6,#6797c6,#6796c6,#6796c6,#6796c6)"></div><div style="height:6px;top:215px;background:linear-gradient(90deg,#acc9e1,#abc8e1,#aac8e1,#aac8e0,#aac8e1,#adc9e2,#b0cbe3,#aecae2,#a2c4de,#84aed3,#5e8cc0,#3b63a6,#26407e,#20346c,#20346c,#20346c,#20346c,#253e7c,#2b4a8c,#31569c,#3961a4,#406aaa,#4570af,#4874b1,#4976b2,#4976b3,#4874b2,#4571af,#406aaa,#385fa3,#2f5296,#294586,#253d7a,#233b76,#263f7d,#2a488a,#31559a,#3961a4,#3f69aa,#446fae,#4874b1,#4e7bb6,#5684bb,#5f8ec1,#6897c7,#6d9cca,#6d9cca,#6998c7,#6493c4,#5f8dc1,#5b8abf,#5987bd,#5785bc,#5381b9,#4d7ab5,#4672b0,#4069aa,#3b63a5,#3860a3,#3960a4,#3b64a6,#3f69a9,#446ead,#4875b2,#4e7bb6,#5380b9,#5785bc,#5a88be,#5c8abf,#5d8bbf,#5c8abf,#5a89be,#5887bd,#5785bc,#5785bc,#5886bd,#5b89be,#5d8cc0,#6190c2,#6493c4,#6796c6,#6999c8,#6b9ac9,#6b9bc9,#6b9ac9,#6a9ac8,#6a9ac8)"></div><div style="height:6px;top:220px;background:linear-gradient(90deg,#a9c7e0,#a8c7e0,#a7c6df,#a6c6df,#a7c6e0,#aac8e1,#aecae2,#acc9e1,#a0c2dd,#80acd2,#5988bd,#355ca1,#233a75,#20346c,#20346c,#20346c,#20346c,#243c78,#294686,#2d4f92,#31569c,#355ca1,#3860a4,#3a62a5,#3b63a6,#3a63a5,#3961a4,#375ea2,#33599e,#2f5296,#2b498b,#274180,#243c78,#233a74,#243b77,#253f7c,#284483,#2a488a,#2b4b8d,#2c4d8f,#2e5195,#335a9f,#3f69aa,#4e7bb6,#5d8cc0,#6897c7,#6c9bc9,#6a99c8,#6493c4,#5f8dc1,#5a89be,#5785bc,#5482ba,#507eb7,#4b78b4,#4570ae,#3f68a9,#3a62a5,#385fa3,#375fa3,#3961a4,#3d66a7,#416cab,#4773b0,#4d7ab5,#5280b9,#5684bb,#5987bd,#5b89be,#5c8abf,#5c8abf,#5c8abf,#5c8abf,#5b8abf,#5c8abf,#5d8bbf,#5e8dc0,#608fc2,#6392c4,#6696c6,#6a99c8,#6c9cca,#6e9ecb,#6e9ecb,#6e9ecb,#6e9dca,#6d9dca)"></div><div style="height:6px;top:225px;background:linear-gradient(90deg,#a6c6df,#a5c5df,#a4c4de,#a3c4de,#a4c5de,#a7c6e0,#abc8e1,#a9c7e0,#9dc0dc,#7eaad1,#5886bc,#345ba0,#233974,#20346c,#20346c,#20346c,#20346c,#223973,#26407e,#284585,#2a498a,#2c4c8e,#2d4d90,#2d4e91,#2d4f92,#2d4e91,#2c4d90,#2c4b8d,#2a488a,#284585,#274180,#253e7b,#243b77,#233974,#233974,#233974,#233974,#223973,#213770,#21366f,#223872,#26407e,#2f5195,#3f69aa,#5381b9,#6392c3,#6a99c8,#6999c8,#6493c4,#5e8dc0,#5987bd,#5583bb,#527fb8,#4d7bb6,#4975b2,#436ead,#3e68a9,#3a62a5,#385fa3,#375ea2,#3860a3,#3b63a6,#4069aa,#4671af,#4c79b5,#5280b9,#5684bb,#5987bd,#5b89be,#5c8abf,#5d8bc0,#5e8dc0,#608ec1,#618fc2,#6190c2,#6291c3,#6291c3,#6392c4,#6695c5,#6998c7,#6c9bc9,#6e9ecb,#70a0cc,#71a1cc,#70a0cc,#70a0cc,#6f9fcb)"></div><div style="height:6px;top:230px;background:linear-gradient(90deg,#a3c4de,#a3c4de,#a2c3de,#a1c3dd,#a2c3de,#a5c5df,#a7c6df,#a5c5df,#98bcda,#7ba8d0,#5987bd,#3960a4,#263f7d,#20346c,#20346c,#20346c,#20346c,#21366f,#233a74,#243c78,#243d79,#243d79,#253d7a,#253d7a,#253d7a,#243d79,#243d79,#243d79,#243d79,#243d79,#243c79,#243c79,#243c78,#243c77,#233b76,#233974,#223771,#20346c,#20346c,#20346c,#20346c,#20356d,#284484,#365ea2,#4b78b4,#5e8cc0,#6696c6,#6797c6,#6493c4,#5e8cc0,#5987bd,#5482ba,#507db7,#4c79b4,#4773b1,#436ead,#3f68a9,#3b63a6,#3860a3,#375ea2,#375ea2,#3a62a5,#3e68a9,#4570af,#4c79b5,#5380b9,#5785bc,#5a88be,#5b8abf,#5d8bc0,#5f8dc1,#6190c3,#6493c4,#6695c5,#6796c6,#6796c6,#6695c6,#6695c6,#6897c6,#6a99c8,#6d9cca,#6f9fcb,#71a1cc,#72a1cd,#71a1cc,#70a0cc,#70a0cc)"></div><div style="height:6px;top:235px;background:linear-gradient(90deg,#a2c3de,#a2c3dd,#a1c3dd,#a1c3dd,#a1c3dd,#a2c4de,#a3c4de,#9ec1dc,#92b8d8,#7aa7cf,#5e8cc0,#436dad,#2e5093,#253d7a,#21356e,#20346c,#20346c,#20346c,#20346d,#20346c,#20346c,#20346c,#20346c,#20346c,#20346c,#20346c,#20346c,#20346c,#21366f,#223872,#233b76,#253d7a,#26407d,#274180,#274281,#274180,#263f7d,#243c78,#213770,#20346c,#20346c,#223872,#294686,#355ca1,#4875b2,#5987bd,#6291c3,#6494c5,#6291c3,#5e8dc0,#5a88bd,#5583ba,#507eb8,#4c79b5,#4874b1,#446fae,#406aaa,#3c65a7,#3961a4,#375ea2,#375ea2,#3961a4,#3e67a8,#4570af,#4d7ab5,#5482ba,#5988bd,#5c8bbf,#5e8cc0,#5f8ec1,#6291c3,#6594c5,#6898c7,#6b9ac8,#6b9bc9,#6a9ac8,#6998c7,#6897c7,#6897c7,#6a99c8,#6c9cc9,#6e9ecb,#6f9fcc,#70a0cc,#709fcc,#6f9fcb,#6f9fcb)"></div><div style="height:6px;top:240px;background:linear-gradient(90deg,#a1c3dd,#a2c3de,#a2c3de,#a2c4de,#a2c3de,#a1c2dd,#9ec0dc,#97bcda,#8bb3d6,#79a6cf,#6594c5,#517eb8,#3f68a9,#30559a,#294788,#253e7b,#223872,#20346c,#20346c,#20346c,#20346c,#20346c,#20346c,#20346c,#20346c,#20346c,#20346c,#20346c,#20346c,#223871,#243c78,#274180,#294687,#2c4b8e,#2e5093,#2f5296,#2f5397,#2e5194,#2c4c8e,#2a4788,#294585,#2a498a,#305398,#3b63a6,#4975b2,#5583bb,#5d8cc0,#618fc2,#6190c2,#5f8dc1,#5b8abf,#5785bc,#5380b9,#4e7bb6,#4a76b3,#4671af,#426dac,#3e68a9,#3b63a6,#3860a3,#375ea2,#3960a4,#3e67a8,#4571af,#4e7cb6,#5785bc,#5c8bbf,#5f8ec1,#6190c2,#6291c3,#6594c5,#6898c7,#6c9bc9,#6e9ecb,#6e9ecb,#6d9cca,#6a9ac8,#6898c7,#6897c7,#6898c7,#6a9ac8,#6c9bc9,#6d9dca,#6d9dca,#6d9dca,#6d9cca,#6c9cca)"></div><div style="height:6px;top:245px;background:linear-gradient(90deg,#a2c3de,#a3c4de,#a4c4de,#a4c5df,#a4c4de,#a0c2dd,#9abddb,#91b7d8,#86afd4,#79a6cf,#6c9cc9,#608fc2,#5380b9,#4570ae,#365da1,#2c4c8e,#253e7b,#21356e,#20346c,#20346c,#20346c,#20346c,#20346c,#20346c,#20346c,#20346c,#20346c,#20346c,#21366f,#243c77,#274281,#2b498b,#2f5296,#345a9f,#3a62a5,#3f69aa,#426dad,#436ead,#416cab,#3e67a9,#3b64a6,#3b64a6,#3f68a9,#4570ae,#4c79b5,#5381b9,#5987bd,#5d8bc0,#5f8dc1,#5f8dc1,#5d8bc0,#5a88bd,#5683bb,#517fb8,#4d7ab5,#4975b2,#4570af,#416bab,#3c65a7,#3961a4,#375fa3,#3961a4,#3e67a9,#4672b0,#507eb7,#5987bd,#5f8ec1,#6291c3,#6493c4,#6594c5,#6797c6,#6b9ac9,#6e9ecb,#70a0cc,#70a0cc,#6e9ecb,#6b9ac9,#6898c7,#6796c6,#6796c6,#6897c7,#6998c7,#6a99c8,#6a9ac8,#6a99c8,#6a99c8,#6999c8)"></div><div style="height:6px;top:250px;background:linear-gradient(90deg,#a2c4de,#a4c4de,#a5c5df,#a6c6df,#a5c5df,#a0c2dd,#97bcda,#8cb4d6,#82add2,#7aa7cf,#73a2cd,#6c9cca,#6493c4,#5684bb,#446fae,#32589e,#284484,#223873,#20346c,#20346c,#20346c,#20346c,#20346c,#20346c,#20346c,#20346c,#21356e,#223973,#253e7b,#284484,#2c4d8f,#31569c,#3961a4,#426cac,#4a77b3,#5280b9,#5886bc,#5b89be,#5b89be,#5886bc,#5582ba,#527fb8,#507eb7,#507eb7,#527fb8,#5482ba,#5785bc,#5a88be,#5c8bbf,#5e8cc0,#5d8cc0,#5b8abf,#5886bd,#5482ba,#507eb7,#4c79b5,#4874b1,#436ead,#3e68a9,#3a63a5,#3860a3,#3961a5,#3f68a9,#4773b1,#527fb8,#5b8abf,#6190c2,#6493c4,#6595c5,#6696c6,#6898c7,#6b9bc9,#6e9ecb,#70a0cc,#70a0cc,#6e9dca,#6b9ac8,#6897c7,#6695c6,#6695c5,#6695c6,#6796c6,#6796c6,#6797c6,#6797c6,#6796c6,#6796c6)"></div><div style="height:6px;top:255px;background:linear-gradient(90deg,#a3c4de,#a4c5de,#a6c6df,#a7c6df,#a5c5df,#a0c2dd,#97bbda,#8cb4d6,#82add2,#7ba8d0,#78a5cf,#73a2cd,#6c9bc9,#5e8dc1,#4b78b4,#375fa2,#2b498b,#253d7a,#233974,#233b76,#253e7b,#274180,#274382,#274382,#274282,#274282,#284483,#294788,#2c4c8e,#305398,#365da1,#3f69a9,#4975b2,#5380b9,#5c8abf,#6493c4,#6999c8,#6c9cca,#6d9dca,#6b9bc9,#6897c7,#6392c4,#5f8ec1,#5b8abf,#5987bd,#5785bc,#5785bc,#5887bd,#5a88be,#5b8abf,#5c8abf,#5b8abf,#5a88bd,#5785bc,#5481ba,#4f7db7,#4a77b4,#4671af,#406aab,#3c65a7,#3962a5,#3a63a5,#406aaa,#4975b2,#5381b9,#5c8bbf,#6291c3,#6493c4,#6594c5,#6594c5,#6796c6,#6999c8,#6c9cc9,#6e9ecb,#6e9ecb,#6c9cca,#6a99c8,#6797c6,#6695c5,#6594c5,#6594c5,#6695c5,#6695c5,#6695c5,#6695c5,#6695c5,#6695c5)"></div><div style="height:6px;top:260px;background:linear-gradient(90deg,#a3c4de,#a4c5df,#a6c6df,#a7c6df,#a5c5df,#a1c2dd,#98bcda,#8eb5d6,#84aed3,#7eaad1,#7aa7d0,#75a4ce,#6c9cca,#5f8dc1,#4b78b4,#3860a3,#2c4c8e,#274281,#274180,#2a4788,#2e5094,#32589e,#355ca1,#365da1,#355ca1,#345ba0,#345ba0,#355ca1,#3860a3,#3e67a8,#4671af,#507db7,#5b89be,#6594c5,#6c9cca,#73a2cd,#77a5cf,#7aa7cf,#7aa7d0,#78a6cf,#74a3cd,#6f9fcb,#6a99c8,#6493c4,#5f8ec1,#5b8abf,#5987bd,#5886bc,#5886bc,#5887bd,#5988bd,#5a89be,#5a89be,#5987bd,#5785bc,#5280b9,#4d7ab5,#4874b1,#426dac,#3e67a8,#3b64a6,#3c65a7,#416cab,#4a76b3,#5482ba,#5d8bbf,#6291c3,#6392c4,#6392c4,#6391c3,#6392c4,#6695c5,#6898c7,#6b9ac9,#6b9bc9,#6a9ac8,#6998c7,#6796c6,#6695c5,#6594c5,#6594c5,#6594c5,#6595c5,#6695c5,#6595c5,#6595c5,#6595c5)"></div><div style="height:6px;top:265px;background:linear-gradient(90deg,#a3c4de,#a4c5de,#a5c5df,#a6c6df,#a5c5df,#a1c3dd,#9abedb,#91b7d8,#89b1d5,#81acd2,#7ba8d0,#74a3cd,#6a99c8,#5b89be,#4874b1,#365da1,#2c4c8e,#294585,#2b498b,#30559a,#3a63a5,#436ead,#4874b1,#4976b3,#4975b2,#4773b1,#4672b0,#4672b0,#4874b2,#4e7bb6,#5785bc,#6190c3,#6c9cc9,#77a5ce,#7eaad1,#82add2,#83add3,#82add3,#82acd2,#80abd2,#7ca9d0,#77a5cf,#70a0cc,#6a9ac8,#6493c4,#5e8dc1,#5a88be,#5785bc,#5684bb,#5684bb,#5785bc,#5987bd,#5b89be,#5b8abf,#5987bd,#5583bb,#507db7,#4a76b3,#446fae,#406aaa,#3d67a8,#3e68a9,#436ead,#4b78b4,#5582ba,#5c8bbf,#618fc2,#6290c3,#618fc2,#608ec1,#608fc2,#6291c3,#6594c5,#6897c7,#6998c7,#6998c7,#6897c7,#6796c6,#6695c6,#6695c5,#6695c5,#6695c5,#6695c5,#6695c5,#6695c5,#6695c5,#6695c5)"></div><div style="height:6px;top:270px;background:linear-gradient(90deg,#a3c4de,#a4c4de,#a5c5df,#a5c5df,#a4c5de,#a1c3dd,#9cbfdb,#95bad9,#8db5d6,#86afd4,#7eaad1,#73a2cd,#6796c6,#5785bc,#446fae,#32599e,#2b498b,#284585,#2c4c8f,#345ba0,#426dac,#4d7ab5,#5481ba,#5583bb,#5582ba,#5381b9,#5280b9,#5381b9,#5684bb,#5d8bbf,#6695c5,#71a0cc,#7eaad1,#88b1d4,#8db4d6,#8db4d6,#8bb3d6,#88b1d5,#86b0d4,#84aed3,#81acd2,#7ca9d0,#74a3cd,#6c9cc9,#6594c5,#5e8dc0,#5987bd,#5683bb,#5482ba,#5482ba,#5684bb,#5a88bd,#5c8bbf,#5d8cc0,#5b8abf,#5785bc,#527fb8,#4c79b4,#4672b0,#426dac,#406aab,#416cab,#4671af,#4d7ab5,#5583bb,#5c8bbf,#608ec1,#608fc2,#5f8dc1,#5e8cc0,#5e8dc0,#608fc2,#6392c4,#6695c6,#6897c7,#6897c7,#6897c7,#6796c6,#6796c6,#6696c6,#6696c6,#6796c6,#6796c6,#6796c6,#6796c6,#6796c6,#6796c6)"></div><div style="height:6px;top:275px;background:linear-gradient(90deg,#a2c3de,#a3c4de,#a3c4de,#a4c4de,#a3c4de,#a1c3dd,#9dc0dc,#97bcda,#91b7d8,#8ab2d5,#82add2,#76a4ce,#6898c7,#5785bc,#426cac,#305499,#284484,#26407d,#294687,#31569b,#3f68a9,#4a77b3,#507db7,#527fb8,#517fb8,#527fb8,#5482ba,#5886bd,#5f8ec1,#6797c6,#71a1cc,#7faad1,#8ab3d5,#92b8d8,#95bad9,#94bad9,#91b8d8,#8eb5d7,#8cb4d6,#8ab2d5,#85afd4,#7faad1,#74a3cd,#6a99c8,#608fc2,#5987bd,#5482ba,#5280b9,#5280b9,#5582ba,#5886bc,#5c8abf,#5e8dc1,#5f8ec1,#5d8cc0,#5987bd,#5381ba,#4e7bb6,#4975b2,#4671af,#446fae,#4571af,#4976b3,#507db7,#5785bc,#5c8bbf,#5f8ec1,#5f8ec1,#5e8dc1,#5e8cc0,#5f8dc1,#6190c2,#6493c4,#6796c6,#6898c7,#6998c7,#6897c7,#6796c6,#6696c6,#6696c6,#6796c6,#6796c6,#6797c6,#6897c6,#6797c6,#6797c6,#6797c6)"></div><div style="height:6px;top:280px;background:linear-gradient(90deg,#a1c3dd,#a2c3de,#a3c4de,#a3c4de,#a2c4de,#a1c2dd,#9dc0dc,#99bddb,#94b9d9,#8fb6d7,#88b1d4,#7da9d1,#6d9dca,#5a88be,#436dad,#2f5296,#253f7c,#223872,#243d79,#2a498a,#32599e,#3c65a7,#416bab,#426cac,#426dac,#4570af,#4c79b4,#5684bb,#6291c3,#6e9dca,#7ba8d0,#87b0d4,#90b7d7,#96bbda,#99bdda,#99bdda,#97bbda,#95bad9,#93b9d8,#90b7d7,#8ab3d5,#80acd2,#72a1cd,#6594c5,#5987bd,#507eb7,#4d7ab5,#4e7bb6,#517fb8,#5684bb,#5b89be,#5e8dc1,#618fc2,#6190c2,#5e8dc1,#5a88be,#5583ba,#507db7,#4c79b4,#4976b2,#4975b2,#4a77b3,#4d7bb6,#5380b9,#5886bc,#5c8bbf,#5f8dc1,#5f8ec1,#5f8ec1,#608ec1,#6190c3,#6493c4,#6897c7,#6a9ac8,#6b9bc9,#6a9ac8,#6998c7,#6796c6,#6695c6,#6696c6,#6796c6,#6897c6,#6897c7,#6897c7,#6897c7,#6897c7,#6897c7)"></div><div style="height:6px;top:285px;background:linear-gradient(90deg,#a1c3dd,#a2c3de,#a2c4de,#a3c4de,#a2c3de,#a0c2dd,#9ec0dc,#9abedb,#96bbd9,#93b8d8,#8eb5d7,#85afd3,#75a3ce,#608ec1,#4671af,#2f5296,#243c78,#20346c,#20346c,#233b76,#284585,#2d4d90,#2e5094,#2e5094,#2f5296,#33599f,#3f69a9,#4f7cb7,#6190c2,#71a1cc,#81acd2,#8cb4d6,#93b8d8,#97bbda,#9abddb,#9bbedb,#9cbfdb,#9cbfdb,#9bbedb,#97bcda,#90b7d7,#83add3,#70a0cc,#608fc2,#517fb8,#4874b1,#4671af,#4975b2,#4f7cb7,#5684bb,#5c8bbf,#608fc2,#6190c3,#6190c2,#5e8dc1,#5a89be,#5684bb,#527fb8,#4f7cb6,#4d7bb6,#4d7bb6,#4f7cb6,#527fb8,#5583bb,#5987bd,#5d8bbf,#5f8dc1,#608fc2,#6190c2,#6291c3,#6594c5,#6898c7,#6b9bc9,#6d9dca,#6e9dca,#6c9cc9,#6a99c8,#6797c6,#6695c6,#6695c5,#6796c6,#6797c6,#6897c7,#6898c7,#6897c7,#6897c7,#6897c7)"></div><div style="height:6px;top:290px;background:linear-gradient(90deg,#a2c4de,#a3c4de,#a3c4de,#a4c4de,#a3c4de,#a1c3dd,#9ec1dc,#9bbedb,#98bcda,#95bad9,#92b8d8,#8cb4d6,#7da9d1,#6696c6,#4b78b4,#32579d,#253d7a,#20346c,#20346c,#20346c,#20356d,#223872,#223872,#223771,#233a75,#274382,#32579d,#4773b0,#5f8dc1,#74a3cd,#85afd4,#8fb6d7,#94b9d9,#97bbda,#9abddb,#9dc0dc,#a0c2dd,#a2c3de,#a2c3de,#9fc1dd,#97bbda,#88b1d4,#71a1cc,#5e8dc0,#4d7bb6,#436ead,#416bab,#4570af,#4c79b5,#5582ba,#5b89be,#5e8dc0,#5f8ec1,#5f8dc1,#5d8bbf,#5a88be,#5785bc,#5482ba,#5280b9,#527fb8,#527fb8,#5381b9,#5583bb,#5886bc,#5a88be,#5d8bc0,#5f8ec1,#6190c2,#6392c4,#6594c5,#6898c7,#6c9bc9,#6e9ecb,#70a0cc,#6f9fcc,#6d9dca,#6a9ac8,#6897c7,#6695c5,#6695c5,#6695c6,#6796c6,#6797c6,#6797c6,#6797c6,#6796c6,#6796c6)"></div><div style="height:6px;top:295px;background:linear-gradient(90deg,#a4c5df,#a5c5df,#a6c5df,#a6c6df,#a5c5df,#a4c4de,#a0c2dd,#9cbfdb,#98bcda,#96bbd9,#94bad9,#8fb6d7,#83add3,#6d9dca,#5482ba,#3a63a5,#294687,#21366f,#20346c,#20346c,#20346c,#20346c,#20346c,#20346c,#20346c,#20346c,#2b4a8c,#416bab,#5d8bc0,#76a4ce,#89b2d5,#92b8d8,#96bbd9,#98bcda,#9bbedb,#9fc1dd,#a4c4de,#a6c6df,#a8c7e0,#a6c6df,#9fc1dc,#8fb6d7,#78a5cf,#6291c3,#507db7,#446fae,#406aaa,#436dad,#4875b2,#4f7db7,#5482ba,#5785bc,#5987bd,#5987bd,#5987bd,#5886bd,#5785bc,#5784bb,#5684bb,#5683bb,#5683bb,#5684bb,#5785bc,#5987bd,#5b89be,#5d8bc0,#5f8ec1,#6291c3,#6494c5,#6797c6,#6a9ac8,#6d9dca,#6f9fcb,#70a0cc,#6f9fcb,#6d9dca,#6a9ac8,#6897c7,#6695c6,#6595c5,#6594c5,#6595c5,#6695c5,#6695c5,#6695c5,#6695c5,#6595c5)"></div><div style="height:6px;top:300px;background:linear-gradient(90deg,#a5c5df,#a6c5df,#a6c6df,#a7c6df,#a6c6df,#a4c5de,#a0c2dd,#9cbfdb,#98bcda,#96bad9,#94bad9,#91b7d7,#87b0d4,#74a3cd,#5f8dc1,#4773b1,#32589e,#274382,#21366f,#20346c,#20346c,#20346c,#20346c,#20346c,#20346c,#20346c,#274382,#3e67a8,#5c8bbf,#78a6cf,#8cb4d6,#96bbd9,#99bdda,#9abedb,#9dc0dc,#a2c3de,#a6c6df,#aac8e1,#acc9e1,#acc9e1,#a6c6df,#99bddb,#83add3,#6a9ac8,#5785bc,#4976b2,#436ead,#426dac,#4570ae,#4875b2,#4b78b4,#4e7bb6,#507db7,#517fb8,#5381b9,#5583bb,#5785bc,#5887bd,#5987bd,#5887bd,#5886bc,#5886bc,#5886bc,#5987bd,#5b89be,#5d8bc0,#5f8ec1,#6291c3,#6595c5,#6898c7,#6a9ac8,#6c9cca,#6d9dca,#6d9dca,#6d9dca,#6c9bc9,#6a9ac8,#6898c7,#6796c6,#6594c5,#6493c4,#6492c4,#6392c4,#6392c4,#6392c4,#6392c4,#6392c4)"></div><div style="height:6px;top:305px;background:linear-gradient(90deg,#a0c2dd,#a1c2dd,#a1c3dd,#a2c3de,#a1c3dd,#9fc2dd,#9dc0dc,#9abddb,#97bbda,#95bad9,#94b9d9,#91b7d8,#8ab2d5,#7ca9d0,#6a99c8,#5785bc,#446fae,#33599f,#294586,#213770,#20346c,#20346c,#20346c,#20346c,#20346c,#20346c,#274382,#3f68a9,#5e8dc0,#7ba8d0,#90b7d7,#9abedb,#9dc0dc,#9ec1dc,#a1c2dd,#a4c5de,#a8c7e0,#acc9e2,#b0cbe3,#b1cbe3,#adcae2,#a4c4de,#8fb6d7,#76a4ce,#6290c3,#527fb8,#4875b2,#446fae,#436dad,#436ead,#446fae,#4571af,#4773b0,#4a76b3,#4d7ab5,#527fb8,#5683bb,#5887bd,#5a88bd,#5987bd,#5886bd,#5785bc,#5785bc,#5886bd,#5a88be,#5d8bbf,#608ec1,#6392c3,#6695c5,#6897c7,#6a99c8,#6a9ac8,#6a9ac8,#6a9ac8,#6a9ac8,#6a99c8,#6999c8,#6898c7,#6796c6,#6594c5,#6392c4,#6190c2,#608fc2,#608fc2,#608fc2,#618fc2,#6190c2)"></div><div style="height:6px;top:310px;background:linear-gradient(90deg,#90b7d7,#90b7d7,#90b7d7,#90b6d7,#90b7d7,#91b7d8,#92b8d8,#94b9d9,#95bad9,#96bbd9,#95bad9,#93b9d8,#8db5d6,#84aed3,#77a5ce,#6898c7,#5987bd,#4874b1,#375ea2,#2a498a,#223872,#20346c,#20346c,#20346c,#20346c,#20346c,#2c4c8f,#4570ae,#6392c4,#80abd2,#94bad9,#9ec0dc,#a1c3dd,#a2c3de,#a4c4de,#a6c6df,#aac8e1,#aecae2,#b2cce4,#b5cee5,#b3cde4,#acc9e1,#9bbedb,#83aed3,#6c9bc9,#5b8abf,#507db7,#4875b2,#446fae,#426cac,#416bab,#406aab,#416bab,#446ead,#4773b1,#4c79b5,#517fb8,#5583bb,#5785bc,#5785bc,#5684bb,#5583bb,#5683bb,#5785bc,#5a88be,#5d8bbf,#608ec1,#6392c3,#6594c5,#6796c6,#6897c7,#6897c7,#6897c7,#6797c6,#6797c6,#6897c7,#6897c7,#6897c7,#6695c6,#6493c4,#6190c2,#5f8ec1,#5e8cc0,#5d8cc0,#5d8cc0,#5e8cc0,#5e8dc1)"></div><div style="height:6px;top:315px;background:linear-gradient(90deg,#73a2cd,#71a1cc,#6f9fcb,#6e9ecb,#70a0cc,#75a4ce,#7fabd1,#8ab2d5,#94b9d9,#99bddb,#9abedb,#97bcda,#92b8d8,#8cb3d6,#84aed3,#7aa7d0,#6e9ecb,#608fc2,#4f7cb7,#3e67a8,#2f5397,#284383,#233b76,#223872,#243c78,#2a498a,#3961a4,#527fb8,#6c9bc9,#87b0d4,#98bcda,#a1c3dd,#a4c5df,#a5c5df,#a6c6df,#a8c7e0,#aac8e1,#aecae2,#b3cde4,#b7cfe6,#b8cfe6,#b2cce3,#a4c4de,#8db4d6,#74a3ce,#6392c4,#5886bc,#507eb7,#4b78b4,#4874b1,#4470ae,#426cac,#406aaa,#406aab,#436dad,#4672b0,#4a77b4,#4e7bb6,#507eb7,#517eb8,#517eb8,#517fb8,#5380b9,#5684bb,#5987bd,#5d8bbf,#608ec1,#6291c3,#6493c4,#6594c5,#6594c5,#6695c5,#6695c5,#6695c5,#6695c6,#6696c6,#6796c6,#6695c6,#6494c5,#6291c3,#5f8ec1,#5d8bbf,#5b8abf,#5b89be,#5b89be,#5c8abf,#5c8abf)"></div><div style="height:6px;top:320px;background:linear-gradient(90deg,#5582ba,#5280b9,#4f7cb7,#4d7bb6,#507db7,#5987bd,#6897c7,#7ca8d0,#90b7d7,#9dc0dc,#a0c2dd,#9dc0dc,#98bcda,#93b9d8,#90b6d7,#8cb4d6,#86afd4,#7aa7d0,#6b9ac9,#5c8bbf,#4e7bb6,#426dac,#3b63a6,#385fa3,#3a62a5,#426dac,#517fb8,#6493c4,#79a7cf,#8fb6d7,#9dc0dc,#a4c5de,#a7c6e0,#a8c7e0,#a8c7e0,#a9c7e0,#aac8e1,#aecae2,#b4cde4,#b9d0e6,#bad0e7,#b5cee5,#a8c7e0,#92b8d8,#7ba8d0,#6999c8,#608ec1,#5a88be,#5785bc,#5381b9,#4e7cb6,#4975b2,#446fae,#406aab,#3f69aa,#416bab,#436ead,#4571af,#4773b1,#4875b2,#4a76b3,#4c79b4,#4f7db7,#5481ba,#5886bd,#5c8bbf,#5f8ec1,#618fc2,#6290c3,#6291c3,#6392c3,#6493c4,#6494c5,#6594c5,#6695c5,#6695c5,#6594c5,#6493c4,#6291c3,#5f8ec1,#5d8bc0,#5b89be,#5987bd,#5987bd,#5987bd,#5a88bd,#5a88be)"></div><div style="height:6px;top:325px;background:linear-gradient(90deg,#3860a3,#355ca1,#31569c,#305498,#32589e,#3e67a8,#5280b9,#6b9bc9,#89b2d5,#9dc0dc,#a4c5de,#a3c4de,#9ec0dc,#9abedb,#9abedb,#9bbedb,#9abedb,#96bbd9,#8cb4d6,#80abd1,#72a2cd,#6998c7,#6392c3,#608ec1,#608fc2,#6594c5,#6d9dca,#7ba8d0,#8bb3d5,#98bcda,#a2c3dd,#a7c6df,#aac8e0,#aac8e1,#aac8e1,#aac8e0,#aac8e1,#aecae2,#b3cde4,#b9d0e6,#bcd1e7,#b7cfe6,#aac8e1,#95bad9,#7eaad1,#6d9dca,#6695c6,#6493c4,#6392c4,#6190c3,#5c8abf,#5381b9,#4a77b3,#436ead,#3f69a9,#3d66a8,#3d66a8,#3e67a8,#3f69aa,#416bab,#436ead,#4773b0,#4b78b4,#517eb8,#5684bb,#5a89be,#5d8bc0,#5e8dc0,#5f8dc1,#5f8ec1,#618fc2,#6291c3,#6493c4,#6695c5,#6695c5,#6594c5,#6493c4,#6290c3,#5f8ec1,#5c8bbf,#5a88be,#5886bd,#5785bc,#5785bc,#5785bc,#5785bc,#5886bc)"></div><div style="height:6px;top:330px;background:linear-gradient(90deg,#284383,#263f7d,#233a76,#223872,#243c78,#2c4b8d,#3f69aa,#5d8bc0,#7da9d0,#97bcda,#a3c4de,#a5c5df,#a3c4de,#a1c3dd,#a3c4de,#a6c6df,#a9c7e0,#aac8e0,#a7c6e0,#a3c4de,#9cbfdc,#96bbd9,#90b7d7,#8cb4d6,#8ab3d5,#8bb3d6,#8fb6d7,#94bad9,#9bbedb,#a1c3dd,#a6c6df,#aac8e1,#acc9e1,#adc9e2,#acc9e1,#abc8e1,#abc8e1,#aecae2,#b4cde4,#bad0e6,#bcd2e7,#b8cfe6,#abc8e1,#96bbd9,#80abd2,#70a0cc,#6b9bc9,#6c9bc9,#6e9dca,#6d9dca,#6897c7,#5f8dc1,#5482ba,#4976b3,#426dac,#3e67a8,#3b64a6,#3a63a5,#3b63a6,#3c65a7,#3f69aa,#436dad,#4773b1,#4c79b5,#517fb8,#5683bb,#5987bd,#5a89be,#5c8abf,#5d8cc0,#5f8ec1,#6291c3,#6594c5,#6696c6,#6696c6,#6594c5,#6291c3,#5f8ec1,#5c8bbf,#5a88be,#5785bc,#5684bb,#5583ba,#5482ba,#5582ba,#5583ba,#5583bb)"></div><div style="height:6px;top:335px;background:linear-gradient(90deg,#21356e,#20346c,#20346c,#20346c,#20346c,#243c77,#31569c,#4d7ab5,#6b9bc9,#88b1d5,#9abddb,#a2c3de,#a5c5df,#a7c6df,#aac8e1,#aecae2,#b2cce4,#b4cde4,#b5cee5,#b5cde5,#b3cde4,#b1cbe3,#aecae2,#acc9e1,#a9c7e0,#a7c6e0,#a6c6df,#a6c6df,#a7c6df,#a8c7e0,#abc8e1,#adc9e2,#afcae2,#b0cbe3,#aecae2,#adc9e2,#adc9e2,#afcae3,#b5cde5,#bad1e7,#bdd2e8,#b8cfe6,#abc8e1,#97bbda,#81acd2,#72a1cd,#6d9dca,#6f9fcb,#73a2cd,#75a4ce,#70a0cc,#6897c7,#5e8cc0,#5381b9,#4a77b4,#4470ae,#406aaa,#3d67a8,#3c65a7,#3d66a8,#3e68a9,#416bab,#436ead,#4672b0,#4a76b3,#4d7bb6,#517fb8,#5583ba,#5887bd,#5c8bbf,#608ec1,#6392c4,#6695c5,#6796c6,#6796c6,#6594c5,#6290c3,#5e8dc0,#5a89be,#5785bc,#5583ba,#5380b9,#527fb8,#517fb8,#527fb8,#5280b9,#5280b9)"></div><div style="height:6px;top:340px;background:linear-gradient(90deg,#20346c,#20346c,#20346c,#20346c,#20346c,#20356d,#2b4a8b,#3f68a9,#5987bd,#71a1cc,#89b2d5,#9abddb,#a5c5df,#acc9e1,#b1cbe3,#b4cde4,#b7cfe5,#b9d0e6,#bad0e7,#bbd1e7,#bcd1e7,#bbd1e7,#bad0e7,#b8cfe6,#b6cee5,#b4cde4,#b1cce3,#b0cbe3,#aecae2,#aecae2,#afcbe3,#b1cbe3,#b2cce4,#b2cce4,#b1cce3,#b0cbe3,#afcbe3,#b2cce3,#b7cee5,#bcd1e7,#bdd2e8,#b9d0e6,#abc8e1,#97bcda,#82add2,#72a2cd,#6e9dca,#6f9fcb,#73a2cd,#76a4ce,#74a3cd,#6e9ecb,#6796c6,#5f8ec1,#5886bc,#517eb8,#4b78b4,#4772b0,#446fae,#426dac,#416cac,#416bab,#416bab,#416bab,#426cac,#446fae,#4875b2,#4e7cb6,#5583bb,#5c8abf,#6190c2,#6594c5,#6796c6,#6797c6,#6696c6,#6493c4,#6190c2,#5d8cc0,#5988bd,#5684bb,#5280b9,#507db7,#4e7cb6,#4e7bb6,#4e7cb6,#4f7cb6,#4f7db7)"></div><div style="height:6px;top:345px;background:linear-gradient(90deg,#20346c,#20346c,#20346c,#20346c,#20346c,#20346c,#274180,#32579d,#4672b0,#5d8cc0,#74a3cd,#8fb6d7,#a4c4de,#b0cbe3,#b6cee5,#b9d0e6,#b9d0e6,#b9d0e6,#bad0e6,#bbd1e7,#bcd1e7,#bcd2e7,#bcd1e7,#bbd1e7,#bad0e6,#b8cfe6,#b6cee5,#b5cee5,#b4cde4,#b3cde4,#b4cde4,#b5cde5,#b5cee5,#b5cee5,#b4cde4,#b3cce4,#b3cce4,#b5cde5,#b9d0e6,#bdd2e8,#bed2e8,#b8cfe6,#abc8e1,#98bcda,#82add2,#72a2cd,#6c9cca,#6d9cca,#6f9fcc,#73a2cd,#75a3ce,#73a2cd,#70a0cc,#6b9bc9,#6695c6,#608fc2,#5a88be,#5482ba,#4f7db7,#4b78b4,#4773b1,#446fae,#406aaa,#3d66a8,#3b64a6,#3c65a7,#416cab,#4975b2,#5380b9,#5c8abf,#6391c3,#6695c6,#6897c7,#6797c6,#6695c6,#6493c4,#6190c2,#5e8cc0,#5988bd,#5583ba,#517eb8,#4e7bb6,#4c79b4,#4b78b4,#4b78b4,#4c79b5,#4d7ab5)"></div><div style="height:6px;top:350px;background:linear-gradient(90deg,#20346c,#20346c,#20346c,#20346c,#20346c,#20356d,#243c79,#2a498a,#355ca1,#4a76b3,#6392c4,#82add2,#a1c3dd,#b3cce4,#bbd1e7,#bcd1e7,#bad0e7,#b8cfe6,#b7cfe6,#b8cfe6,#b9d0e6,#bad0e6,#bad0e7,#bad0e6,#b9d0e6,#b8cfe6,#b8cfe6,#b8cfe6,#b7cfe6,#b7cfe6,#b8cfe6,#b8cfe6,#b8cfe6,#b8cfe6,#b7cee5,#b6cee5,#b6cee5,#b8cfe6,#bbd1e7,#bed3e8,#bed3e8,#b8cfe6,#abc8e1,#97bcda,#82add2,#71a1cc,#6b9ac9,#6a99c8,#6c9cca,#70a0cc,#75a3ce,#78a6cf,#79a7cf,#78a6cf,#74a3ce,#6f9fcb,#6998c7,#6392c3,#5d8bbf,#5784bb,#507eb7,#4a76b3,#436ead,#3d66a8,#3961a5,#3961a4,#3e67a8,#4672b0,#517eb8,#5b8abf,#6391c3,#6696c6,#6897c7,#6796c6,#6695c6,#6493c4,#6291c3,#5f8dc1,#5a89be,#5583bb,#507eb7,#4c7ab5,#4a77b3,#4a76b3,#4a77b3,#4b78b4,#4b78b4)"></div><div style="height:6px;top:355px;background:linear-gradient(90deg,#21366f,#21366f,#21366f,#21366f,#21366f,#213770,#223973,#253e7c,#2b4b8d,#3b63a6,#5684bb,#77a5cf,#9ec0dc,#b5cde5,#bed3e8,#bfd3e8,#bcd1e7,#b8cfe6,#b6cee5,#b6cee5,#b7cfe5,#b8cfe6,#b8cfe6,#b9d0e6,#b9d0e6,#b9d0e6,#b9d0e6,#b9d0e6,#bad0e6,#bad0e7,#bad1e7,#bad1e7,#bad0e7,#bad0e6,#b9d0e6,#b8cfe6,#b9d0e6,#bad0e7,#bdd2e8,#c0d3e9,#bfd3e8,#b8cfe6,#aac8e1,#96bbd9,#80abd2,#6f9fcb,#6999c8,#6898c7,#6b9bc9,#70a0cc,#77a5ce,#7da9d1,#81acd2,#83add3,#81acd2,#7da9d1,#77a5ce,#6f9fcb,#6998c7,#6291c3,#5b89be,#5381b9,#4b78b4,#446fae,#3f68a9,#3d66a8,#406aaa,#4773b0,#507eb7,#5988bd,#608fc2,#6493c4,#6695c6,#6796c6,#6696c6,#6595c5,#6493c4,#608fc2,#5c8bbf,#5785bc,#517fb8,#4d7ab5,#4b77b4,#4a77b3,#4a77b3,#4b78b4,#4c79b5)"></div><div style="height:6px;top:360px;background:linear-gradient(90deg,#223973,#233974,#233a75,#233a75,#233a74,#223872,#21366f,#223771,#263f7d,#30559a,#4b79b4,#6f9fcb,#9abedb,#b5cee5,#c0d4e9,#c2d4e9,#bed2e8,#b9d0e6,#b7cfe6,#b7cfe6,#b8cfe6,#b9d0e6,#bad0e6,#bad0e7,#bad0e7,#bad0e7,#bbd1e7,#bbd1e7,#bcd1e7,#bcd1e7,#bcd2e7,#bcd2e7,#bcd1e7,#bbd1e7,#bbd1e7,#bad0e7,#bbd1e7,#bcd2e7,#bfd3e9,#c1d4e9,#c0d3e9,#b8cfe6,#a9c7e0,#93b9d9,#7da9d1,#6d9dca,#6897c7,#6898c7,#6d9cca,#73a2cd,#7ba8d0,#82acd2,#86b0d4,#89b2d5,#89b1d5,#86afd4,#81acd2,#7ba8d0,#74a3cd,#6d9dca,#6696c6,#5f8ec1,#5785bc,#507eb7,#4a77b3,#4773b1,#4874b1,#4b78b4,#517eb8,#5785bc,#5c8bbf,#618fc2,#6493c4,#6695c6,#6797c6,#6796c6,#6695c5,#6392c4,#5f8dc1,#5987bd,#5482ba,#4f7db7,#4d7ab5,#4c79b5,#4c79b5,#4d7ab5,#4e7bb6)"></div><div style="height:6px;top:365px;background:linear-gradient(90deg,#233a75,#243b77,#243d79,#253d7a,#243c78,#223973,#20346c,#20346c,#223973,#2c4b8e,#4570af,#6a99c8,#98bcda,#b6cee5,#c2d5ea,#c4d6ea,#c0d3e9,#bbd1e7,#b9d0e6,#b9d0e6,#bad1e7,#bcd1e7,#bcd1e7,#bcd2e7,#bcd2e7,#bcd2e7,#bdd2e7,#bdd2e8,#bdd2e8,#bdd2e8,#bed2e8,#bed2e8,#bdd2e8,#bdd2e8,#bcd2e7,#bcd1e7,#bcd1e7,#bed2e8,#c1d4e9,#c3d5ea,#c1d4e9,#b8cfe6,#a8c7e0,#91b7d8,#7aa7cf,#6b9ac9,#6796c6,#6998c7,#6f9fcb,#78a6cf,#80abd2,#85afd4,#89b2d5,#8bb3d6,#8bb3d6,#8ab2d5,#87b0d4,#83aed3,#7eaad1,#78a6cf,#71a1cd,#6c9bc9,#6695c5,#608ec1,#5a88be,#5684bb,#5380b9,#527fb8,#5280b9,#5482ba,#5886bc,#5d8bbf,#6190c3,#6595c5,#6897c7,#6998c7,#6897c7,#6695c5,#6190c2,#5c8abf,#5785bc,#5280b9,#507db7,#4f7cb6,#4f7db7,#507eb7,#517eb8)"></div><div style="height:6px;top:370px;background:linear-gradient(90deg,#243b77,#243c79,#253e7b,#253f7c,#253e7a,#233974,#20346c,#20346c,#20356d,#294687,#416cac,#6897c7,#97bbda,#b6cee5,#c4d5ea,#c6d6eb,#c2d4e9,#bdd2e8,#bcd1e7,#bcd1e7,#bdd2e8,#bed3e8,#bfd3e8,#bfd3e8,#bfd3e8,#bed3e8,#bed3e8,#bed3e8,#bed3e8,#bfd3e8,#bfd3e8,#bfd3e8,#bfd3e8,#bed3e8,#bed2e8,#bdd2e8,#bdd2e8,#bfd3e8,#c2d4e9,#c3d5ea,#c1d4e9,#b8cfe6,#a7c6df,#8eb5d7,#76a4ce,#6897c7,#6594c5,#6998c7,#70a0cc,#7ba8d0,#83add3,#88b1d4,#8ab2d5,#8ab3d5,#8bb3d5,#8bb3d5,#8ab2d5,#88b1d5,#86afd4,#82add2,#7eaad1,#79a6cf,#73a2cd,#6e9ecb,#6998c7,#6493c4,#5e8dc0,#5987bd,#5583bb,#5482ba,#5683bb,#5a88be,#608ec1,#6594c5,#6998c7,#6a9ac8,#6a99c8,#6897c7,#6493c4,#5e8dc1,#5987bd,#5583ba,#5280b9,#527fb8,#5280b9,#5381b9,#5481ba)"></div><div style="height:6px;top:375px;background:linear-gradient(90deg,#243c78,#253d7a,#253f7c,#26407e,#253e7b,#233974,#20346c,#20346c,#20346c,#294586,#416bab,#6897c7,#98bcda,#b8cfe6,#c5d6eb,#c7d7eb,#c3d5ea,#bed3e8,#bdd2e8,#bdd2e8,#bfd3e8,#c0d4e9,#c1d4e9,#c0d4e9,#c0d3e9,#bfd3e9,#bfd3e9,#bfd3e9,#bfd3e9,#c0d3e9,#c0d4e9,#c0d4e9,#c0d4e9,#c0d3e9,#bfd3e8,#bed2e8,#bed2e8,#bfd3e9,#c2d5ea,#c4d6ea,#c2d4e9,#b8cfe6,#a6c6df,#8bb3d6,#72a2cd,#6594c5,#6392c3,#6797c6,#70a0cc,#7ca8d0,#83aed3,#87b0d4,#88b1d4,#88b1d4,#88b1d5,#89b2d5,#8ab3d5,#8bb3d5,#8ab3d5,#89b1d5,#86b0d4,#83add3,#7fabd1,#7aa7d0,#74a3cd,#6d9dca,#6696c6,#5f8ec1,#5988bd,#5684bb,#5684bb,#5a88be,#608ec1,#6594c5,#6998c7,#6b9ac9,#6b9ac9,#6998c7,#6594c5,#608fc2,#5b89be,#5784bb,#5482ba,#5381b9,#5481ba,#5582ba,#5583bb)"></div><div style="height:6px;top:380px;background:linear-gradient(90deg,#243c78,#253d7a,#253f7c,#26407e,#253e7c,#233a75,#20346c,#20346c,#20356d,#2a4788,#436ead,#6a9ac8,#9cbfdb,#bbd1e7,#c7d7ec,#c8d8ec,#c3d5ea,#bfd3e8,#bdd2e8,#bdd2e8,#bfd3e8,#c1d4e9,#c1d4e9,#c1d4e9,#c0d4e9,#c0d3e9,#c0d3e9,#c0d3e9,#c0d4e9,#c1d4e9,#c1d4e9,#c2d4e9,#c2d4e9,#c1d4e9,#c0d3e9,#bed3e8,#bed3e8,#c0d3e9,#c3d5ea,#c4d6ea,#c2d5ea,#b8cfe6,#a5c5df,#89b2d5,#6f9fcc,#6392c3,#608fc2,#6594c5,#6e9ecb,#79a7cf,#81acd2,#84aed3,#84aed3,#84aed3,#85afd4,#87b0d4,#89b2d5,#8bb3d6,#8cb4d6,#8cb4d6,#8bb3d5,#88b1d5,#85afd3,#80abd2,#7aa7cf,#72a2cd,#6b9bc9,#6493c4,#5e8dc0,#5b89be,#5a88be,#5d8bbf,#6190c2,#6594c5,#6998c7,#6b9ac8,#6b9ac9,#6998c7,#6595c5,#618fc2,#5b8abf,#5785bc,#5482ba,#5481ba,#5482ba,#5583ba,#5684bb)"></div><div style="height:6px;top:385px;background:linear-gradient(90deg,#243c78,#253d7a,#253f7c,#263f7d,#253e7b,#233a75,#20346c,#20346c,#223771,#2b4b8d,#4672b0,#6e9ecb,#a0c2dd,#bdd2e8,#c9d8ec,#c9d9ec,#c4d5ea,#bed3e8,#bcd2e7,#bdd2e8,#bfd3e8,#c0d4e9,#c1d4e9,#c0d4e9,#c0d3e9,#c0d3e9,#c0d3e9,#c0d4e9,#c1d4e9,#c2d5ea,#c3d5ea,#c3d5ea,#c3d5ea,#c2d5ea,#c0d4e9,#bfd3e8,#bed3e8,#bfd3e9,#c2d5ea,#c5d6ea,#c2d5ea,#b8cfe6,#a5c5df,#88b1d4,#6e9dca,#608fc2,#5d8cc0,#6291c3,#6b9ac9,#75a4ce,#7ca9d0,#80abd2,#80acd2,#81acd2,#82add2,#85afd3,#88b1d4,#8bb3d5,#8cb4d6,#8db5d6,#8db4d6,#8ab3d5,#87b0d4,#81acd2,#7ba8d0,#73a2cd,#6d9dca,#6897c7,#6392c4,#608fc2,#5f8ec1,#618fc2,#6392c4,#6695c5,#6898c7,#6a99c8,#6a99c8,#6998c7,#6594c5,#608fc2,#5b8abf,#5785bc,#5482ba,#5381b9,#5481ba,#5582ba,#5583bb)"></div><div style="height:6px;top:390px;background:linear-gradient(90deg,#243c78,#243d79,#253e7b,#253f7c,#253e7b,#233a75,#21356e,#20346c,#233a75,#2d4f92,#4a76b3,#72a1cd,#a4c4de,#c0d3e9,#cbd9ed,#cad9ed,#c4d5ea,#bed2e8,#bcd1e7,#bcd1e7,#bed2e8,#c0d3e9,#c0d4e9,#c0d3e9,#bfd3e9,#bfd3e8,#c0d3e9,#c1d4e9,#c2d5ea,#c3d5ea,#c4d6ea,#c4d6ea,#c4d6ea,#c3d5ea,#c1d4e9,#bfd3e8,#bed2e8,#bfd3e8,#c2d5ea,#c5d6ea,#c2d5ea,#b8cfe6,#a4c5de,#87b0d4,#6c9cca,#5e8dc1,#5b89be,#5f8ec1,#6897c7,#71a1cc,#78a6cf,#7ca8d0,#7da9d1,#7eaad1,#80abd2,#83add3,#86b0d4,#89b2d5,#8cb4d6,#8db5d6,#8db4d6,#8bb3d5,#86b0d4,#80abd2,#79a6cf,#72a2cd,#6d9dca,#6a99c8,#6796c6,#6594c5,#6493c4,#6494c5,#6594c5,#6695c6,#6897c7,#6998c7,#6999c8,#6897c7,#6594c5,#608fc2,#5b89be,#5684bb,#5381b9,#5380b9,#5381b9,#5482ba,#5583ba)"></div><div style="height:6px;top:395px;background:linear-gradient(90deg,#243c77,#243d79,#253e7b,#253e7c,#253d7a,#233a75,#21366e,#20356d,#243c77,#2f5195,#4c79b4,#75a3ce,#a6c5df,#c1d4e9,#ccdaed,#cad9ed,#c3d5ea,#bdd2e8,#bbd1e7,#bcd1e7,#bdd2e8,#bfd3e8,#c0d3e9,#bfd3e9,#bfd3e8,#bfd3e8,#c0d3e9,#c1d4e9,#c2d5ea,#c4d5ea,#c5d6eb,#c5d6eb,#c5d6ea,#c3d5ea,#c1d4e9,#bfd3e8,#bed2e8,#bfd3e8,#c2d5ea,#c5d6ea,#c2d5ea,#b8cfe6,#a4c5de,#86b0d4,#6c9bc9,#5d8cc0,#5988bd,#5e8cc0,#6695c6,#6f9fcb,#76a4ce,#79a7cf,#7ba8d0,#7ca8d0,#7eaad1,#81acd2,#85afd3,#89b1d5,#8bb3d6,#8db4d6,#8db4d6,#8ab2d5,#85afd4,#7faad1,#78a5cf,#71a1cc,#6d9dca,#6b9ac9,#6999c8,#6898c7,#6897c7,#6796c6,#6696c6,#6796c6,#6797c6,#6898c7,#6998c7,#6897c7,#6594c5,#608ec1,#5a89be,#5684bb,#5380b9,#5280b9,#5380b9,#5481ba,#5482ba)"></div><div style="height:6px;top:400px;background:linear-gradient(90deg,#243c77,#243c79,#253e7b,#253e7b,#253d7a,#233a75,#21366f,#21356e,#243c78,#2f5296,#4c79b5,#75a4ce,#a6c6df,#c2d5e9,#ccdaed,#cbd9ed,#c3d5ea,#bdd2e8,#bbd1e7,#bbd1e7,#bdd2e8,#bfd3e8,#bfd3e9,#bfd3e8,#bfd3e8,#bfd3e8,#c0d3e9,#c1d4e9,#c2d5ea,#c4d6ea,#c5d6eb,#c5d6eb,#c5d6eb,#c3d5ea,#c1d4e9,#bfd3e8,#bed2e8,#bfd3e8,#c2d5ea,#c5d6ea,#c2d5ea,#b8cfe6,#a4c5de,#86b0d4,#6b9bc9,#5d8bc0,#5987bd,#5d8cc0,#6695c5,#6e9ecb,#75a3ce,#79a6cf,#7aa7d0,#7ba8d0,#7eaad1,#81acd2,#85afd3,#88b1d5,#8bb3d6,#8db4d6,#8db4d6,#8ab2d5,#85afd3,#7eaad1,#77a5cf,#71a1cc,#6d9dca,#6b9bc9,#6a9ac8,#6999c8,#6898c7,#6897c7,#6796c6,#6796c6,#6796c6,#6897c7,#6898c7,#6897c6,#6494c5,#608ec1,#5a89be,#5683bb,#5380b9,#527fb8,#5280b9,#5381b9,#5482ba)"></div><div style="height:6px;top:405px;background:linear-gradient(90deg,#243c77,#243d79,#253e7b,#253e7c,#253d7a,#233a75,#21366f,#20356d,#243c78,#2f5195,#4c79b5,#75a3ce,#a6c6df,#c2d4e9,#ccdaed,#cad9ed,#c3d5ea,#bdd2e8,#bbd1e7,#bcd1e7,#bdd2e8,#bfd3e8,#bfd3e9,#bfd3e8,#bfd3e8,#bfd3e8,#c0d3e9,#c1d4e9,#c2d5ea,#c4d6ea,#c5d6eb,#c5d6eb,#c5d6eb,#c3d5ea,#c1d4e9,#bfd3e8,#bed2e8,#bfd3e8,#c2d5ea,#c5d6ea,#c2d5ea,#b8cfe6,#a4c5de,#86b0d4,#6b9bc9,#5d8cc0,#5987bd,#5d8cc0,#6695c5,#6e9ecb,#75a4ce,#79a6cf,#7aa7d0,#7ca8d0,#7eaad1,#81acd2,#85afd3,#89b1d5,#8bb3d6,#8db4d6,#8db4d6,#8ab2d5,#85afd4,#7faad1,#78a5cf,#71a1cc,#6d9dca,#6b9bc9,#6a99c8,#6998c7,#6897c7,#6796c6,#6796c6,#6796c6,#6797c6,#6898c7,#6998c7,#6897c7,#6594c5,#608ec1,#5a89be,#5684bb,#5380b9,#5280b9,#5380b9,#5481ba,#5482ba)"></div><div style="height:6px;top:410px;background:linear-gradient(90deg,#243c77,#243d79,#253e7b,#253f7c,#253d7a,#233a75,#21366e,#20346d,#243b77,#2e5194,#4b78b4,#74a3cd,#a5c5df,#c1d4e9,#ccdaed,#cad9ed,#c3d5ea,#bdd2e8,#bbd1e7,#bcd1e7,#bed2e8,#bfd3e8,#c0d3e9,#bfd3e9,#bfd3e8,#bfd3e8,#c0d3e9,#c1d4e9,#c2d5ea,#c4d5ea,#c4d6ea,#c5d6eb,#c4d6ea,#c3d5ea,#c1d4e9,#bfd3e8,#bed2e8,#bfd3e8,#c2d5ea,#c5d6ea,#c2d5ea,#b8cfe6,#a4c5de,#86b0d4,#6c9bc9,#5e8cc0,#5a88be,#5e8dc0,#6796c6,#6f9fcb,#76a4ce,#7aa7cf,#7ba8d0,#7ca9d0,#7eaad1,#82acd2,#85afd4,#89b2d5,#8cb3d6,#8db4d6,#8db4d6,#8ab3d5,#86afd4,#7fabd1,#78a6cf,#71a1cd,#6d9dca,#6b9ac8,#6998c7,#6897c7,#6796c6,#6695c6,#6695c6,#6696c6,#6797c6,#6898c7,#6998c7,#6897c7,#6594c5,#608fc2,#5a89be,#5684bb,#5381b9,#5280b9,#5380b9,#5481ba,#5482ba)"></div><div style="height:6px;top:415px;background:linear-gradient(90deg,#243c77,#243d79,#253e7b,#253f7c,#253e7a,#233a75,#21356e,#20346c,#233b76,#2e5093,#4b77b4,#73a2cd,#a5c5df,#c1d4e9,#cbdaed,#cad9ed,#c4d5ea,#bdd2e8,#bbd1e7,#bcd1e7,#bed2e8,#bfd3e9,#c0d3e9,#bfd3e9,#bfd3e8,#bfd3e8,#c0d3e9,#c1d4e9,#c2d5ea,#c3d5ea,#c4d6ea,#c5d6eb,#c4d6ea,#c3d5ea,#c1d4e9,#bfd3e8,#bed2e8,#bfd3e8,#c2d5ea,#c5d6ea,#c2d5ea,#b8cfe6,#a4c5de,#87b0d4,#6c9cc9,#5e8cc0,#5a88be,#5f8dc1,#6796c6,#70a0cc,#77a5ce,#7ba7d0,#7ca8d0,#7da9d1,#7faad1,#82add2,#86afd4,#89b2d5,#8cb4d6,#8db4d6,#8db4d6,#8ab3d5,#86afd4,#80abd1,#78a6cf,#72a1cd,#6d9dca,#6a9ac8,#6898c7,#6796c6,#6695c5,#6695c5,#6695c5,#6696c6,#6797c6,#6998c7,#6998c7,#6897c7,#6594c5,#608fc2,#5b89be,#5684bb,#5381b9,#5280b9,#5380b9,#5482ba,#5582ba)"></div></div></div>
<svg width="1300" height="1134" viewBox="0 0 1300 1134">
<defs><linearGradient id="cbv" x1="0" y1="0" x2="0" y2="1"><stop offset="0.000" stop-color="#f5e632"/><stop offset="0.050" stop-color="#e4e437"/><stop offset="0.100" stop-color="#cadf43"/><stop offset="0.150" stop-color="#b0da50"/><stop offset="0.200" stop-color="#9ed25a"/><stop offset="0.250" stop-color="#8ccb64"/><stop offset="0.300" stop-color="#7cc071"/><stop offset="0.350" stop-color="#6db67e"/><stop offset="0.400" stop-color="#64aa82"/><stop offset="0.450" stop-color="#5c9d87"/><stop offset="0.500" stop-color="#56908a"/><stop offset="0.550" stop-color="#50838c"/><stop offset="0.600" stop-color="#4c788d"/><stop offset="0.650" stop-color="#486e8e"/><stop offset="0.700" stop-color="#46628c"/><stop offset="0.750" stop-color="#455589"/><stop offset="0.800" stop-color="#464382"/><stop offset="0.850" stop-color="#47327a"/><stop offset="0.900" stop-color="#46236f"/><stop offset="0.950" stop-color="#461464"/><stop offset="1.000" stop-color="#440154"/></linearGradient><linearGradient id="cbb" x1="0" y1="0" x2="0" y2="1"><stop offset="0.000" stop-color="#20346c"/><stop offset="0.050" stop-color="#243c78"/><stop offset="0.100" stop-color="#284484"/><stop offset="0.150" stop-color="#2d4e91"/><stop offset="0.200" stop-color="#32589e"/><stop offset="0.250" stop-color="#3a63a5"/><stop offset="0.300" stop-color="#436dad"/><stop offset="0.350" stop-color="#4b78b4"/><stop offset="0.400" stop-color="#5482ba"/><stop offset="0.450" stop-color="#5e8cc0"/><stop offset="0.500" stop-color="#6796c6"/><stop offset="0.550" stop-color="#70a0cc"/><stop offset="0.600" stop-color="#7da9d0"/><stop offset="0.650" stop-color="#8ab2d5"/><stop offset="0.700" stop-color="#96bbda"/><stop offset="0.750" stop-color="#a3c4de"/><stop offset="0.800" stop-color="#aecae2"/><stop offset="0.850" stop-color="#b8d0e6"/><stop offset="0.900" stop-color="#c3d5ea"/><stop offset="0.950" stop-color="#cedbee"/><stop offset="1.000" stop-color="#d2def0"/></linearGradient></defs>
<defs><filter id="rb2" filterUnits="userSpaceOnUse" x="100" y="60" width="440" height="430"><feGaussianBlur stdDeviation="2"/></filter><filter id="rb3" filterUnits="userSpaceOnUse" x="100" y="60" width="440" height="430"><feGaussianBlur stdDeviation="3"/></filter><filter id="rb4" filterUnits="userSpaceOnUse" x="100" y="60" width="440" height="430"><feGaussianBlur stdDeviation="4"/></filter><filter id="rb5" filterUnits="userSpaceOnUse" x="100" y="60" width="440" height="430"><feGaussianBlur stdDeviation="5"/></filter><clipPath id="c1"><rect x="117.8" y="73.6" width="402.4" height="402.4"/></clipPath></defs><g clip-path="url(#c1)"><path d="M223.4,125.7C219.8,128.1 207.9,134.9 201.9,140.0C195.9,145.1 191.8,149.5 187.6,156.1C183.4,162.7 179.7,170.7 176.8,179.4C174.0,188.0 172.1,198.5 170.4,208.0C168.7,217.5 167.7,227.1 166.8,236.6C166.0,246.2 165.2,256.9 165.4,265.3C165.6,273.6 165.7,280.2 167.9,286.7C170.1,293.3 176.8,301.7 178.6,304.6" fill="none" stroke="#cadf43" stroke-width="11" stroke-linecap="round" filter="url(#rb3)"/><path d="M178.6,304.6C181.9,307.0 190.9,316.0 198.3,319.0C205.8,321.9 214.4,323.1 223.4,322.5C232.3,321.9 243.7,319.0 252.0,315.4C260.4,311.8 269.9,303.4 273.5,301.1" fill="none" stroke="#83c56c" stroke-width="9" stroke-linecap="round" filter="url(#rb3)"/><path d="M223.4,125.7C227.0,125.4 237.7,122.7 244.8,123.9C252.0,125.1 259.8,127.8 266.3,132.8C272.9,137.9 279.4,145.4 284.2,154.3C289.0,163.3 292.6,175.2 295.0,186.5C297.3,197.9 298.5,211.6 298.5,222.3C298.5,233.1 296.7,241.4 295.0,251.0C293.2,260.5 289.0,274.8 287.8,279.6" fill="none" stroke="#9ed25a" stroke-width="8" stroke-linecap="round" filter="url(#rb3)"/><path d="M169.7,186.5C171.2,182.4 174.8,168.6 178.6,161.5C182.5,154.3 187.3,149.0 193.0,143.6C198.6,138.2 205.8,132.8 212.6,129.3C219.5,125.7 230.5,123.3 234.1,122.1" fill="none" stroke="#cadf43" stroke-width="13" stroke-linecap="round" filter="url(#rb3)"/><path d="M119.6,140.0C123.8,139.7 136.3,137.0 144.6,138.2C153.0,139.4 165.5,145.7 169.7,147.2" fill="none" stroke="#68ae81" stroke-width="10" stroke-linecap="round" filter="url(#rb3)"/><path d="M141.1,161.5C141.4,164.5 140.5,174.6 142.8,179.4C145.2,184.1 153.3,188.3 155.4,190.1" fill="none" stroke="#64aa82" stroke-width="9" stroke-linecap="round" filter="url(#rb3)"/><path d="M173.3,344.0C174.2,347.9 174.2,361.0 178.6,367.3C183.1,373.5 192.1,379.5 200.1,381.6C208.2,383.7 218.3,383.4 227.0,379.8C235.6,376.2 244.3,367.0 252.0,360.1C259.8,353.3 266.3,344.6 273.5,338.6C280.6,332.7 287.8,329.1 295.0,324.3C302.1,319.6 312.9,312.4 316.4,310.0" fill="none" stroke="#cadf43" stroke-width="11" stroke-linecap="round" filter="url(#rb3)"/><path d="M117.8,387.0C119.3,390.5 123.5,400.7 126.7,408.4C130.0,416.2 135.0,425.1 137.5,433.5C140.0,441.8 140.9,450.8 141.8,458.5C142.7,466.3 142.7,476.4 142.8,480.0" fill="none" stroke="#cadf43" stroke-width="14" stroke-linecap="round" filter="url(#rb4)"/><path d="M116.0,93.5C118.4,90.5 126.7,79.8 130.3,75.6C133.9,71.4 136.3,69.6 137.5,68.4" fill="none" stroke="#cadf43" stroke-width="12" stroke-linecap="round" filter="url(#rb3)"/><path d="M319.0,220.7C322.6,218.9 334.0,213.5 340.6,209.9C347.2,206.3 352.3,198.9 358.6,199.2C364.9,199.5 371.5,210.8 378.4,211.7C385.3,212.6 393.1,207.2 399.9,204.5C406.8,201.8 415.5,198.6 419.7,195.6C423.9,192.6 424.2,188.1 425.1,186.6" fill="none" stroke="#76bc76" stroke-width="8" stroke-linecap="round" filter="url(#rb3)"/><path d="M378.4,211.7C376.0,215.0 367.3,225.8 364.0,231.5C360.7,237.2 360.1,240.5 358.6,245.9C357.1,251.3 356.5,257.9 355.0,263.9C353.5,269.9 351.4,275.9 349.6,281.9C347.8,287.9 346.3,292.9 344.2,299.9C342.1,306.9 338.2,320.0 337.0,324.0" fill="none" stroke="#76bc76" stroke-width="8" stroke-linecap="round" filter="url(#rb3)"/><path d="M425.1,188.4C426.9,189.9 432.0,194.4 435.9,197.4C439.8,200.4 444.6,202.4 448.5,206.3C452.4,210.2 456.3,215.6 459.3,220.7C462.3,225.8 464.4,232.7 466.5,236.9C468.6,241.1 468.0,246.2 471.9,245.9C475.8,245.6 485.1,238.1 489.9,235.1C494.7,232.1 495.2,229.7 500.7,227.9C506.2,226.1 519.3,224.9 523.0,224.3" fill="none" stroke="#70b87b" stroke-width="8" stroke-linecap="round" filter="url(#rb3)"/><path d="M491.7,231.5C493.2,230.9 497.7,228.8 500.7,227.9C503.7,227.0 508.2,226.4 509.7,226.1" fill="none" stroke="#b0da50" stroke-width="9" stroke-linecap="round" filter="url(#rb3)"/><path d="M471.9,245.9C470.7,250.4 466.8,265.4 464.7,272.9C462.6,280.4 461.4,282.4 459.3,290.9C457.2,299.4 453.3,318.5 452.1,324.0" fill="none" stroke="#70b87b" stroke-width="8" stroke-linecap="round" filter="url(#rb3)"/><path d="M344.2,130.8C343.9,135.0 343.3,147.3 342.4,156.0C341.5,164.7 340.0,176.4 338.8,183.0C337.6,189.6 335.8,193.5 335.2,195.6" fill="none" stroke="#47367c" stroke-width="15.6" stroke-linecap="round" filter="url(#rb5)"/><path d="M430.5,170.4C432.9,169.5 440.1,166.5 444.9,165.0C449.7,163.5 456.9,162.0 459.3,161.4" fill="none" stroke="#472f78" stroke-width="15.6" stroke-linecap="round" filter="url(#rb5)"/><path d="M473.7,188.4C473.4,192.0 471.6,202.7 471.9,209.9C472.2,217.1 474.9,227.9 475.5,231.5" fill="none" stroke="#47367c" stroke-width="13" stroke-linecap="round" filter="url(#rb5)"/><path d="M322.6,281.9C324.4,278.9 329.8,269.9 333.4,263.9C337.0,257.9 342.4,248.9 344.2,245.9" fill="none" stroke="#47367c" stroke-width="15.6" stroke-linecap="round" filter="url(#rb5)"/><path d="M498.9,156.0C500.7,153.6 505.7,146.1 509.7,141.6C513.7,137.1 520.8,131.1 523.0,129.0" fill="none" stroke="#47367c" stroke-width="15.6" stroke-linecap="round" filter="url(#rb5)"/><path d="M336.9,324.0C335.7,327.3 330.3,338.3 329.7,344.0C329.1,349.7 330.3,353.0 333.3,358.3C336.3,363.7 341.1,370.9 347.6,376.2C354.2,381.6 363.7,386.4 372.7,390.5C381.6,394.7 392.4,397.1 401.3,401.3C410.3,405.5 419.8,410.2 426.4,415.6C432.9,421.0 435.9,427.5 440.7,433.5C445.5,439.5 452.6,448.4 455.0,451.4" fill="none" stroke="#6bb47f" stroke-width="8" stroke-linecap="round" filter="url(#rb3)"/><path d="M519.4,379.8C514.7,382.2 499.1,390.5 490.8,394.1C482.4,397.7 476.5,400.4 469.3,401.3C462.2,402.2 451.4,399.8 447.8,399.5" fill="none" stroke="#64aa82" stroke-width="8" stroke-linecap="round" filter="url(#rb3)"/><path d="M340.5,390.5C344.1,394.1 353.6,405.8 361.9,412.0C370.3,418.3 381.0,423.6 390.6,428.1C400.1,432.6 411.5,435.6 419.2,438.9C427.0,442.1 434.1,446.3 437.1,447.8" fill="none" stroke="#472973" stroke-width="18.2" stroke-linecap="round" filter="url(#rb5)"/><path d="M444.3,319.0C446.1,324.9 450.2,345.2 455.0,354.7C459.8,364.3 465.7,371.5 472.9,376.2C480.1,381.0 493.8,382.2 498.0,383.4" fill="none" stroke="#472f78" stroke-width="15.6" stroke-linecap="round" filter="url(#rb5)"/></g><defs><clipPath id="c2b"><rect x="763" y="73.6" width="402.4" height="402.4"/></clipPath><filter id="sb3" filterUnits="userSpaceOnUse" x="740" y="60" width="440" height="430"><feGaussianBlur stdDeviation="3"/></filter><filter id="sb5" filterUnits="userSpaceOnUse" x="740" y="60" width="440" height="430"><feGaussianBlur stdDeviation="5"/></filter></defs><g clip-path="url(#c2b)"><path d="M968.0,351.2C973.1,354.7 987.7,365.5 998.8,372.6C1009.9,379.8 1022.7,387.6 1034.6,394.1C1046.5,400.7 1061.3,406.9 1070.4,412.0C1079.4,417.1 1081.8,420.1 1089.0,424.9C1096.1,429.7 1109.3,438.0 1113.3,440.6" fill="none" stroke="#2a4889" stroke-width="12" stroke-linecap="round" filter="url(#sb5)"/><path d="M1016.7,197.3C1015.2,203.2 1009.5,220.5 1007.7,233.1C1005.9,245.6 1005.1,258.7 1005.9,272.4C1006.8,286.1 1009.5,303.4 1013.1,315.4C1016.7,327.3 1025.0,339.2 1027.4,344.0" fill="none" stroke="#32589e" stroke-width="12" stroke-linecap="round" filter="url(#sb5)"/><path d="M1113.3,240.2C1112.1,245.6 1108.0,261.7 1106.2,272.4C1104.4,283.2 1102.6,292.7 1102.6,304.6C1102.6,316.6 1104.4,332.7 1106.2,344.0C1108.0,355.3 1112.1,367.9 1113.3,372.6" fill="none" stroke="#355ca1" stroke-width="10" stroke-linecap="round" filter="url(#sb5)"/><path d="M1052.5,161.5C1056.7,164.5 1069.8,174.6 1077.5,179.4C1085.3,184.1 1095.4,188.3 1099.0,190.1" fill="none" stroke="#3a63a5" stroke-width="10" stroke-linecap="round" filter="url(#sb5)"/><path d="M984.5,114.9C985.1,119.7 988.1,134.0 988.1,143.6C988.1,153.1 985.1,167.4 984.5,172.2" fill="none" stroke="#3a63a5" stroke-width="10" stroke-linecap="round" filter="url(#sb5)"/></g><defs><clipPath id="c2"><rect x="762" y="73.6" width="404" height="402.4"/></clipPath></defs><g clip-path="url(#c2)"><g fill="none" stroke="#fff" stroke-width="2.1" stroke-linecap="round"><path d="M885.1,122.4C881.2,126.6 868.9,139.2 861.7,147.6C854.5,155.9 846.7,165.8 841.9,172.7C837.2,179.6 835.4,181.7 833.0,188.9C830.6,196.1 828.9,206.9 827.6,215.9C826.2,224.9 825.5,232.9 824.9,242.9C824.3,252.9 824.1,270.5 824.0,276.0"/><path d="M850.9,251.9C851.2,247.4 851.5,233.3 852.7,224.9C853.9,216.5 855.4,209.0 858.1,201.5C860.8,194.0 864.7,188.0 868.9,179.9C873.1,171.8 878.5,160.7 883.3,152.9C888.1,145.2 893.2,137.2 897.7,133.2C902.2,129.1 906.7,129.0 910.3,128.7C913.9,128.4 917.5,128.8 919.3,131.4C921.1,133.9 921.7,139.2 921.1,144.0C920.5,148.8 917.5,155.3 915.7,160.1C913.9,164.9 912.4,168.2 910.3,172.7C908.2,177.2 905.2,182.3 903.1,187.1C901.0,191.9 898.9,197.3 897.7,201.5C896.5,205.7 896.2,210.5 895.9,212.3"/><path d="M910.3,128.7C913.9,129.1 925.6,128.2 931.9,131.4C938.2,134.5 944.5,141.0 948.1,147.6C951.7,154.1 952.9,162.5 953.5,170.9C954.1,179.3 953.2,188.9 951.7,197.9C950.2,206.9 946.9,217.4 944.5,224.9C942.1,232.4 939.1,234.4 937.3,242.9C935.5,251.4 934.3,270.5 933.7,276.0"/><path d="M883.3,163.7C884.5,164.3 888.7,165.2 890.5,167.3C892.3,169.4 893.4,171.2 894.1,176.3C894.9,181.4 894.7,191.9 895.0,197.9C895.3,203.9 895.8,209.9 895.9,212.3"/><path d="M919.3,170.9C921.4,170.3 928.0,168.2 931.9,167.3C935.8,166.4 940.9,165.8 942.7,165.5"/><path d="M951.7,194.3C949.9,193.1 944.5,188.9 940.9,187.1C937.3,185.3 934.0,183.5 930.1,183.5C926.2,183.5 921.1,184.7 917.5,187.1C913.9,189.5 910.0,196.1 908.5,197.9"/><path d="M913.9,208.7C915.1,209.9 920.2,212.6 921.1,215.9C922.0,219.2 921.1,224.6 919.3,228.5C917.5,232.4 913.9,236.6 910.3,239.3C906.7,242.0 899.8,243.8 897.7,244.7"/><path d="M939.1,215.9C938.2,214.1 936.4,207.5 933.7,205.1C931.0,202.7 925.9,201.5 922.9,201.5C919.9,201.5 916.9,204.5 915.7,205.1"/><path d="M863.5,246.5C865.0,245.3 870.7,243.5 872.5,239.3C874.3,235.1 874.9,226.7 874.3,221.3C873.7,215.9 871.3,209.9 868.9,206.9C866.5,203.9 862.6,202.1 859.9,203.3C857.2,204.5 854.2,209.0 852.7,214.1C851.2,219.2 850.0,228.2 850.9,233.9C851.8,239.6 856.0,246.2 858.1,248.3C860.2,250.4 862.6,246.8 863.5,246.5"/><path d="M868.9,197.9C870.1,199.4 875.5,203.9 876.1,206.9C876.7,209.9 873.1,214.4 872.5,215.9"/><path d="M876.1,183.5C877.3,185.9 881.8,192.8 883.3,197.9C884.8,203.0 883.9,209.3 885.1,214.1C886.3,218.9 887.2,224.0 890.5,226.7C893.8,229.4 900.7,230.9 904.9,230.3C909.1,229.7 913.9,224.3 915.7,223.1"/><path d="M885.1,235.7C886.0,237.2 887.5,243.8 890.5,244.7C893.5,245.6 899.2,242.9 903.1,241.1C907.0,239.3 912.1,235.1 913.9,233.9"/><path d="M836.6,201.5C838.1,200.0 842.8,194.3 845.5,192.5C848.2,190.7 850.9,189.8 852.7,190.7C854.5,191.6 855.7,196.7 856.3,197.9"/><path d="M868.9,262.7C867.7,262.4 865.6,261.5 861.7,260.9C857.8,260.3 850.3,259.1 845.5,259.1C840.8,259.1 835.1,260.6 833.0,260.9"/><path d="M965.0,239.3C964.0,239.6 961.7,240.2 958.9,241.1C956.1,242.0 951.1,243.2 948.1,244.7C945.1,246.2 942.1,249.2 940.9,250.1"/><path d="M965.0,93.6C962.2,94.2 953.3,96.3 948.1,97.2C942.9,98.1 936.1,98.7 933.7,99.0"/><path d="M933.7,102.6C935.5,103.5 941.5,105.3 944.5,108.0C947.5,110.7 949.6,114.9 951.7,118.8C953.8,122.7 955.9,127.2 957.1,131.4C958.3,135.6 958.6,141.9 958.9,144.0"/><path d="M764.6,108.0C766.4,106.8 771.5,103.8 775.4,100.8C779.3,97.8 785.0,93.6 788.0,90.0C791.0,86.4 792.5,81.0 793.4,79.2"/><path d="M779.0,133.2C779.6,134.4 782.3,138.0 782.6,140.4C782.9,142.8 782.6,144.0 780.8,147.6C779.0,151.2 773.3,159.5 771.8,161.9"/><path d="M788.0,152.9C788.3,155.0 788.0,162.2 789.8,165.5C791.6,168.8 795.8,172.1 798.8,172.7C801.8,173.3 806.3,169.7 807.8,169.1"/><path d="M818.6,167.3C819.8,165.8 823.1,160.7 825.8,158.3C828.5,155.9 832.1,153.5 834.8,152.9C837.5,152.4 840.8,154.4 841.9,154.7"/><path d="M779.0,188.9C779.6,187.4 779.6,181.7 782.6,179.9C785.6,178.1 791.6,177.8 797.0,178.1C802.4,178.4 809.9,178.4 815.0,181.7C820.1,185.0 825.5,195.2 827.6,197.9"/><path d="M789.8,196.1C791.6,195.2 796.7,191.3 800.6,190.7C804.5,190.1 809.9,191.3 813.2,192.5C816.5,193.7 819.2,197.0 820.4,197.9"/><path d="M782.6,210.5C783.8,210.8 786.2,211.7 789.8,212.3C793.4,212.9 799.7,213.5 804.2,214.1C808.7,214.7 814.7,215.6 816.8,215.9"/><path d="M764.6,214.1C767.3,215.0 774.5,217.7 780.8,219.5C787.1,221.3 796.7,222.5 802.4,224.9C808.1,227.3 812.9,232.4 815.0,233.9"/><path d="M764.6,237.5C766.7,237.8 771.8,238.7 777.2,239.3C782.6,239.9 791.3,240.2 797.0,241.1C802.7,242.0 809.0,244.1 811.4,244.7"/><path d="M766.4,251.9C769.4,251.9 777.8,251.0 784.4,251.9C791.0,252.8 800.3,254.3 806.0,257.3C811.7,260.3 816.5,267.8 818.6,269.9"/><path d="M789.8,262.7C788.0,263.3 781.1,264.1 779.0,266.3C776.9,268.5 777.5,274.4 777.2,276.0"/><path d="M829.4,126.0C827.9,125.7 824.6,124.2 820.4,124.2C816.2,124.2 808.7,125.1 804.2,126.0C799.7,126.9 795.2,129.0 793.4,129.6"/><path d="M820.4,140.4C821.3,139.5 823.7,136.5 825.8,135.0C827.9,133.5 830.0,132.6 833.0,131.4C836.0,130.2 841.9,128.4 843.7,127.8"/><path d="M840.2,131.4C841.4,130.8 844.3,129.0 847.3,127.8C850.3,126.6 855.4,123.9 858.1,124.2C860.8,124.5 862.6,128.7 863.5,129.6"/><path d="M968.4,82.8C970.5,84.9 977.1,90.6 981.0,95.4C984.9,100.2 990.0,108.9 991.8,111.6"/><path d="M968.4,126.0C968.7,129.0 969.6,135.0 970.2,144.0C970.8,152.9 972.0,169.4 972.0,179.9C972.0,190.4 970.5,202.4 970.2,206.9"/><path d="M970.2,208.7C972.0,208.7 977.1,210.5 981.0,208.7C984.9,206.9 989.7,201.5 993.6,197.9C997.5,194.3 1000.8,190.1 1004.4,187.1C1008.0,184.1 1012.2,182.6 1015.2,179.9C1018.2,177.2 1021.2,172.4 1022.4,170.9"/><path d="M999.0,131.4C1000.2,134.1 1003.5,142.5 1006.2,147.6C1008.9,152.6 1013.1,157.7 1015.2,161.9C1017.3,166.1 1018.5,168.5 1018.8,172.7C1019.1,176.9 1017.3,184.7 1017.0,187.1"/><path d="M1026.0,152.9C1026.9,155.0 1030.2,161.0 1031.4,165.5C1032.6,170.0 1033.8,176.3 1033.2,179.9C1032.6,183.5 1028.7,185.9 1027.8,187.1"/><path d="M1009.8,214.1C1011.9,213.2 1018.8,209.3 1022.4,208.7C1026.0,208.1 1029.3,209.3 1031.4,210.5C1033.5,211.7 1034.4,215.0 1035.0,215.9"/><path d="M999.0,223.1C1000.8,219.5 1005.6,206.3 1009.8,201.5C1014.0,196.7 1019.4,196.4 1024.2,194.3C1029.0,192.2 1034.4,192.2 1038.6,188.9C1042.8,185.6 1046.3,179.9 1049.3,174.5C1052.3,169.1 1055.6,161.3 1056.5,156.5C1057.4,151.8 1055.0,147.6 1054.7,145.8"/><path d="M1051.1,126.0C1049.9,126.9 1046.9,130.2 1043.9,131.4C1041.0,132.6 1037.7,133.2 1033.2,133.2C1028.7,133.2 1021.5,132.6 1017.0,131.4C1012.5,130.2 1008.0,126.9 1006.2,126.0"/><path d="M1054.7,140.4C1056.5,140.1 1062.2,140.1 1065.5,138.6C1068.8,137.1 1072.4,133.5 1074.5,131.4C1076.6,129.3 1077.5,126.9 1078.1,126.0"/><path d="M1060.1,165.5C1061.9,165.5 1068.2,166.4 1070.9,165.5C1073.6,164.6 1075.4,161.0 1076.3,160.1"/><path d="M1070.9,187.1C1071.2,184.7 1071.5,177.5 1072.7,172.7C1073.9,167.9 1075.4,161.0 1078.1,158.3C1080.8,155.6 1086.2,158.3 1088.9,156.5C1091.6,154.7 1092.5,152.6 1094.3,147.6C1096.1,142.5 1098.2,130.8 1099.7,126.0C1101.2,121.2 1102.7,120.0 1103.3,118.8"/><path d="M1083.5,178.1C1085.6,177.2 1092.2,174.8 1096.1,172.7C1100.0,170.6 1104.2,168.5 1106.9,165.5C1109.6,162.5 1109.9,157.7 1112.3,154.7C1114.7,151.8 1118.3,147.6 1121.3,147.6C1124.3,147.6 1127.9,152.4 1130.3,154.7C1132.7,157.1 1134.8,160.7 1135.7,161.9"/><path d="M1117.7,126.0C1117.1,129.0 1115.3,139.2 1114.1,144.0C1112.9,148.8 1111.1,152.9 1110.5,154.7"/><path d="M1094.3,178.1C1096.4,178.4 1103.9,178.1 1106.9,179.9C1109.9,181.7 1110.8,185.9 1112.3,188.9C1113.8,191.9 1114.7,193.4 1115.9,197.9C1117.1,202.4 1117.4,211.4 1119.5,215.9C1121.6,220.4 1124.6,223.1 1128.5,224.9C1132.4,226.7 1140.5,226.4 1142.9,226.7"/><path d="M1167.0,179.9C1164.5,180.8 1155.9,183.8 1151.9,185.3C1147.9,186.8 1146.2,188.6 1142.9,188.9C1139.6,189.2 1133.9,187.4 1132.1,187.1"/><path d="M1139.3,183.5C1140.5,181.7 1143.5,176.9 1146.5,172.7C1149.5,168.5 1153.9,162.2 1157.3,158.3C1160.7,154.4 1165.4,150.9 1167.0,149.4"/><path d="M1137.5,147.6C1137.8,144.6 1138.4,135.0 1139.3,129.6C1140.2,124.2 1141.1,119.1 1142.9,115.2C1144.7,111.3 1146.1,108.3 1150.1,106.2C1154.1,104.1 1164.2,103.2 1167.0,102.6"/><path d="M1142.9,95.4C1144.7,94.8 1150.4,92.7 1153.7,91.8C1157.0,90.9 1161.2,90.3 1162.7,90.0"/><path d="M1157.3,113.4C1157.6,115.5 1158.2,120.9 1159.1,126.0C1160.0,131.1 1162.1,141.0 1162.7,144.0"/><path d="M1000.8,241.1C1002.3,241.1 1007.7,239.3 1009.8,241.1C1011.9,242.9 1012.8,250.1 1013.4,251.9"/><path d="M1017.0,251.9C1018.5,249.5 1022.1,242.3 1026.0,237.5C1029.9,232.7 1035.3,226.7 1040.4,223.1C1045.4,219.5 1051.4,218.0 1056.5,215.9C1061.6,213.8 1066.1,212.9 1070.9,210.5C1075.7,208.1 1081.7,201.8 1085.3,201.5C1088.9,201.2 1090.4,205.7 1092.5,208.7C1094.6,211.7 1095.5,215.3 1097.9,219.5C1100.3,223.7 1103.6,230.0 1106.9,233.9C1110.2,237.8 1113.5,239.9 1117.7,242.9C1121.9,245.9 1129.7,250.4 1132.1,251.9"/><path d="M1035.0,251.9C1036.5,250.1 1039.8,244.1 1043.9,241.1C1048.1,238.1 1055.0,236.0 1060.1,233.9C1065.2,231.8 1070.0,230.6 1074.5,228.5C1079.0,226.4 1085.0,222.5 1087.1,221.3"/><path d="M1099.7,239.3C1097.9,239.1 1093.1,238.7 1088.9,238.4C1084.7,238.1 1078.7,237.6 1074.5,237.5C1070.3,237.3 1065.5,237.5 1063.7,237.5"/><path d="M1035.0,276.0C1035.6,273.5 1036.2,264.9 1038.6,260.9C1041.0,256.9 1045.1,254.0 1049.3,251.9C1053.5,249.8 1058.9,248.6 1063.7,248.3C1068.5,248.0 1074.2,249.5 1078.1,250.1C1082.0,250.7 1085.6,251.6 1087.1,251.9"/><path d="M1056.5,266.3C1058.0,266.0 1063.1,264.5 1065.5,264.5C1067.9,264.5 1070.0,266.0 1070.9,266.3"/><path d="M995.4,208.7C995.4,212.9 995.7,226.7 995.4,233.9C995.1,241.1 994.2,244.9 993.6,251.9C993.0,258.9 992.1,272.0 991.8,276.0"/><path d="M968.4,251.9C970.2,252.2 976.2,252.2 979.2,253.7C982.2,255.2 985.2,259.7 986.4,260.9"/><path d="M1112.3,276.0C1112.0,272.0 1110.5,257.1 1110.5,251.9C1110.5,246.7 1112.0,245.9 1112.3,244.7"/><path d="M1132.1,276.0C1133.9,273.5 1138.7,265.2 1142.9,260.9C1147.1,256.6 1153.3,252.8 1157.3,250.1C1161.3,247.4 1165.4,245.6 1167.0,244.7"/><path d="M1157.3,250.1C1156.7,252.2 1153.4,259.1 1153.7,262.7C1154.0,266.3 1158.2,270.2 1159.1,271.7"/><path d="M973.8,124.2C975.0,125.4 978.9,129.0 981.0,131.4C983.1,133.8 984.9,135.9 986.4,138.6C987.9,141.3 989.4,146.1 990.0,147.6"/><path d="M977.4,149.4C978.3,151.2 981.6,157.4 982.8,160.1C984.0,162.8 984.3,164.6 984.6,165.5"/><path d="M999.0,158.3C998.4,160.1 997.2,164.9 995.4,169.1C993.6,173.3 989.4,181.1 988.2,183.5"/><path d="M825.8,274.0C826.7,276.4 829.1,283.9 831.2,288.4C833.3,292.9 835.1,297.7 838.4,301.0C841.6,304.3 846.4,307.3 850.9,308.2C855.4,309.1 859.9,308.2 865.3,306.4C870.7,304.6 877.9,301.3 883.3,297.4C888.7,293.5 894.4,286.9 897.7,283.0C901.0,279.1 902.2,275.5 903.1,274.0"/><path d="M863.5,301.0C862.0,300.4 857.2,299.2 854.5,297.4C851.8,295.6 847.9,293.2 847.3,290.2C846.7,287.2 848.5,282.1 850.9,279.4C853.3,276.7 859.9,274.9 861.7,274.0"/><path d="M802.4,284.8C803.9,285.1 808.4,285.1 811.4,286.6C814.4,288.1 817.7,291.7 820.4,293.8C823.1,295.9 826.4,298.3 827.6,299.2"/><path d="M800.6,319.0C801.2,318.4 801.8,315.7 804.2,315.4C806.6,315.1 810.2,314.8 815.0,317.2C819.8,319.6 827.0,325.3 833.0,329.8C839.0,334.3 844.9,341.8 850.9,344.2C856.9,346.6 862.9,346.0 868.9,344.2C874.9,342.4 880.0,338.8 886.9,333.4C893.8,328.0 906.4,315.4 910.3,311.8"/><path d="M820.4,348.7C818.3,347.3 810.6,343.1 807.8,340.6C804.9,338.0 803.6,335.5 803.3,333.4C803.0,331.3 804.3,329.0 806.0,328.0C807.6,326.9 812.0,327.2 813.2,327.1"/><path d="M771.8,344.2C773.6,343.9 778.4,341.5 782.6,342.4C786.8,343.3 790.7,346.9 797.0,349.6C803.3,352.3 812.9,355.5 820.4,358.5C827.9,361.5 835.7,365.4 841.9,367.5C848.2,369.6 853.0,371.1 858.1,371.1C863.2,371.1 868.0,369.6 872.5,367.5C877.0,365.4 883.0,360.0 885.1,358.5"/><path d="M771.8,356.7C773.9,356.4 779.6,354.6 784.4,354.9C789.2,355.2 797.9,357.9 800.6,358.5"/><path d="M771.8,372.9C773.0,372.0 776.3,368.1 779.0,367.5C781.7,366.9 784.4,367.8 788.0,369.3C791.6,370.8 798.5,375.3 800.6,376.5"/><path d="M768.2,387.3C771.5,387.3 781.7,387.3 788.0,387.3C794.3,387.3 801.2,388.2 806.0,387.3C810.8,386.4 815.0,382.8 816.8,381.9"/><path d="M822.2,389.1C822.5,387.3 823.1,381.3 824.0,378.3C824.9,375.3 825.8,372.5 827.6,371.1C829.4,369.8 833.6,370.4 834.8,370.2"/><path d="M806.0,396.3C804.5,398.1 799.4,403.8 797.0,407.1C794.6,410.4 792.5,414.6 791.6,416.1"/><path d="M807.8,408.9C809.0,410.4 812.0,415.5 815.0,417.9C818.0,420.3 821.9,422.4 825.8,423.3C829.7,424.2 836.3,423.3 838.4,423.3"/><path d="M822.2,396.3C824.0,397.2 828.8,400.2 833.0,401.7C837.2,403.2 842.5,403.2 847.3,405.3C852.1,407.4 857.8,411.3 861.7,414.3C865.6,417.3 866.5,419.7 870.7,423.3C874.9,426.9 881.5,431.7 886.9,435.9C892.3,440.1 900.4,446.4 903.1,448.5"/><path d="M782.6,430.5C784.7,430.5 791.3,430.2 795.2,430.5C799.1,430.8 804.2,432.0 806.0,432.3"/><path d="M768.2,414.3C769.7,413.7 775.4,412.5 777.2,410.7C779.0,408.9 779.0,405.6 779.0,403.5C779.0,401.4 777.5,399.0 777.2,398.1"/><path d="M764.6,426.9C765.8,428.4 769.4,431.4 771.8,435.9C774.2,440.4 777.8,446.9 779.0,453.9C780.2,460.9 779.0,474.0 779.0,478.0"/><path d="M779.0,444.9C780.2,446.4 783.8,450.9 786.2,453.9C788.6,456.9 792.2,461.4 793.4,462.9"/><path d="M768.2,441.3C767.9,443.4 766.4,447.8 766.4,453.9C766.4,460.0 767.9,474.0 768.2,478.0"/><path d="M802.4,478.0C803.3,474.0 804.8,460.3 807.8,453.9C810.8,447.5 815.3,443.4 820.4,439.5C825.5,435.6 831.8,431.7 838.4,430.5C844.9,429.3 853.6,430.5 859.9,432.3C866.2,434.1 872.2,437.7 876.1,441.3C880.0,444.9 882.1,450.0 883.3,453.9C884.5,457.8 883.3,462.9 883.3,464.7"/><path d="M825.8,439.5C825.8,441.9 824.0,450.0 825.8,453.9C827.6,457.8 832.4,461.1 836.6,462.9C840.8,464.7 847.6,465.3 850.9,464.7C854.2,464.1 855.7,461.7 856.3,459.3C856.9,456.9 856.0,452.1 854.5,450.3C853.0,448.5 848.5,448.8 847.3,448.5"/><path d="M813.2,462.9C813.8,464.4 815.6,469.4 816.8,471.9C818.0,474.4 819.8,477.0 820.4,478.0"/><path d="M871.6,417.9C871.5,414.9 870.6,405.9 870.7,399.9C870.9,393.9 872.2,384.9 872.5,381.9"/><path d="M895.9,428.7C894.4,426.9 889.6,422.1 886.9,417.9C884.2,413.7 880.9,409.5 879.7,403.5C878.5,397.5 879.7,385.5 879.7,381.9"/><path d="M904.9,428.7C903.7,426.3 900.4,419.1 897.7,414.3C895.0,409.5 890.5,405.3 888.7,399.9C886.9,394.5 887.2,384.9 886.9,381.9"/><path d="M890.5,399.9C890.8,396.9 892.3,387.3 892.3,381.9C892.3,376.5 891.4,371.4 890.5,367.5C889.6,363.6 887.5,360.0 886.9,358.5"/><path d="M901.3,371.1C902.8,369.0 906.7,362.1 910.3,358.5C913.9,354.9 919.0,350.5 922.9,349.6C926.8,348.7 930.7,351.4 933.7,353.2C936.7,354.9 939.7,359.1 940.9,360.3"/><path d="M908.5,390.9C908.8,388.2 908.5,378.9 910.3,374.7C912.1,370.5 915.7,367.5 919.3,365.7C922.9,363.9 927.1,363.0 931.9,363.9C936.7,364.8 945.4,369.9 948.1,371.1"/><path d="M937.3,380.1C936.4,381.9 932.8,386.4 931.9,390.9C931.0,395.4 931.9,404.4 931.9,407.1"/><path d="M949.9,410.7C949.6,408.9 948.1,402.9 948.1,399.9C948.1,396.9 948.1,394.8 949.9,392.7C951.7,390.6 956.4,388.2 958.9,387.3C961.4,386.4 964.0,387.3 965.0,387.3"/><path d="M903.1,412.5C905.5,413.4 912.7,415.8 917.5,417.9C922.3,420.0 926.5,423.3 931.9,425.1C937.3,426.9 944.4,427.5 949.9,428.7C955.4,429.9 962.5,431.7 965.0,432.3"/><path d="M910.3,426.9C912.4,427.2 917.8,428.1 922.9,428.7C928.0,429.3 937.9,430.2 940.9,430.5"/><path d="M915.7,439.5C917.5,440.7 923.5,443.4 926.5,446.7C929.5,450.0 931.9,455.1 933.7,459.3C935.5,463.5 936.7,469.8 937.3,471.9"/><path d="M908.5,466.5C910.9,466.8 918.7,467.4 922.9,468.3C927.1,469.2 931.9,471.3 933.7,471.9"/><path d="M937.3,439.5C938.2,441.3 941.5,446.4 942.7,450.3C943.9,454.2 944.2,460.8 944.5,462.9"/><path d="M948.1,453.9C950.5,454.2 960.1,455.4 962.5,455.7"/><path d="M908.5,274.0C908.8,276.4 909.4,284.2 910.3,288.4C911.2,292.6 913.0,296.5 913.9,299.2C914.8,301.9 915.4,303.7 915.7,304.6"/><path d="M919.3,297.4C920.2,298.6 922.9,301.9 924.7,304.6C926.5,307.3 927.7,311.5 930.1,313.6C932.5,315.7 936.7,316.3 939.1,317.2C941.5,318.1 943.6,318.7 944.5,319.0"/><path d="M965.0,317.2C963.4,317.8 958.7,320.0 955.3,320.8C951.9,321.5 946.3,321.5 944.5,321.7"/><path d="M965.0,279.4C962.5,280.3 954.5,283.9 949.9,284.8C945.3,285.7 940.6,285.4 937.3,284.8C934.0,284.2 931.3,281.8 930.1,281.2"/><path d="M933.7,340.6C934.6,342.1 937.6,346.6 939.1,349.6C940.6,352.6 942.1,357.0 942.7,358.5"/><path d="M958.9,342.4C958.6,344.2 956.8,349.0 957.1,353.2C957.4,357.3 960.1,365.1 960.7,367.5"/><path d="M773.6,304.6C773.3,302.5 772.7,297.1 771.8,292.0C770.9,286.9 768.8,277.0 768.2,274.0"/><path d="M780.8,288.4C780.5,286.0 779.3,276.4 779.0,274.0"/><path d="M788.0,301.0C788.0,298.9 787.7,292.9 788.0,288.4C788.3,283.9 789.5,276.4 789.8,274.0"/><path d="M766.4,381.9C766.4,375.9 766.1,357.0 766.4,346.0C766.7,334.9 767.9,320.5 768.2,315.4"/><path d="M968.4,301.0C969.9,298.9 974.4,292.0 977.4,288.4C980.4,284.8 984.0,281.8 986.4,279.4C988.8,277.0 990.9,274.9 991.8,274.0"/><path d="M993.6,306.4C993.9,302.5 995.1,286.9 995.4,283.0"/><path d="M968.4,311.8C970.5,311.5 978.0,308.5 981.0,310.0C984.0,311.5 985.8,315.7 986.4,320.8C987.0,325.9 984.9,337.3 984.6,340.6"/><path d="M1000.8,299.2C1002.3,300.4 1007.4,303.7 1009.8,306.4C1012.2,309.1 1014.0,312.4 1015.2,315.4C1016.4,318.4 1016.7,322.9 1017.0,324.4"/><path d="M1024.2,356.7C1022.7,354.6 1018.2,348.1 1015.2,344.2C1012.2,340.3 1009.8,336.1 1006.2,333.4C1002.6,330.7 995.7,328.9 993.6,328.0"/><path d="M1026.0,299.2C1026.6,297.4 1028.1,291.4 1029.6,288.4C1031.1,285.4 1032.6,283.6 1035.0,281.2C1037.4,278.8 1042.5,275.2 1043.9,274.0"/><path d="M1043.9,347.8C1043.1,345.4 1039.8,338.2 1038.6,333.4C1037.4,328.6 1036.8,322.9 1036.8,319.0C1036.8,315.1 1037.7,312.7 1038.6,310.0C1039.5,307.3 1039.8,305.5 1042.2,302.8C1044.5,300.1 1050.2,296.8 1052.9,293.8C1055.6,290.8 1057.4,286.3 1058.3,284.8"/><path d="M1051.1,306.4C1051.4,308.5 1052.0,314.5 1052.9,319.0C1053.8,323.5 1055.9,331.0 1056.5,333.4"/><path d="M1052.9,349.6C1054.7,348.4 1061.0,344.8 1063.7,342.4C1066.4,340.0 1068.2,336.4 1069.1,335.2"/><path d="M1060.1,295.6C1060.7,296.8 1061.3,301.6 1063.7,302.8C1066.1,304.0 1070.9,303.7 1074.5,302.8C1078.1,301.9 1083.5,298.3 1085.3,297.4"/><path d="M1056.5,308.2C1057.7,309.1 1060.4,312.4 1063.7,313.6C1067.0,314.8 1074.2,315.1 1076.3,315.4"/><path d="M1063.7,277.6C1064.9,278.2 1068.5,280.9 1070.9,281.2C1073.3,281.5 1075.7,280.3 1078.1,279.4C1080.5,278.5 1084.1,276.4 1085.3,275.8"/><path d="M968.4,351.4C970.5,351.7 976.5,351.1 981.0,353.2C985.5,355.2 990.0,357.9 995.4,363.9C1000.8,369.9 1007.4,383.1 1013.4,389.1C1019.4,395.1 1024.8,396.9 1031.4,399.9C1038.0,402.9 1046.3,404.4 1052.9,407.1C1059.5,409.8 1064.9,413.1 1070.9,416.1C1076.9,419.1 1085.9,423.6 1088.9,425.1"/><path d="M968.4,372.9C971.1,374.7 979.5,380.1 984.6,383.7C989.7,387.3 994.2,391.2 999.0,394.5C1003.8,397.8 1011.0,402.0 1013.4,403.5"/><path d="M1022.4,362.1C1020.0,361.2 1012.2,357.3 1008.0,356.7C1003.8,356.1 999.3,357.3 997.2,358.5C995.1,359.7 995.7,363.0 995.4,363.9"/><path d="M1027.8,367.5C1029.6,368.1 1033.8,371.4 1038.6,371.1C1043.4,370.8 1053.5,366.6 1056.5,365.7"/><path d="M1024.2,389.1C1024.5,388.2 1024.2,384.9 1026.0,383.7C1027.8,382.5 1031.1,382.5 1035.0,381.9C1038.9,381.3 1046.9,380.4 1049.3,380.1"/><path d="M1070.9,362.1C1070.9,364.8 1071.2,373.5 1070.9,378.3C1070.6,383.1 1069.7,386.4 1069.1,390.9C1068.5,395.4 1067.6,402.9 1067.3,405.3"/><path d="M1078.1,320.8C1077.5,324.4 1075.1,335.8 1074.5,342.4C1073.9,349.0 1073.3,354.9 1074.5,360.3C1075.7,365.7 1078.4,370.8 1081.7,374.7C1085.0,378.6 1088.6,381.6 1094.3,383.7C1100.0,385.8 1107.8,386.7 1115.9,387.3C1124.0,387.9 1137.5,386.7 1142.9,387.3C1148.3,387.9 1147.4,390.3 1148.3,390.9"/><path d="M1097.9,349.6C1098.8,352.0 1102.1,359.4 1103.3,363.9C1104.5,368.4 1104.8,374.4 1105.1,376.5"/><path d="M1088.9,378.3C1090.7,378.3 1096.7,378.6 1099.7,378.3C1102.7,378.0 1105.7,376.8 1106.9,376.5"/><path d="M1096.1,328.0C1096.4,325.0 1096.4,314.2 1097.9,310.0C1099.4,305.8 1103.6,304.9 1105.1,302.8C1106.6,300.7 1106.6,298.3 1106.9,297.4"/><path d="M1099.7,344.2C1101.5,345.1 1106.3,346.9 1110.5,349.6C1114.7,352.3 1119.5,357.3 1124.9,360.3C1130.3,363.3 1137.5,366.3 1142.9,367.5C1148.3,368.7 1154.0,369.6 1157.3,367.5C1160.6,365.4 1161.8,357.0 1162.7,354.9"/><path d="M1106.9,344.2C1108.7,344.5 1114.7,346.6 1117.7,346.0C1120.7,345.4 1123.4,343.6 1124.9,340.6C1126.4,337.6 1126.4,330.1 1126.7,328.0"/><path d="M1115.9,290.2C1116.2,292.3 1117.4,295.6 1117.7,302.8C1118.0,310.0 1117.7,328.3 1117.7,333.4"/><path d="M1124.9,284.8C1125.8,286.9 1128.8,291.7 1130.3,297.4C1131.8,303.1 1133.0,313.3 1133.9,319.0C1134.8,324.7 1134.8,326.8 1135.7,331.6C1136.6,336.4 1138.7,345.1 1139.3,347.8"/><path d="M1124.9,310.0C1125.5,312.7 1127.6,322.3 1128.5,326.2C1129.4,330.1 1130.0,332.2 1130.3,333.4"/><path d="M1141.1,281.2C1142.0,282.7 1143.8,287.8 1146.5,290.2C1149.2,292.6 1154.3,294.4 1157.3,295.6C1160.3,296.8 1163.3,297.1 1164.5,297.4"/><path d="M1142.9,317.2C1144.7,318.1 1149.7,321.4 1153.7,322.6C1157.7,323.8 1164.8,324.1 1167.0,324.4"/><path d="M1167.0,389.1C1163.6,390.9 1154.1,396.6 1146.5,399.9C1138.9,403.2 1128.2,405.9 1121.3,408.9C1114.4,411.9 1109.0,414.9 1105.1,417.9C1101.2,420.9 1098.5,422.4 1097.9,426.9C1097.3,431.4 1100.3,438.9 1101.5,444.9C1102.7,450.9 1104.5,459.9 1105.1,462.9"/><path d="M1135.7,444.9C1135.4,442.5 1134.8,435.0 1133.9,430.5C1133.0,426.0 1131.8,420.9 1130.3,417.9C1128.8,414.9 1125.8,413.4 1124.9,412.5"/><path d="M1142.9,432.3C1143.5,430.5 1144.7,424.5 1146.5,421.5C1148.3,418.5 1152.5,415.5 1153.7,414.3"/><path d="M1106.9,434.1C1108.7,434.1 1114.7,433.2 1117.7,434.1C1120.7,435.0 1122.8,436.8 1124.9,439.5C1127.0,442.2 1129.4,448.5 1130.3,450.3"/><path d="M1110.5,462.9C1112.0,462.3 1116.2,459.9 1119.5,459.3C1122.8,458.7 1128.5,459.3 1130.3,459.3"/><path d="M1167.0,419.7C1164.8,420.9 1157.1,424.2 1153.7,426.9C1150.3,429.6 1148.3,432.0 1146.5,435.9C1144.7,439.8 1143.5,443.3 1142.9,450.3C1142.3,457.3 1142.9,473.4 1142.9,478.0"/><path d="M1135.7,453.9C1137.2,453.3 1140.5,451.5 1144.7,450.3C1148.9,449.1 1157.2,447.6 1160.9,446.7C1164.6,445.8 1166.0,445.2 1167.0,444.9"/><path d="M1000.8,435.9C1000.5,435.3 1000.8,435.3 999.0,432.3C997.2,429.3 992.7,421.8 990.0,417.9C987.3,414.0 984.0,410.4 982.8,408.9"/><path d="M1008.0,432.3C1009.5,431.4 1013.1,428.7 1017.0,426.9C1020.9,425.1 1027.5,422.7 1031.4,421.5C1035.3,420.3 1038.9,420.0 1040.4,419.7"/><path d="M972.0,403.5C972.9,405.9 974.1,413.1 977.4,417.9C980.7,422.7 989.4,429.9 991.8,432.3"/><path d="M968.4,417.9C969.3,420.3 971.7,428.7 973.8,432.3C975.9,435.9 979.8,438.3 981.0,439.5"/><path d="M968.4,446.7C969.6,448.2 972.0,453.6 975.6,455.7C979.2,457.8 984.6,459.0 990.0,459.3C995.4,459.6 1005.0,457.8 1008.0,457.5"/><path d="M1031.4,452.1C1033.2,451.2 1038.9,448.8 1042.2,446.7C1045.4,444.6 1049.6,440.7 1051.1,439.5"/><path d="M1060.1,455.7C1061.3,453.9 1065.2,447.6 1067.3,444.9C1069.4,442.2 1071.8,440.4 1072.7,439.5"/><path d="M1017.0,478.0C1017.9,474.0 1020.0,458.5 1022.4,453.9C1024.8,449.3 1029.9,450.9 1031.4,450.3"/><path d="M1070.9,478.0C1071.8,475.8 1073.9,468.1 1076.3,464.7C1078.7,461.3 1083.8,458.7 1085.3,457.5"/><path d="M1038.6,457.5C1040.1,458.4 1045.1,460.5 1047.5,462.9C1049.9,465.3 1052.0,470.4 1052.9,471.9"/><path d="M1073.8,262.0C1074.1,263.1 1075.3,266.2 1075.7,268.7C1076.1,271.2 1076.2,274.2 1076.1,277.2C1076.0,280.2 1075.6,283.5 1074.9,286.6C1074.3,289.7 1073.4,293.0 1072.4,295.9C1071.4,298.7 1070.1,301.5 1068.7,303.8C1067.4,306.2 1065.8,308.2 1064.4,309.7C1062.9,311.2 1061.3,312.2 1059.8,312.7C1058.3,313.2 1056.8,313.2 1055.5,312.6C1054.2,312.1 1053.0,310.9 1052.0,309.4C1051.1,307.9 1050.2,305.7 1049.7,303.4C1049.2,301.0 1048.9,298.2 1048.9,295.3C1048.9,292.4 1049.1,289.1 1049.6,286.0C1050.0,282.9 1050.8,279.6 1051.7,276.6C1052.7,273.7 1053.8,270.7 1055.1,268.2C1056.4,265.7 1057.9,263.4 1059.3,261.7C1060.8,259.9 1063.1,258.4 1063.9,257.7"/><path d="M1068.5,235.8C1069.8,236.0 1074.1,236.0 1076.5,237.3C1078.9,238.7 1081.2,241.0 1083.1,243.9C1084.9,246.8 1086.4,250.6 1087.4,254.8C1088.4,259.0 1089.0,264.0 1089.1,269.0C1089.2,274.0 1088.8,279.5 1088.0,284.8C1087.2,290.1 1085.8,295.6 1084.2,300.7C1082.5,305.7 1080.4,310.6 1078.0,314.8C1075.7,319.0 1073.0,322.9 1070.3,325.9C1067.5,328.8 1064.5,331.1 1061.7,332.5C1058.8,333.9 1055.8,334.5 1053.2,334.1C1050.5,333.8 1047.8,332.6 1045.6,330.6C1043.4,328.5 1041.4,325.6 1039.9,322.1C1038.4,318.6 1037.2,314.3 1036.6,309.7C1035.9,305.2 1035.7,299.9 1036.0,294.7C1036.3,289.6 1037.1,283.9 1038.2,278.7C1039.4,273.4 1042.2,265.9 1043.0,263.3"/><path d="M1043.9,234.0C1046.0,231.8 1052.2,223.9 1056.6,220.7C1060.9,217.5 1065.6,215.4 1069.9,214.8C1074.2,214.1 1078.6,214.8 1082.4,216.7C1086.2,218.7 1089.8,222.1 1092.7,226.5C1095.5,230.8 1097.9,236.6 1099.5,242.8C1101.1,249.0 1102.0,256.5 1102.1,263.9C1102.3,271.3 1101.6,279.6 1100.3,287.4C1099.0,295.2 1096.8,303.4 1094.2,310.6C1091.5,317.9 1088.1,325.0 1084.4,330.9C1080.8,336.8 1076.5,342.2 1072.2,346.0C1068.0,349.9 1063.3,352.8 1058.9,354.2C1054.6,355.6 1050.0,355.8 1046.0,354.6C1042.0,353.4 1038.2,350.7 1035.0,347.0C1031.8,343.3 1029.0,338.2 1027.1,332.4C1025.1,326.7 1023.7,319.7 1023.2,312.5C1022.6,305.3 1023.6,293.3 1023.7,289.4"/></g><g fill="#fff"><path transform="translate(825.0,241.1) rotate(96)" d="M6,0L-5,-4.5L-5,4.5Z"/><path transform="translate(903.1,131.2) rotate(-20)" d="M6,0L-5,-4.5L-5,4.5Z"/><path transform="translate(915.6,160.5) rotate(113)" d="M6,0L-5,-4.5L-5,4.5Z"/><path transform="translate(893.5,174.8) rotate(68)" d="M6,0L-5,-4.5L-5,4.5Z"/><path transform="translate(940.8,165.9) rotate(-9)" d="M6,0L-5,-4.5L-5,4.5Z"/><path transform="translate(928.4,184.0) rotate(164)" d="M6,0L-5,-4.5L-5,4.5Z"/><path transform="translate(933.7,205.1) rotate(-117)" d="M6,0L-5,-4.5L-5,4.5Z"/><path transform="translate(872.5,215.9) rotate(112)" d="M6,0L-5,-4.5L-5,4.5Z"/><path transform="translate(884.9,212.2) rotate(84)" d="M6,0L-5,-4.5L-5,4.5Z"/><path transform="translate(890.5,244.7) rotate(59)" d="M6,0L-5,-4.5L-5,4.5Z"/><path transform="translate(851.9,190.9) rotate(-14)" d="M6,0L-5,-4.5L-5,4.5Z"/><path transform="translate(844.0,259.3) rotate(172)" d="M6,0L-5,-4.5L-5,4.5Z"/><path transform="translate(944.8,247.2) rotate(143)" d="M6,0L-5,-4.5L-5,4.5Z"/><path transform="translate(955.0,95.7) rotate(168)" d="M6,0L-5,-4.5L-5,4.5Z"/><path transform="translate(958.3,140.2) rotate(82)" d="M6,0L-5,-4.5L-5,4.5Z"/><path transform="translate(790.9,84.2) rotate(-63)" d="M6,0L-5,-4.5L-5,4.5Z"/><path transform="translate(781.9,138.9) rotate(63)" d="M6,0L-5,-4.5L-5,4.5Z"/><path transform="translate(790.4,166.1) rotate(39)" d="M6,0L-5,-4.5L-5,4.5Z"/><path transform="translate(823.8,160.8) rotate(-51)" d="M6,0L-5,-4.5L-5,4.5Z"/><path transform="translate(797.3,178.2) rotate(11)" d="M6,0L-5,-4.5L-5,4.5Z"/><path transform="translate(799.1,191.4) rotate(-27)" d="M6,0L-5,-4.5L-5,4.5Z"/><path transform="translate(789.8,212.3) rotate(14)" d="M6,0L-5,-4.5L-5,4.5Z"/><path transform="translate(786.3,220.9) rotate(14)" d="M6,0L-5,-4.5L-5,4.5Z"/><path transform="translate(777.2,239.3) rotate(8)" d="M6,0L-5,-4.5L-5,4.5Z"/><path transform="translate(779.8,266.0) rotate(162)" d="M6,0L-5,-4.5L-5,4.5Z"/><path transform="translate(796.6,128.5) rotate(162)" d="M6,0L-5,-4.5L-5,4.5Z"/><path transform="translate(823.1,137.7) rotate(-45)" d="M6,0L-5,-4.5L-5,4.5Z"/><path transform="translate(844.5,129.2) rotate(-27)" d="M6,0L-5,-4.5L-5,4.5Z"/><path transform="translate(990.3,109.3) rotate(56)" d="M6,0L-5,-4.5L-5,4.5Z"/><path transform="translate(969.8,140.5) rotate(84)" d="M6,0L-5,-4.5L-5,4.5Z"/><path transform="translate(972.0,179.9) rotate(87)" d="M6,0L-5,-4.5L-5,4.5Z"/><path transform="translate(1004.6,187.0) rotate(-34)" d="M6,0L-5,-4.5L-5,4.5Z"/><path transform="translate(1032.8,180.4) rotate(127)" d="M6,0L-5,-4.5L-5,4.5Z"/><path transform="translate(1014.9,211.9) rotate(-23)" d="M6,0L-5,-4.5L-5,4.5Z"/><path transform="translate(1024.7,194.1) rotate(-21)" d="M6,0L-5,-4.5L-5,4.5Z"/><path transform="translate(1043.9,131.4) rotate(143)" d="M6,0L-5,-4.5L-5,4.5Z"/><path transform="translate(1074.8,130.9) rotate(-56)" d="M6,0L-5,-4.5L-5,4.5Z"/><path transform="translate(1076.3,160.1) rotate(-45)" d="M6,0L-5,-4.5L-5,4.5Z"/><path transform="translate(1117.4,150.7) rotate(-39)" d="M6,0L-5,-4.5L-5,4.5Z"/><path transform="translate(1115.2,196.1) rotate(68)" d="M6,0L-5,-4.5L-5,4.5Z"/><path transform="translate(1133.0,187.3) rotate(-171)" d="M6,0L-5,-4.5L-5,4.5Z"/><path transform="translate(1153.7,91.8) rotate(-18)" d="M6,0L-5,-4.5L-5,4.5Z"/><path transform="translate(1158.1,118.9) rotate(82)" d="M6,0L-5,-4.5L-5,4.5Z"/><path transform="translate(1012.8,250.3) rotate(72)" d="M6,0L-5,-4.5L-5,4.5Z"/><path transform="translate(1084.7,201.9) rotate(-32)" d="M6,0L-5,-4.5L-5,4.5Z"/><path transform="translate(1048.8,238.9) rotate(-24)" d="M6,0L-5,-4.5L-5,4.5Z"/><path transform="translate(1072.7,237.5) rotate(180)" d="M6,0L-5,-4.5L-5,4.5Z"/><path transform="translate(1085.4,251.5) rotate(11)" d="M6,0L-5,-4.5L-5,4.5Z"/><path transform="translate(1064.7,264.7) rotate(-11)" d="M6,0L-5,-4.5L-5,4.5Z"/><path transform="translate(994.1,246.5) rotate(96)" d="M6,0L-5,-4.5L-5,4.5Z"/><path transform="translate(979.6,254.1) rotate(45)" d="M6,0L-5,-4.5L-5,4.5Z"/><path transform="translate(1154.5,264.0) rotate(59)" d="M6,0L-5,-4.5L-5,4.5Z"/><path transform="translate(984.6,136.1) rotate(53)" d="M6,0L-5,-4.5L-5,4.5Z"/><path transform="translate(982.8,160.1) rotate(63)" d="M6,0L-5,-4.5L-5,4.5Z"/><path transform="translate(988.2,183.5) rotate(117)" d="M6,0L-5,-4.5L-5,4.5Z"/><path transform="translate(847.7,289.1) rotate(-72)" d="M6,0L-5,-4.5L-5,4.5Z"/><path transform="translate(809.4,286.2) rotate(11)" d="M6,0L-5,-4.5L-5,4.5Z"/><path transform="translate(850.5,343.8) rotate(39)" d="M6,0L-5,-4.5L-5,4.5Z"/><path transform="translate(804.3,335.0) rotate(-122)" d="M6,0L-5,-4.5L-5,4.5Z"/><path transform="translate(820.1,358.4) rotate(21)" d="M6,0L-5,-4.5L-5,4.5Z"/><path transform="translate(777.6,355.9) rotate(-8)" d="M6,0L-5,-4.5L-5,4.5Z"/><path transform="translate(779.0,367.5) rotate(-37)" d="M6,0L-5,-4.5L-5,4.5Z"/><path transform="translate(789.8,387.3) rotate(0)" d="M6,0L-5,-4.5L-5,4.5Z"/><path transform="translate(823.1,383.7) rotate(-81)" d="M6,0L-5,-4.5L-5,4.5Z"/><path transform="translate(791.6,416.1) rotate(121)" d="M6,0L-5,-4.5L-5,4.5Z"/><path transform="translate(827.6,423.3) rotate(0)" d="M6,0L-5,-4.5L-5,4.5Z"/><path transform="translate(868.0,420.6) rotate(45)" d="M6,0L-5,-4.5L-5,4.5Z"/><path transform="translate(804.2,432.0) rotate(9)" d="M6,0L-5,-4.5L-5,4.5Z"/><path transform="translate(778.4,401.9) rotate(-108)" d="M6,0L-5,-4.5L-5,4.5Z"/><path transform="translate(779.0,457.5) rotate(90)" d="M6,0L-5,-4.5L-5,4.5Z"/><path transform="translate(792.5,461.8) rotate(51)" d="M6,0L-5,-4.5L-5,4.5Z"/><path transform="translate(880.1,448.3) rotate(60)" d="M6,0L-5,-4.5L-5,4.5Z"/><path transform="translate(854.5,461.1) rotate(-45)" d="M6,0L-5,-4.5L-5,4.5Z"/><path transform="translate(879.7,403.5) rotate(-117)" d="M6,0L-5,-4.5L-5,4.5Z"/><path transform="translate(889.3,400.8) rotate(-122)" d="M6,0L-5,-4.5L-5,4.5Z"/><path transform="translate(902.5,369.4) rotate(-54)" d="M6,0L-5,-4.5L-5,4.5Z"/><path transform="translate(908.7,389.2) rotate(-84)" d="M6,0L-5,-4.5L-5,4.5Z"/><path transform="translate(931.9,403.5) rotate(90)" d="M6,0L-5,-4.5L-5,4.5Z"/><path transform="translate(949.9,410.7) rotate(-99)" d="M6,0L-5,-4.5L-5,4.5Z"/><path transform="translate(919.7,419.0) rotate(27)" d="M6,0L-5,-4.5L-5,4.5Z"/><path transform="translate(930.5,453.7) rotate(60)" d="M6,0L-5,-4.5L-5,4.5Z"/><path transform="translate(944.2,460.9) rotate(82)" d="M6,0L-5,-4.5L-5,4.5Z"/><path transform="translate(914.0,299.5) rotate(72)" d="M6,0L-5,-4.5L-5,4.5Z"/><path transform="translate(924.2,303.9) rotate(53)" d="M6,0L-5,-4.5L-5,4.5Z"/><path transform="translate(957.2,320.1) rotate(160)" d="M6,0L-5,-4.5L-5,4.5Z"/><path transform="translate(935.9,344.3) rotate(59)" d="M6,0L-5,-4.5L-5,4.5Z"/><path transform="translate(957.6,349.9) rotate(99)" d="M6,0L-5,-4.5L-5,4.5Z"/><path transform="translate(771.8,292.0) rotate(-98)" d="M6,0L-5,-4.5L-5,4.5Z"/><path transform="translate(788.0,292.0) rotate(-90)" d="M6,0L-5,-4.5L-5,4.5Z"/><path transform="translate(767.1,333.3) rotate(-87)" d="M6,0L-5,-4.5L-5,4.5Z"/><path transform="translate(995.2,284.8) rotate(-86)" d="M6,0L-5,-4.5L-5,4.5Z"/><path transform="translate(981.5,311.1) rotate(63)" d="M6,0L-5,-4.5L-5,4.5Z"/><path transform="translate(1015.5,317.1) rotate(79)" d="M6,0L-5,-4.5L-5,4.5Z"/><path transform="translate(1018.9,349.4) rotate(-126)" d="M6,0L-5,-4.5L-5,4.5Z"/><path transform="translate(1031.5,285.8) rotate(-53)" d="M6,0L-5,-4.5L-5,4.5Z"/><path transform="translate(1037.6,314.8) rotate(-79)" d="M6,0L-5,-4.5L-5,4.5Z"/><path transform="translate(1056.5,333.4) rotate(76)" d="M6,0L-5,-4.5L-5,4.5Z"/><path transform="translate(1074.6,315.1) rotate(8)" d="M6,0L-5,-4.5L-5,4.5Z"/><path transform="translate(1014.7,389.9) rotate(31)" d="M6,0L-5,-4.5L-5,4.5Z"/><path transform="translate(1022.4,362.1) rotate(-159)" d="M6,0L-5,-4.5L-5,4.5Z"/><path transform="translate(1040.3,381.3) rotate(-7)" d="M6,0L-5,-4.5L-5,4.5Z"/><path transform="translate(1070.9,378.3) rotate(90)" d="M6,0L-5,-4.5L-5,4.5Z"/><path transform="translate(1105.1,376.5) rotate(82)" d="M6,0L-5,-4.5L-5,4.5Z"/><path transform="translate(1116.7,295.7) rotate(82)" d="M6,0L-5,-4.5L-5,4.5Z"/><path transform="translate(1135.1,327.3) rotate(82)" d="M6,0L-5,-4.5L-5,4.5Z"/><path transform="translate(1128.5,326.2) rotate(77)" d="M6,0L-5,-4.5L-5,4.5Z"/><path transform="translate(1147.2,290.5) rotate(27)" d="M6,0L-5,-4.5L-5,4.5Z"/><path transform="translate(1153.1,322.3) rotate(27)" d="M6,0L-5,-4.5L-5,4.5Z"/><path transform="translate(1119.9,409.7) rotate(151)" d="M6,0L-5,-4.5L-5,4.5Z"/><path transform="translate(1134.6,436.0) rotate(-97)" d="M6,0L-5,-4.5L-5,4.5Z"/><path transform="translate(1145.0,425.8) rotate(-72)" d="M6,0L-5,-4.5L-5,4.5Z"/><path transform="translate(1130.3,459.3) rotate(0)" d="M6,0L-5,-4.5L-5,4.5Z"/><path transform="translate(983.5,409.8) rotate(-129)" d="M6,0L-5,-4.5L-5,4.5Z"/><path transform="translate(1035.5,420.7) rotate(-11)" d="M6,0L-5,-4.5L-5,4.5Z"/><path transform="translate(978.3,436.8) rotate(45)" d="M6,0L-5,-4.5L-5,4.5Z"/><path transform="translate(977.7,456.2) rotate(14)" d="M6,0L-5,-4.5L-5,4.5Z"/><path transform="translate(1051.1,439.5) rotate(-39)" d="M6,0L-5,-4.5L-5,4.5Z"/><path transform="translate(1071.8,440.4) rotate(-45)" d="M6,0L-5,-4.5L-5,4.5Z"/><path transform="translate(1055.5,312.6) rotate(-179)" d="M6,0L-5,-4.5L-5,4.5Z"/><path transform="translate(1070.3,325.9) rotate(125)" d="M6,0L-5,-4.5L-5,4.5Z"/><path transform="translate(1094.2,310.6) rotate(105)" d="M6,0L-5,-4.5L-5,4.5Z"/></g></g><line x1="319.5" x2="319.5" y1="72.3" y2="477.2" stroke="#fff" stroke-width="2"/><line x1="964.8" x2="964.8" y1="72.3" y2="477.2" stroke="#fff" stroke-width="2"/><rect x="539.9" y="72.3" width="20.00" height="404.90" fill="url(#cbv)" stroke="#000" stroke-width="2.6"/><rect x="1185.5" y="72.3" width="19.90" height="404.90" fill="url(#cbb)" stroke="#000" stroke-width="2.6"/><g stroke="#000" stroke-width="2.2"><line x1="539.9" x2="546.9" y1="301.0" y2="301.0"/><line x1="552.9" x2="559.9" y1="301.0" y2="301.0"/><line x1="539.9" x2="546.9" y1="124.8" y2="124.8"/><line x1="552.9" x2="559.9" y1="124.8" y2="124.8"/></g><g stroke="#000" stroke-width="2.2"><line x1="1185.5" x2="1192.5" y1="316.0" y2="316.0"/><line x1="1198.4" x2="1205.4" y1="316.0" y2="316.0"/><line x1="1185.5" x2="1192.5" y1="154.4" y2="154.4"/><line x1="1198.4" x2="1205.4" y1="154.4" y2="154.4"/></g><rect x="116.5" y="72.3" width="405.00" height="404.90" fill="none" stroke="#000" stroke-width="2.7"/><g stroke="#000" stroke-width="2.6"><line x1="197.50" x2="197.50" y1="477.2" y2="464.7"/><line x1="197.50" x2="197.50" y1="72.3" y2="84.8"/><line y1="396.20" y2="396.20" x1="116.5" x2="129.0"/><line y1="396.20" y2="396.20" x1="521.5" x2="509.0"/><line x1="278.50" x2="278.50" y1="477.2" y2="464.7"/><line x1="278.50" x2="278.50" y1="72.3" y2="84.8"/><line y1="315.20" y2="315.20" x1="116.5" x2="129.0"/><line y1="315.20" y2="315.20" x1="521.5" x2="509.0"/><line x1="359.50" x2="359.50" y1="477.2" y2="464.7"/><line x1="359.50" x2="359.50" y1="72.3" y2="84.8"/><line y1="234.20" y2="234.20" x1="116.5" x2="129.0"/><line y1="234.20" y2="234.20" x1="521.5" x2="509.0"/><line x1="440.50" x2="440.50" y1="477.2" y2="464.7"/><line x1="440.50" x2="440.50" y1="72.3" y2="84.8"/><line y1="153.20" y2="153.20" x1="116.5" x2="129.0"/><line y1="153.20" y2="153.20" x1="521.5" x2="509.0"/></g><rect x="761.8" y="72.3" width="405.00" height="404.90" fill="none" stroke="#000" stroke-width="2.7"/><g stroke="#000" stroke-width="2.6"><line x1="842.80" x2="842.80" y1="477.2" y2="464.7"/><line x1="842.80" x2="842.80" y1="72.3" y2="84.8"/><line y1="396.20" y2="396.20" x1="761.8" x2="774.3"/><line y1="396.20" y2="396.20" x1="1166.8" x2="1154.3"/><line x1="923.80" x2="923.80" y1="477.2" y2="464.7"/><line x1="923.80" x2="923.80" y1="72.3" y2="84.8"/><line y1="315.20" y2="315.20" x1="761.8" x2="774.3"/><line y1="315.20" y2="315.20" x1="1166.8" x2="1154.3"/><line x1="1004.80" x2="1004.80" y1="477.2" y2="464.7"/><line x1="1004.80" x2="1004.80" y1="72.3" y2="84.8"/><line y1="234.20" y2="234.20" x1="761.8" x2="774.3"/><line y1="234.20" y2="234.20" x1="1166.8" x2="1154.3"/><line x1="1085.80" x2="1085.80" y1="477.2" y2="464.7"/><line x1="1085.80" x2="1085.80" y1="72.3" y2="84.8"/><line y1="153.20" y2="153.20" x1="761.8" x2="774.3"/><line y1="153.20" y2="153.20" x1="1166.8" x2="1154.3"/></g><rect x="148.9" y="84.9" width="137.2" height="35.6" fill="#fff" stroke="#000" stroke-width="1.6"/><rect x="351.8" y="84.9" width="137.2" height="35.6" fill="#fff" stroke="#000" stroke-width="1.6"/><rect x="794.1999999999999" y="84.9" width="137.2" height="35.6" fill="#fff" stroke="#000" stroke-width="1.6"/><rect x="997.0999999999999" y="84.9" width="137.2" height="35.6" fill="#fff" stroke="#000" stroke-width="1.6"/><path d="M393.1,1024.8V954.5H396.0V912.0H398.9V841.7H401.8V748.5H404.8V771.4H407.7V782.8H410.6V792.6H413.5V784.7H416.5V804.5H419.4V839.0H422.3V858.4H425.2V878.5H428.1V897.4H431.1V911.1H434.0V905.0H436.9V898.5H439.8V896.8H442.8V901.7H445.7V907.1H448.6V898.3H451.5V898.4H454.4V890.0H457.4V907.5H460.3V903.4H463.2V903.9H466.1V905.6H469.1V921.0H472.0V930.2H474.9V931.5H477.8V939.1H480.7V946.8H483.7V943.5H486.6V938.8H489.5V942.6H492.4V933.3H495.4V939.9H498.3V936.6H501.2V927.8H504.1V938.9H507.0V936.9H510.0V936.0H512.9V936.2H515.8V941.6H518.7V937.4H521.6V933.6H524.6V947.0H527.5V939.2H530.4V945.8H533.3V941.6H536.3V946.1H539.2V952.5H542.1V960.4H545.0V956.3H547.9V955.1H550.9V951.4H553.8V956.0H556.7V959.3H559.6V959.4H562.6V960.9H565.5V972.1H568.4V972.0H571.3V973.0H574.2V969.9H577.2V973.1H580.1V973.1H583.0V974.2H585.9V973.1H588.9V974.8H591.8V984.5H594.7V985.2H597.6V982.7H600.5V990.2H603.5V985.9H606.4V984.8H609.3V981.6H612.2V983.8H615.2V987.2H618.1V988.8H621.0V990.4H623.9V982.9H626.8V973.4H629.8V982.1H632.7V980.9H635.6V983.0H638.5V983.2H641.5V985.9H644.4V982.6H647.3V982.3H650.2V975.1H653.1V974.2H656.1V974.5H659.0V971.1H661.9V973.2H664.8V967.7H667.7V972.9H670.7V972.8H673.6V980.4H676.5V972.6H679.4V966.9H682.4V972.5H685.3V961.2H688.2V962.3H691.1V955.5H694.0V945.0H697.0V956.0H699.9V954.7H702.8V950.9H705.7V948.1H708.7V948.8H711.6V940.9H714.5V941.4H717.4V936.6H720.3V946.6H723.3V943.3H726.2V943.4H729.1V947.8H732.0V936.4H735.0V945.8H737.9V938.1H740.8V942.5H743.7V944.1H746.6V948.0H749.6V947.2H752.5V955.8H755.4V945.7H758.3V946.9H761.3V954.5H764.2V940.3H767.1V948.6H770.0V936.6H772.9V941.5H775.9V932.9H778.8V932.8H781.7V937.2H784.6V922.0H787.6V918.8H790.5V923.6H793.4V926.4H796.3V929.2H799.2V933.3H802.2V924.8H805.1V932.6H808.0V931.0H810.9V934.6H813.8V934.7H816.8V938.8H819.7V929.7H822.6V937.5H825.5V934.4H828.5V939.5H831.4V943.6H834.3V943.2H837.2V942.9H840.1V944.2H843.1V946.9H846.0V935.6H848.9V953.1H851.8V952.0H854.8V943.7H857.7V953.8H860.6V956.4H863.5V952.1H866.4V945.1H869.4V958.9H872.3V961.9H875.2V962.8H878.1V967.9H881.1V960.3H884.0V961.3H886.9V958.6H889.8V960.3H892.7V959.4H895.7V966.4H898.6V967.3H901.5V971.7H904.4V973.2H907.4V964.3H910.3V970.9H913.2V968.3H916.1V969.3H919.0V970.7H922.0V968.3H924.9V960.3H927.8V959.5H930.7V957.0H933.7V956.3H936.6V954.2H939.5V958.5H942.4V962.5H945.3V968.7H948.3V974.3H951.2V969.2H954.1V969.2H957.0V972.8H959.9V966.9H962.9V974.2H965.8V964.5H968.7V977.2H971.6V981.4H974.6V976.1H977.5V987.1H980.4V984.1H983.3V989.8H986.2V989.0H989.2V993.8H992.1V996.1H995.0V1003.2H997.9V1002.8H1000.9V1002.2H1003.8V1007.6H1006.7V1007.0H1009.6V1000.5H1012.5V1012.2H1015.5V1014.2H1018.4V1011.5H1021.3V1020.7H1024.2V1021.1H1027.2V1020.7H1030.1V1021.9H1033.0V1022.7H1035.9V1021.0H1038.8V1022.0H1041.8V1022.9H1044.7V1020.1H1047.6V1020.8H1050.5V1024.8Z" fill="#79acd3"/><path d="M437.1,1024.8V898.5h2V1024.8zM440.0,1024.8V896.8h2V1024.8zM443.0,1024.8V901.7h2V1024.8zM445.9,1024.8V907.1h2V1024.8zM448.8,1024.8V898.3h2V1024.8zM451.7,1024.8V898.4h2V1024.8zM454.6,1024.8V890.0h2V1024.8zM457.6,1024.8V907.5h2V1024.8zM460.5,1024.8V903.4h2V1024.8zM463.4,1024.8V903.9h2V1024.8zM466.3,1024.8V905.6h2V1024.8zM469.3,1024.8V921.0h2V1024.8zM472.2,1024.8V930.2h2V1024.8zM475.1,1024.8V931.5h2V1024.8zM478.0,1024.8V939.1h2V1024.8zM480.9,1024.8V946.8h2V1024.8zM483.9,1024.8V943.5h2V1024.8zM486.8,1024.8V938.8h2V1024.8zM489.7,1024.8V942.6h2V1024.8zM492.6,1024.8V933.3h2V1024.8zM495.6,1024.8V939.9h2V1024.8zM498.5,1024.8V936.6h2V1024.8zM501.4,1024.8V927.8h2V1024.8zM504.3,1024.8V938.9h2V1024.8zM507.2,1024.8V936.9h2V1024.8zM510.2,1024.8V936.0h2V1024.8zM513.1,1024.8V936.2h2V1024.8zM516.0,1024.8V941.6h2V1024.8zM518.9,1024.8V937.4h2V1024.8zM521.8,1024.8V933.6h2V1024.8zM524.8,1024.8V947.0h2V1024.8zM527.7,1024.8V939.2h2V1024.8zM530.6,1024.8V945.8h2V1024.8zM533.5,1024.8V941.6h2V1024.8zM536.5,1024.8V946.1h2V1024.8zM539.4,1024.8V952.5h2V1024.8zM542.3,1024.8V960.4h2V1024.8zM545.2,1024.8V956.3h2V1024.8zM548.1,1024.8V955.1h2V1024.8zM551.1,1024.8V951.4h2V1024.8zM554.0,1024.8V956.0h2V1024.8zM556.9,1024.8V959.3h2V1024.8zM559.8,1024.8V959.4h2V1024.8zM562.8,1024.8V960.9h2V1024.8zM565.7,1024.8V972.1h2V1024.8zM568.6,1024.8V972.0h2V1024.8zM571.5,1024.8V973.0h2V1024.8zM574.4,1024.8V969.9h2V1024.8zM577.4,1024.8V973.1h2V1024.8zM580.3,1024.8V973.1h2V1024.8zM583.2,1024.8V974.2h2V1024.8zM586.1,1024.8V973.1h2V1024.8zM589.1,1024.8V974.8h2V1024.8zM592.0,1024.8V984.5h2V1024.8zM594.9,1024.8V985.2h2V1024.8zM597.8,1024.8V982.7h2V1024.8zM600.7,1024.8V990.2h2V1024.8zM603.7,1024.8V985.9h2V1024.8zM606.6,1024.8V984.8h2V1024.8zM609.5,1024.8V981.6h2V1024.8zM612.4,1024.8V983.8h2V1024.8zM615.4,1024.8V987.2h2V1024.8zM618.3,1024.8V988.8h2V1024.8zM621.2,1024.8V990.4h2V1024.8zM624.1,1024.8V982.9h2V1024.8zM627.0,1024.8V973.4h2V1024.8zM630.0,1024.8V982.1h2V1024.8zM632.9,1024.8V980.9h2V1024.8zM635.8,1024.8V983.0h2V1024.8zM638.7,1024.8V983.2h2V1024.8zM641.7,1024.8V985.9h2V1024.8zM644.6,1024.8V982.6h2V1024.8zM647.5,1024.8V982.3h2V1024.8zM650.4,1024.8V975.1h2V1024.8zM653.3,1024.8V974.2h2V1024.8zM656.3,1024.8V974.5h2V1024.8zM659.2,1024.8V971.1h2V1024.8zM662.1,1024.8V973.2h2V1024.8zM665.0,1024.8V967.7h2V1024.8zM667.9,1024.8V972.9h2V1024.8zM670.9,1024.8V972.8h2V1024.8zM673.8,1024.8V980.4h2V1024.8zM676.7,1024.8V972.6h2V1024.8zM679.6,1024.8V966.9h2V1024.8zM682.6,1024.8V972.5h2V1024.8zM685.5,1024.8V961.2h2V1024.8zM688.4,1024.8V962.3h2V1024.8zM691.3,1024.8V955.5h2V1024.8zM694.2,1024.8V945.0h2V1024.8zM697.2,1024.8V956.0h2V1024.8zM700.1,1024.8V954.7h2V1024.8zM703.0,1024.8V950.9h2V1024.8zM705.9,1024.8V948.1h2V1024.8zM708.9,1024.8V948.8h2V1024.8zM711.8,1024.8V940.9h2V1024.8zM714.7,1024.8V941.4h2V1024.8zM717.6,1024.8V936.6h2V1024.8zM720.5,1024.8V946.6h2V1024.8zM723.5,1024.8V943.3h2V1024.8zM726.4,1024.8V943.4h2V1024.8zM729.3,1024.8V947.8h2V1024.8zM732.2,1024.8V936.4h2V1024.8zM735.2,1024.8V945.8h2V1024.8zM738.1,1024.8V938.1h2V1024.8zM741.0,1024.8V942.5h2V1024.8zM743.9,1024.8V944.1h2V1024.8zM746.8,1024.8V948.0h2V1024.8zM749.8,1024.8V947.2h2V1024.8zM752.7,1024.8V955.8h2V1024.8zM755.6,1024.8V945.7h2V1024.8zM758.5,1024.8V946.9h2V1024.8zM761.5,1024.8V954.5h2V1024.8zM764.4,1024.8V940.3h2V1024.8zM767.3,1024.8V948.6h2V1024.8zM770.2,1024.8V936.6h2V1024.8zM773.1,1024.8V941.5h2V1024.8zM776.1,1024.8V932.9h2V1024.8zM779.0,1024.8V932.8h2V1024.8zM781.9,1024.8V937.2h2V1024.8zM784.8,1024.8V922.0h2V1024.8zM787.8,1024.8V918.8h2V1024.8zM790.7,1024.8V923.6h2V1024.8zM793.6,1024.8V926.4h2V1024.8zM796.5,1024.8V929.2h2V1024.8zM799.4,1024.8V933.3h2V1024.8zM802.4,1024.8V924.8h2V1024.8zM805.3,1024.8V932.6h2V1024.8zM808.2,1024.8V931.0h2V1024.8zM811.1,1024.8V934.6h2V1024.8zM814.0,1024.8V934.7h2V1024.8zM817.0,1024.8V938.8h2V1024.8zM819.9,1024.8V929.7h2V1024.8zM822.8,1024.8V937.5h2V1024.8zM825.7,1024.8V934.4h2V1024.8zM828.7,1024.8V939.5h2V1024.8zM831.6,1024.8V943.6h2V1024.8zM834.5,1024.8V943.2h2V1024.8zM837.4,1024.8V942.9h2V1024.8zM840.3,1024.8V944.2h2V1024.8zM843.3,1024.8V946.9h2V1024.8zM846.2,1024.8V935.6h2V1024.8zM849.1,1024.8V953.1h2V1024.8zM852.0,1024.8V952.0h2V1024.8zM855.0,1024.8V943.7h2V1024.8zM857.9,1024.8V953.8h2V1024.8zM860.8,1024.8V956.4h2V1024.8zM863.7,1024.8V952.1h2V1024.8zM866.6,1024.8V945.1h2V1024.8zM869.6,1024.8V958.9h2V1024.8zM872.5,1024.8V961.9h2V1024.8zM875.4,1024.8V962.8h2V1024.8zM878.3,1024.8V967.9h2V1024.8zM881.3,1024.8V960.3h2V1024.8zM884.2,1024.8V961.3h2V1024.8zM887.1,1024.8V958.6h2V1024.8zM890.0,1024.8V960.3h2V1024.8zM892.9,1024.8V959.4h2V1024.8zM895.9,1024.8V966.4h2V1024.8zM898.8,1024.8V967.3h2V1024.8zM901.7,1024.8V971.7h2V1024.8zM904.6,1024.8V973.2h2V1024.8zM907.6,1024.8V964.3h2V1024.8zM910.5,1024.8V970.9h2V1024.8zM913.4,1024.8V968.3h2V1024.8zM916.3,1024.8V969.3h2V1024.8zM919.2,1024.8V970.7h2V1024.8zM922.2,1024.8V968.3h2V1024.8zM925.1,1024.8V960.3h2V1024.8zM928.0,1024.8V959.5h2V1024.8zM930.9,1024.8V957.0h2V1024.8zM933.9,1024.8V956.3h2V1024.8z" fill="#3f88c2"/><path d="M416.5,1024.8V1013.8H419.4V1011.2H422.3V1011.5H425.2V1007.3H428.1V1004.6H431.1V1005.8H434.0V1000.0H436.9V985.9H439.8V974.6H442.8V975.6H445.7V976.5H448.6V976.9H451.5V961.0H454.4V969.0H457.4V964.0H460.3V958.4H463.2V944.8H466.1V958.9H469.1V955.8H472.0V960.9H474.9V957.9H477.8V949.3H480.7V946.4H483.7V947.9H486.6V947.8H489.5V944.6H492.4V941.1H495.4V937.4H498.3V935.6H501.2V942.7H504.1V936.0H507.0V926.6H510.0V932.6H512.9V931.8H515.8V934.5H518.7V929.4H521.6V939.6H524.6V940.6H527.5V924.7H530.4V937.1H533.3V934.5H536.3V935.5H539.2V921.7H542.1V918.3H545.0V926.5H547.9V925.4H550.9V937.2H553.8V925.5H556.7V929.2H559.6V924.7H562.6V920.2H565.5V923.3H568.4V920.4H571.3V917.8H574.2V922.0H577.2V920.1H580.1V921.4H583.0V920.2H585.9V924.0H588.9V897.3H591.8V902.9H594.7V895.7H597.6V887.1H600.5V890.2H603.5V894.9H606.4V889.3H609.3V890.1H612.2V873.0H615.2V881.6H618.1V894.8H621.0V886.1H623.9V899.2H626.8V886.9H629.8V886.1H632.7V880.4H635.6V872.4H638.5V874.1H641.5V873.5H644.4V872.6H647.3V866.5H650.2V858.6H653.1V858.6H656.1V855.1H659.0V864.5H661.9V871.1H664.8V858.0H667.7V864.7H670.7V863.0H673.6V862.5H676.5V857.2H679.4V856.8H682.4V851.3H685.3V856.0H688.2V853.5H691.1V839.7H694.0V854.9H697.0V854.7H699.9V842.4H702.8V855.4H705.7V863.1H708.7V853.8H711.6V846.6H714.5V849.8H717.4V837.9H720.3V844.0H723.3V860.0H726.2V853.8H729.1V863.4H732.0V844.7H735.0V871.6H737.9V864.2H740.8V862.8H743.7V855.3H746.6V855.1H749.6V847.8H752.5V862.3H755.4V845.7H758.3V852.5H761.3V858.1H764.2V854.6H767.1V866.2H770.0V875.1H772.9V867.7H775.9V876.4H778.8V879.7H781.7V893.3H784.6V902.5H787.6V895.4H790.5V920.3H793.4V929.3H796.3V931.3H799.2V941.2H802.2V950.9H805.1V963.0H808.0V975.6H810.9V981.3H813.8V981.1H816.8V986.4H819.7V987.4H822.6V990.4H825.5V991.7H828.5V996.1H831.4V996.3H834.3V1001.1H837.2V1004.1H840.1V1007.1H843.1V1013.2H846.0V1013.2H848.9V1015.0H851.8V1016.1H854.8V1019.5H857.7V1016.2H860.6V1018.8H863.5V1021.0H866.4V1022.3H869.4V1021.0H872.3V1015.1H875.2V1021.6H878.1V1019.5H881.1V1019.5H884.0V1017.8H886.9V1019.5H889.8V1018.7H892.7V1017.4H895.7V1015.5H898.6V1020.1H901.5V1019.5H904.4V1020.0H907.4V1018.0H910.3V1020.5H913.2V1019.7H916.1V1019.2H919.0V1020.5H922.0V1020.5H924.9V1019.8H927.8V1024.8Z" fill="#e27678"/><path d="M416.7,1024.8V1013.8h2V1024.8zM419.6,1024.8V1011.2h2V1024.8zM422.5,1024.8V1011.5h2V1024.8zM425.4,1024.8V1007.3h2V1024.8zM428.3,1024.8V1004.6h2V1024.8zM431.3,1024.8V1005.8h2V1024.8zM434.2,1024.8V1000.0h2V1024.8zM437.1,1024.8V985.9h2V1024.8zM440.0,1024.8V974.6h2V1024.8zM443.0,1024.8V975.6h2V1024.8zM445.9,1024.8V976.5h2V1024.8zM448.8,1024.8V976.9h2V1024.8zM451.7,1024.8V961.0h2V1024.8zM454.6,1024.8V969.0h2V1024.8zM457.6,1024.8V964.0h2V1024.8zM460.5,1024.8V958.4h2V1024.8zM463.4,1024.8V944.8h2V1024.8zM466.3,1024.8V958.9h2V1024.8zM469.3,1024.8V955.8h2V1024.8zM472.2,1024.8V960.9h2V1024.8zM475.1,1024.8V957.9h2V1024.8zM478.0,1024.8V949.3h2V1024.8zM480.9,1024.8V946.4h2V1024.8zM483.9,1024.8V947.9h2V1024.8zM486.8,1024.8V947.8h2V1024.8zM489.7,1024.8V944.6h2V1024.8zM492.6,1024.8V941.1h2V1024.8zM495.6,1024.8V937.4h2V1024.8zM498.5,1024.8V935.6h2V1024.8zM501.4,1024.8V942.7h2V1024.8zM504.3,1024.8V936.0h2V1024.8zM507.2,1024.8V926.6h2V1024.8zM510.2,1024.8V932.6h2V1024.8zM513.1,1024.8V931.8h2V1024.8zM516.0,1024.8V934.5h2V1024.8zM518.9,1024.8V929.4h2V1024.8zM521.8,1024.8V939.6h2V1024.8zM524.8,1024.8V940.6h2V1024.8zM527.7,1024.8V924.7h2V1024.8zM530.6,1024.8V937.1h2V1024.8zM533.5,1024.8V934.5h2V1024.8zM536.5,1024.8V935.5h2V1024.8zM539.4,1024.8V921.7h2V1024.8zM542.3,1024.8V918.3h2V1024.8zM545.2,1024.8V926.5h2V1024.8zM548.1,1024.8V925.4h2V1024.8zM551.1,1024.8V937.2h2V1024.8zM554.0,1024.8V925.5h2V1024.8zM556.9,1024.8V929.2h2V1024.8zM559.8,1024.8V924.7h2V1024.8zM562.8,1024.8V920.2h2V1024.8zM565.7,1024.8V923.3h2V1024.8zM568.6,1024.8V920.4h2V1024.8zM571.5,1024.8V917.8h2V1024.8zM574.4,1024.8V922.0h2V1024.8zM577.4,1024.8V920.1h2V1024.8zM580.3,1024.8V921.4h2V1024.8zM583.2,1024.8V920.2h2V1024.8zM586.1,1024.8V924.0h2V1024.8zM589.1,1024.8V897.3h2V1024.8zM592.0,1024.8V902.9h2V1024.8zM594.9,1024.8V895.7h2V1024.8zM796.5,1024.8V931.3h2V1024.8zM799.4,1024.8V941.2h2V1024.8zM802.4,1024.8V950.9h2V1024.8zM805.3,1024.8V963.0h2V1024.8zM808.2,1024.8V975.6h2V1024.8zM811.1,1024.8V981.3h2V1024.8zM814.0,1024.8V981.1h2V1024.8zM817.0,1024.8V986.4h2V1024.8zM819.9,1024.8V987.4h2V1024.8zM822.8,1024.8V990.4h2V1024.8zM825.7,1024.8V991.7h2V1024.8zM828.7,1024.8V996.1h2V1024.8zM831.6,1024.8V996.3h2V1024.8zM834.5,1024.8V1001.1h2V1024.8zM837.4,1024.8V1004.1h2V1024.8zM840.3,1024.8V1007.1h2V1024.8zM843.3,1024.8V1013.2h2V1024.8zM846.2,1024.8V1013.2h2V1024.8zM849.1,1024.8V1015.0h2V1024.8zM852.0,1024.8V1016.1h2V1024.8zM855.0,1024.8V1019.5h2V1024.8zM857.9,1024.8V1016.2h2V1024.8zM860.8,1024.8V1018.8h2V1024.8zM863.7,1024.8V1021.0h2V1024.8zM866.6,1024.8V1022.3h2V1024.8zM869.6,1024.8V1021.0h2V1024.8zM872.5,1024.8V1015.1h2V1024.8zM875.4,1024.8V1021.6h2V1024.8zM878.3,1024.8V1019.5h2V1024.8zM881.3,1024.8V1019.5h2V1024.8zM884.2,1024.8V1017.8h2V1024.8zM887.1,1024.8V1019.5h2V1024.8zM890.0,1024.8V1018.7h2V1024.8zM892.9,1024.8V1017.4h2V1024.8zM895.9,1024.8V1015.5h2V1024.8zM898.8,1024.8V1020.1h2V1024.8zM901.7,1024.8V1019.5h2V1024.8zM904.6,1024.8V1020.0h2V1024.8zM907.6,1024.8V1018.0h2V1024.8zM910.5,1024.8V1020.5h2V1024.8zM913.4,1024.8V1019.7h2V1024.8zM916.3,1024.8V1019.2h2V1024.8zM919.2,1024.8V1020.5h2V1024.8zM922.2,1024.8V1020.5h2V1024.8zM925.1,1024.8V1019.8h2V1024.8z" fill="#d3353d"/><path d="M416.5,1024.8V1013.8H419.4V1011.2H422.3V1011.5H425.2V1007.3H428.1V1004.6H431.1V1005.8H434.0V1000.0H436.9V985.9H439.8V974.6H442.8V975.6H445.7V976.5H448.6V976.9H451.5V961.0H454.4V969.0H457.4V964.0H460.3V958.4H463.2V944.8H466.1V958.9H469.1V955.8H472.0V960.9H474.9V957.9H477.8V949.3H480.7V946.8H483.7V947.9H486.6V947.8H489.5V944.6H492.4V941.1H495.4V939.9H498.3V936.6H501.2V942.7H504.1V938.9H507.0V936.9H510.0V936.0H512.9V936.2H515.8V941.6H518.7V937.4H521.6V939.6H524.6V947.0H527.5V939.2H530.4V945.8H533.3V941.6H536.3V946.1H539.2V952.5H542.1V960.4H545.0V956.3H547.9V955.1H550.9V951.4H553.8V956.0H556.7V959.3H559.6V959.4H562.6V960.9H565.5V972.1H568.4V972.0H571.3V973.0H574.2V969.9H577.2V973.1H580.1V973.1H583.0V974.2H585.9V973.1H588.9V974.8H591.8V984.5H594.7V985.2H597.6V982.7H600.5V990.2H603.5V985.9H606.4V984.8H609.3V981.6H612.2V983.8H615.2V987.2H618.1V988.8H621.0V990.4H623.9V982.9H626.8V973.4H629.8V982.1H632.7V980.9H635.6V983.0H638.5V983.2H641.5V985.9H644.4V982.6H647.3V982.3H650.2V975.1H653.1V974.2H656.1V974.5H659.0V971.1H661.9V973.2H664.8V967.7H667.7V972.9H670.7V972.8H673.6V980.4H676.5V972.6H679.4V966.9H682.4V972.5H685.3V961.2H688.2V962.3H691.1V955.5H694.0V945.0H697.0V956.0H699.9V954.7H702.8V950.9H705.7V948.1H708.7V948.8H711.6V940.9H714.5V941.4H717.4V936.6H720.3V946.6H723.3V943.3H726.2V943.4H729.1V947.8H732.0V936.4H735.0V945.8H737.9V938.1H740.8V942.5H743.7V944.1H746.6V948.0H749.6V947.2H752.5V955.8H755.4V945.7H758.3V946.9H761.3V954.5H764.2V940.3H767.1V948.6H770.0V936.6H772.9V941.5H775.9V932.9H778.8V932.8H781.7V937.2H784.6V922.0H787.6V918.8H790.5V923.6H793.4V929.3H796.3V931.3H799.2V941.2H802.2V950.9H805.1V963.0H808.0V975.6H810.9V981.3H813.8V981.1H816.8V986.4H819.7V987.4H822.6V990.4H825.5V991.7H828.5V996.1H831.4V996.3H834.3V1001.1H837.2V1004.1H840.1V1007.1H843.1V1013.2H846.0V1013.2H848.9V1015.0H851.8V1016.1H854.8V1019.5H857.7V1016.2H860.6V1018.8H863.5V1021.0H866.4V1022.3H869.4V1021.0H872.3V1015.1H875.2V1021.6H878.1V1019.5H881.1V1019.5H884.0V1017.8H886.9V1019.5H889.8V1018.7H892.7V1017.4H895.7V1015.5H898.6V1020.1H901.5V1019.5H904.4V1020.0H907.4V1018.0H910.3V1020.5H913.2V1019.7H916.1V1019.2H919.0V1020.5H922.0V1020.5H924.9V1019.8H927.8V1024.8Z" fill="#b8606e"/><path d="M416.7,1024.8V1013.8h2.1V1024.8zM419.6,1024.8V1011.2h2.1V1024.8zM422.5,1024.8V1011.5h2.1V1024.8zM425.4,1024.8V1007.3h2.1V1024.8zM428.3,1024.8V1004.6h2.1V1024.8zM431.3,1024.8V1005.8h2.1V1024.8zM434.2,1024.8V1000.0h2.1V1024.8zM437.1,1024.8V985.9h2.1V1024.8zM440.0,1024.8V974.6h2.1V1024.8zM443.0,1024.8V975.6h2.1V1024.8zM445.9,1024.8V976.5h2.1V1024.8zM448.8,1024.8V976.9h2.1V1024.8zM451.7,1024.8V961.0h2.1V1024.8zM454.6,1024.8V969.0h2.1V1024.8zM457.6,1024.8V964.0h2.1V1024.8zM460.5,1024.8V958.4h2.1V1024.8zM463.4,1024.8V944.8h2.1V1024.8zM466.3,1024.8V958.9h2.1V1024.8zM469.3,1024.8V955.8h2.1V1024.8zM472.2,1024.8V960.9h2.1V1024.8zM475.1,1024.8V957.9h2.1V1024.8zM478.0,1024.8V949.3h2.1V1024.8zM480.9,1024.8V946.8h2.1V1024.8zM483.9,1024.8V947.9h2.1V1024.8zM486.8,1024.8V947.8h2.1V1024.8zM489.7,1024.8V944.6h2.1V1024.8zM492.6,1024.8V941.1h2.1V1024.8zM495.6,1024.8V939.9h2.1V1024.8zM498.5,1024.8V936.6h2.1V1024.8zM501.4,1024.8V942.7h2.1V1024.8zM504.3,1024.8V938.9h2.1V1024.8zM507.2,1024.8V936.9h2.1V1024.8zM510.2,1024.8V936.0h2.1V1024.8zM513.1,1024.8V936.2h2.1V1024.8zM516.0,1024.8V941.6h2.1V1024.8zM518.9,1024.8V937.4h2.1V1024.8zM521.8,1024.8V939.6h2.1V1024.8zM524.8,1024.8V947.0h2.1V1024.8zM527.7,1024.8V939.2h2.1V1024.8zM530.6,1024.8V945.8h2.1V1024.8zM533.5,1024.8V941.6h2.1V1024.8zM536.5,1024.8V946.1h2.1V1024.8zM539.4,1024.8V952.5h2.1V1024.8zM542.3,1024.8V960.4h2.1V1024.8zM545.2,1024.8V956.3h2.1V1024.8zM548.1,1024.8V955.1h2.1V1024.8zM551.1,1024.8V951.4h2.1V1024.8zM554.0,1024.8V956.0h2.1V1024.8zM556.9,1024.8V959.3h2.1V1024.8zM559.8,1024.8V959.4h2.1V1024.8zM562.8,1024.8V960.9h2.1V1024.8zM565.7,1024.8V972.1h2.1V1024.8zM568.6,1024.8V972.0h2.1V1024.8zM571.5,1024.8V973.0h2.1V1024.8zM574.4,1024.8V969.9h2.1V1024.8zM577.4,1024.8V973.1h2.1V1024.8zM580.3,1024.8V973.1h2.1V1024.8zM583.2,1024.8V974.2h2.1V1024.8zM586.1,1024.8V973.1h2.1V1024.8zM589.1,1024.8V974.8h2.1V1024.8zM592.0,1024.8V984.5h2.1V1024.8zM594.9,1024.8V985.2h2.1V1024.8zM597.8,1024.8V982.7h2.1V1024.8zM600.7,1024.8V990.2h2.1V1024.8zM603.7,1024.8V985.9h2.1V1024.8zM606.6,1024.8V984.8h2.1V1024.8zM609.5,1024.8V981.6h2.1V1024.8zM612.4,1024.8V983.8h2.1V1024.8zM615.4,1024.8V987.2h2.1V1024.8zM618.3,1024.8V988.8h2.1V1024.8zM621.2,1024.8V990.4h2.1V1024.8zM624.1,1024.8V982.9h2.1V1024.8zM627.0,1024.8V973.4h2.1V1024.8zM630.0,1024.8V982.1h2.1V1024.8zM632.9,1024.8V980.9h2.1V1024.8zM635.8,1024.8V983.0h2.1V1024.8zM638.7,1024.8V983.2h2.1V1024.8zM641.7,1024.8V985.9h2.1V1024.8zM644.6,1024.8V982.6h2.1V1024.8zM647.5,1024.8V982.3h2.1V1024.8zM650.4,1024.8V975.1h2.1V1024.8zM653.3,1024.8V974.2h2.1V1024.8zM656.3,1024.8V974.5h2.1V1024.8zM659.2,1024.8V971.1h2.1V1024.8zM662.1,1024.8V973.2h2.1V1024.8zM665.0,1024.8V967.7h2.1V1024.8zM667.9,1024.8V972.9h2.1V1024.8zM670.9,1024.8V972.8h2.1V1024.8zM673.8,1024.8V980.4h2.1V1024.8zM676.7,1024.8V972.6h2.1V1024.8zM679.6,1024.8V966.9h2.1V1024.8zM682.6,1024.8V972.5h2.1V1024.8zM685.5,1024.8V961.2h2.1V1024.8zM688.4,1024.8V962.3h2.1V1024.8zM691.3,1024.8V955.5h2.1V1024.8zM694.2,1024.8V945.0h2.1V1024.8zM697.2,1024.8V956.0h2.1V1024.8zM700.1,1024.8V954.7h2.1V1024.8zM703.0,1024.8V950.9h2.1V1024.8zM705.9,1024.8V948.1h2.1V1024.8zM708.9,1024.8V948.8h2.1V1024.8zM711.8,1024.8V940.9h2.1V1024.8zM714.7,1024.8V941.4h2.1V1024.8zM717.6,1024.8V936.6h2.1V1024.8zM720.5,1024.8V946.6h2.1V1024.8zM723.5,1024.8V943.3h2.1V1024.8zM726.4,1024.8V943.4h2.1V1024.8zM729.3,1024.8V947.8h2.1V1024.8zM732.2,1024.8V936.4h2.1V1024.8zM735.2,1024.8V945.8h2.1V1024.8zM738.1,1024.8V938.1h2.1V1024.8zM741.0,1024.8V942.5h2.1V1024.8zM743.9,1024.8V944.1h2.1V1024.8zM746.8,1024.8V948.0h2.1V1024.8zM749.8,1024.8V947.2h2.1V1024.8zM752.7,1024.8V955.8h2.1V1024.8zM755.6,1024.8V945.7h2.1V1024.8zM758.5,1024.8V946.9h2.1V1024.8zM761.5,1024.8V954.5h2.1V1024.8zM764.4,1024.8V940.3h2.1V1024.8zM767.3,1024.8V948.6h2.1V1024.8zM770.2,1024.8V936.6h2.1V1024.8zM773.1,1024.8V941.5h2.1V1024.8zM776.1,1024.8V932.9h2.1V1024.8zM779.0,1024.8V932.8h2.1V1024.8zM781.9,1024.8V937.2h2.1V1024.8zM784.8,1024.8V922.0h2.1V1024.8zM787.8,1024.8V918.8h2.1V1024.8zM790.7,1024.8V923.6h2.1V1024.8zM793.6,1024.8V929.3h2.1V1024.8zM796.5,1024.8V931.3h2.1V1024.8zM799.4,1024.8V941.2h2.1V1024.8zM802.4,1024.8V950.9h2.1V1024.8zM805.3,1024.8V963.0h2.1V1024.8zM808.2,1024.8V975.6h2.1V1024.8zM811.1,1024.8V981.3h2.1V1024.8zM814.0,1024.8V981.1h2.1V1024.8zM817.0,1024.8V986.4h2.1V1024.8zM819.9,1024.8V987.4h2.1V1024.8zM822.8,1024.8V990.4h2.1V1024.8zM825.7,1024.8V991.7h2.1V1024.8zM828.7,1024.8V996.1h2.1V1024.8zM831.6,1024.8V996.3h2.1V1024.8zM834.5,1024.8V1001.1h2.1V1024.8zM837.4,1024.8V1004.1h2.1V1024.8zM840.3,1024.8V1007.1h2.1V1024.8zM843.3,1024.8V1013.2h2.1V1024.8zM846.2,1024.8V1013.2h2.1V1024.8zM849.1,1024.8V1015.0h2.1V1024.8zM852.0,1024.8V1016.1h2.1V1024.8zM855.0,1024.8V1019.5h2.1V1024.8zM857.9,1024.8V1016.2h2.1V1024.8zM860.8,1024.8V1018.8h2.1V1024.8zM863.7,1024.8V1021.0h2.1V1024.8zM866.6,1024.8V1022.3h2.1V1024.8zM869.6,1024.8V1021.0h2.1V1024.8zM872.5,1024.8V1015.1h2.1V1024.8zM875.4,1024.8V1021.6h2.1V1024.8zM878.3,1024.8V1019.5h2.1V1024.8zM881.3,1024.8V1019.5h2.1V1024.8zM884.2,1024.8V1017.8h2.1V1024.8zM887.1,1024.8V1019.5h2.1V1024.8zM890.0,1024.8V1018.7h2.1V1024.8zM892.9,1024.8V1017.4h2.1V1024.8zM895.9,1024.8V1015.5h2.1V1024.8zM898.8,1024.8V1020.1h2.1V1024.8zM901.7,1024.8V1019.5h2.1V1024.8zM904.6,1024.8V1020.0h2.1V1024.8zM907.6,1024.8V1018.0h2.1V1024.8zM910.5,1024.8V1020.5h2.1V1024.8zM913.4,1024.8V1019.7h2.1V1024.8zM916.3,1024.8V1019.2h2.1V1024.8zM919.2,1024.8V1020.5h2.1V1024.8zM922.2,1024.8V1020.5h2.1V1024.8zM925.1,1024.8V1019.8h2.1V1024.8z" fill="#c1313a"/><rect x="362.4" y="681.4" width="730.50" height="343.40" fill="none" stroke="#000" stroke-width="3"/><g stroke="#000" stroke-width="2.6"><line x1="362.40" x2="362.40" y1="1024.8" y2="1035.8"/><line x1="508.50" x2="508.50" y1="1024.8" y2="1035.8"/><line x1="654.60" x2="654.60" y1="1024.8" y2="1035.8"/><line x1="800.70" x2="800.70" y1="1024.8" y2="1035.8"/><line x1="946.80" x2="946.80" y1="1024.8" y2="1035.8"/><line x1="1092.90" x2="1092.90" y1="1024.8" y2="1035.8"/><line y1="1024.80" y2="1024.80" x1="362.4" x2="351.4"/><line y1="861.30" y2="861.30" x1="362.4" x2="351.4"/><line y1="697.80" y2="697.80" x1="362.4" x2="351.4"/></g><rect x="880.9" y="695.4" width="197.8" height="91" rx="5" fill="#fff" fill-opacity="0.8" stroke="#d4d4d4" stroke-width="2"/><rect x="892.9" y="707.3" width="29.3" height="20.7" fill="#78a9d2"/><rect x="892.9" y="748.9" width="29.3" height="20.1" fill="#e47a7b"/><line x1="435.4" x2="516.9" y1="748" y2="748" stroke="#2474b4" stroke-width="1.7"/><g stroke="#2474b4" stroke-width="1.6" fill="none"><line x1="439.6" x2="439.6" y1="720" y2="745.8"/><line x1="513.1" x2="513.1" y1="720" y2="745.8"/><polyline points="452.3,720.4 446.6,733.1 452.3,745.8"/><polyline points="500.4,720.4 505.8,733.1 500.4,745.8"/></g><text x="455.00" y="739.35" font-size="24.68" font-style="italic" font-weight="bold" fill="#2474b4" textLength="21.80" lengthAdjust="spacingAndGlyphs">w</text><text x="481.66" y="730.80" font-size="21.06" font-style="italic" fill="#2474b4" textLength="14.04" lengthAdjust="spacingAndGlyphs">A</text><text x="464.23" y="771.45" font-size="23.50" font-style="italic" fill="#2474b4" textLength="13.95" lengthAdjust="spacingAndGlyphs">ρ</text><text x="476.79" y="775.60" font-size="20.00" fill="#2474b4" textLength="11.43" lengthAdjust="spacingAndGlyphs">0</text><g stroke="#2474b4" stroke-width="1.6"><line x1="533" x2="558.8" y1="744.9" y2="744.9"/><line x1="533" x2="558.8" y1="752" y2="752"/></g><text x="560.26" y="758.50" font-size="40.15" fill="#2474b4" textLength="67.32" lengthAdjust="spacingAndGlyphs">0.64</text><line x1="660.0" x2="741.5" y1="748" y2="748" stroke="#d62728" stroke-width="1.7"/><g stroke="#d62728" stroke-width="1.6" fill="none"><line x1="664.2" x2="664.2" y1="720" y2="745.8"/><line x1="737.7" x2="737.7" y1="720" y2="745.8"/><polyline points="676.9,720.4 671.2,733.1 676.9,745.8"/><polyline points="725.0,720.4 730.4,733.1 725.0,745.8"/></g><text x="679.60" y="739.35" font-size="24.68" font-style="italic" font-weight="bold" fill="#d62728" textLength="21.80" lengthAdjust="spacingAndGlyphs">w</text><text x="704.72" y="730.69" font-size="21.06" font-style="italic" fill="#d62728" textLength="16.96" lengthAdjust="spacingAndGlyphs">B</text><text x="688.83" y="771.45" font-size="23.50" font-style="italic" fill="#d62728" textLength="13.95" lengthAdjust="spacingAndGlyphs">ρ</text><text x="701.39" y="775.60" font-size="20.00" fill="#d62728" textLength="11.43" lengthAdjust="spacingAndGlyphs">0</text><g stroke="#d62728" stroke-width="1.6"><line x1="757.6" x2="783.4" y1="744.9" y2="744.9"/><line x1="757.6" x2="783.4" y1="752" y2="752"/></g><text x="784.86" y="758.50" font-size="40.15" fill="#d62728" textLength="67.32" lengthAdjust="spacingAndGlyphs">0.54</text><text x="-2.49" y="26.38" font-size="40.11" textLength="14.76" lengthAdjust="spacingAndGlyphs">(</text><text x="10.67" y="27.31" font-size="38.54" font-style="italic" textLength="20.58" lengthAdjust="spacingAndGlyphs">a</text><text x="29.92" y="26.38" font-size="40.11" textLength="14.22" lengthAdjust="spacingAndGlyphs">)</text><text x="140.18" y="31.53" font-size="38.46" textLength="254.29" lengthAdjust="spacingAndGlyphs">particle density</text><text x="409.47" y="31.88" font-size="36.35" font-style="italic" textLength="18.59" lengthAdjust="spacingAndGlyphs">ρ</text><text x="427.96" y="17.77" font-size="23.12" font-style="italic" textLength="13.95" lengthAdjust="spacingAndGlyphs">a</text><text x="445.40" y="40.93" font-size="57.16" textLength="14.45" lengthAdjust="spacingAndGlyphs">/</text><text x="463.85" y="31.88" font-size="36.35" font-style="italic" textLength="18.19" lengthAdjust="spacingAndGlyphs">ρ</text><text x="481.93" y="17.76" font-size="23.96" font-style="italic" textLength="14.42" lengthAdjust="spacingAndGlyphs">a</text><text x="481.66" y="41.25" font-size="25.19" textLength="14.29" lengthAdjust="spacingAndGlyphs">0</text><text x="742.08" y="31.53" font-size="38.46" textLength="327.10" lengthAdjust="spacingAndGlyphs">polarization density</text><text x="1083.50" y="32.11" font-size="39.36" font-style="italic" font-weight="bold" textLength="29.37" lengthAdjust="spacingAndGlyphs">w</text><text x="1115.63" y="18.26" font-size="23.96" font-style="italic" textLength="14.53" lengthAdjust="spacingAndGlyphs">a</text><text x="1134.00" y="40.92" font-size="57.76" textLength="14.65" lengthAdjust="spacingAndGlyphs">/</text><text x="1152.95" y="32.15" font-size="36.50" font-style="italic" textLength="18.19" lengthAdjust="spacingAndGlyphs">ρ</text><text x="1170.63" y="18.25" font-size="25.00" font-style="italic" textLength="14.53" lengthAdjust="spacingAndGlyphs">a</text><text x="1169.86" y="41.23" font-size="26.67" textLength="14.29" lengthAdjust="spacingAndGlyphs">0</text><text x="89.50" y="487.78" font-size="32.30" textLength="16.63" lengthAdjust="spacingAndGlyphs">0</text><text x="108.18" y="509.60" font-size="32.30" textLength="16.63" lengthAdjust="spacingAndGlyphs">0</text><text x="72.86" y="406.78" font-size="32.30" textLength="33.27" lengthAdjust="spacingAndGlyphs">20</text><text x="180.78" y="509.60" font-size="32.30" textLength="33.27" lengthAdjust="spacingAndGlyphs">20</text><text x="72.86" y="325.78" font-size="32.30" textLength="33.27" lengthAdjust="spacingAndGlyphs">40</text><text x="262.20" y="509.60" font-size="32.30" textLength="33.27" lengthAdjust="spacingAndGlyphs">40</text><text x="72.86" y="244.78" font-size="32.30" textLength="33.27" lengthAdjust="spacingAndGlyphs">60</text><text x="342.87" y="509.60" font-size="32.30" textLength="33.27" lengthAdjust="spacingAndGlyphs">60</text><text x="72.86" y="163.78" font-size="32.30" textLength="33.27" lengthAdjust="spacingAndGlyphs">80</text><text x="423.87" y="509.60" font-size="32.30" textLength="33.27" lengthAdjust="spacingAndGlyphs">80</text><text x="56.23" y="82.78" font-size="32.30" textLength="49.90" lengthAdjust="spacingAndGlyphs">100</text><text x="495.80" y="509.60" font-size="32.30" textLength="49.90" lengthAdjust="spacingAndGlyphs">100</text><text x="296.24" y="556.00" font-size="32.17" font-style="italic" textLength="16.08" lengthAdjust="spacingAndGlyphs">x</text><text x="315.00" y="563.22" font-size="47.76" textLength="12.83" lengthAdjust="spacingAndGlyphs">/</text><text x="329.55" y="555.66" font-size="34.22" font-style="italic" textLength="13.46" lengthAdjust="spacingAndGlyphs">ℓ</text><g transform="rotate(-90)"><text x="-265.24" y="26.84" font-size="35.56" font-style="italic" textLength="13.24" lengthAdjust="spacingAndGlyphs">ℓ</text></g><g transform="rotate(-90)"><text x="-278.90" y="33.72" font-size="47.61" textLength="12.12" lengthAdjust="spacingAndGlyphs">/</text></g><g transform="rotate(-90)"><text x="-294.21" y="26.45" font-size="31.41" font-style="italic" textLength="11.97" lengthAdjust="spacingAndGlyphs">y</text></g><text x="151.05" y="109.94" font-size="31.89" textLength="97.45" lengthAdjust="spacingAndGlyphs">species</text><text x="262.25" y="110.80" font-size="31.52" font-style="italic" textLength="19.42" lengthAdjust="spacingAndGlyphs">A</text><text x="353.85" y="109.94" font-size="31.89" textLength="97.45" lengthAdjust="spacingAndGlyphs">species</text><text x="462.42" y="110.64" font-size="31.21" font-style="italic" textLength="23.38" lengthAdjust="spacingAndGlyphs">B</text><text x="734.80" y="487.78" font-size="32.30" textLength="16.63" lengthAdjust="spacingAndGlyphs">0</text><text x="753.48" y="509.60" font-size="32.30" textLength="16.63" lengthAdjust="spacingAndGlyphs">0</text><text x="718.16" y="406.78" font-size="32.30" textLength="33.27" lengthAdjust="spacingAndGlyphs">20</text><text x="826.08" y="509.60" font-size="32.30" textLength="33.27" lengthAdjust="spacingAndGlyphs">20</text><text x="718.16" y="325.78" font-size="32.30" textLength="33.27" lengthAdjust="spacingAndGlyphs">40</text><text x="907.50" y="509.60" font-size="32.30" textLength="33.27" lengthAdjust="spacingAndGlyphs">40</text><text x="718.16" y="244.78" font-size="32.30" textLength="33.27" lengthAdjust="spacingAndGlyphs">60</text><text x="988.17" y="509.60" font-size="32.30" textLength="33.27" lengthAdjust="spacingAndGlyphs">60</text><text x="718.16" y="163.78" font-size="32.30" textLength="33.27" lengthAdjust="spacingAndGlyphs">80</text><text x="1069.17" y="509.60" font-size="32.30" textLength="33.27" lengthAdjust="spacingAndGlyphs">80</text><text x="701.53" y="82.78" font-size="32.30" textLength="49.90" lengthAdjust="spacingAndGlyphs">100</text><text x="1141.10" y="509.60" font-size="32.30" textLength="49.90" lengthAdjust="spacingAndGlyphs">100</text><text x="941.54" y="556.00" font-size="32.17" font-style="italic" textLength="16.08" lengthAdjust="spacingAndGlyphs">x</text><text x="960.30" y="563.22" font-size="47.76" textLength="12.83" lengthAdjust="spacingAndGlyphs">/</text><text x="974.85" y="555.66" font-size="34.22" font-style="italic" textLength="13.46" lengthAdjust="spacingAndGlyphs">ℓ</text><g transform="rotate(-90)"><text x="-265.24" y="672.14" font-size="35.56" font-style="italic" textLength="13.24" lengthAdjust="spacingAndGlyphs">ℓ</text></g><g transform="rotate(-90)"><text x="-278.90" y="679.02" font-size="47.61" textLength="12.12" lengthAdjust="spacingAndGlyphs">/</text></g><g transform="rotate(-90)"><text x="-294.21" y="671.75" font-size="31.41" font-style="italic" textLength="11.97" lengthAdjust="spacingAndGlyphs">y</text></g><text x="796.35" y="109.94" font-size="31.89" textLength="97.45" lengthAdjust="spacingAndGlyphs">species</text><text x="907.55" y="110.80" font-size="31.52" font-style="italic" textLength="19.42" lengthAdjust="spacingAndGlyphs">A</text><text x="999.15" y="109.94" font-size="31.89" textLength="97.45" lengthAdjust="spacingAndGlyphs">species</text><text x="1107.72" y="110.64" font-size="31.21" font-style="italic" textLength="23.38" lengthAdjust="spacingAndGlyphs">B</text><text x="570.87" y="487.78" font-size="32.30" textLength="16.63" lengthAdjust="spacingAndGlyphs">0</text><text x="569.37" y="311.66" font-size="32.30" textLength="16.63" lengthAdjust="spacingAndGlyphs">1</text><text x="570.70" y="135.46" font-size="32.30" textLength="16.63" lengthAdjust="spacingAndGlyphs">2</text><text x="1216.27" y="487.78" font-size="32.30" textLength="16.63" lengthAdjust="spacingAndGlyphs">0</text><text x="1216.27" y="326.50" font-size="32.30" textLength="41.59" lengthAdjust="spacingAndGlyphs">0.5</text><text x="1215.57" y="165.06" font-size="32.30" textLength="16.63" lengthAdjust="spacingAndGlyphs">1</text><g transform="rotate(-90)"><text x="-324.55" y="1298.54" font-size="39.34" textLength="6.01" lengthAdjust="spacingAndGlyphs">|</text></g><g transform="rotate(-90)"><text x="-316.40" y="1293.21" font-size="29.15" font-style="italic" font-weight="bold" textLength="23.30" lengthAdjust="spacingAndGlyphs">w</text></g><g transform="rotate(-90)"><text x="-291.34" y="1281.10" font-size="20.00" font-style="italic" textLength="12.33" lengthAdjust="spacingAndGlyphs">a</text></g><g transform="rotate(-90)"><text x="-275.85" y="1298.54" font-size="39.34" textLength="6.01" lengthAdjust="spacingAndGlyphs">|</text></g><g transform="rotate(-90)"><text x="-269.50" y="1306.47" font-size="53.43" textLength="14.04" lengthAdjust="spacingAndGlyphs">/</text></g><g transform="rotate(-90)"><text x="-251.81" y="1292.63" font-size="27.30" font-style="italic" textLength="13.34" lengthAdjust="spacingAndGlyphs">ρ</text></g><g transform="rotate(-90)"><text x="-237.50" y="1280.61" font-size="18.96" font-style="italic" textLength="11.74" lengthAdjust="spacingAndGlyphs">a</text></g><g transform="rotate(-90)"><text x="-237.67" y="1297.81" font-size="18.67" textLength="10.83" lengthAdjust="spacingAndGlyphs">0</text></g><text x="219.06" y="649.03" font-size="40.33" textLength="14.37" lengthAdjust="spacingAndGlyphs">(</text><text x="232.71" y="649.63" font-size="36.88" font-style="italic" textLength="18.39" lengthAdjust="spacingAndGlyphs">b</text><text x="252.73" y="649.03" font-size="40.33" textLength="14.09" lengthAdjust="spacingAndGlyphs">)</text><text x="447.38" y="661.60" font-size="38.15" textLength="559.87" lengthAdjust="spacingAndGlyphs">probability distribution of density</text><text x="337.13" y="1075.00" font-size="38.50" textLength="50.53" lengthAdjust="spacingAndGlyphs">0.0</text><text x="483.23" y="1075.00" font-size="38.50" textLength="50.53" lengthAdjust="spacingAndGlyphs">0.5</text><text x="628.42" y="1075.00" font-size="38.50" textLength="50.53" lengthAdjust="spacingAndGlyphs">1.0</text><text x="774.52" y="1075.00" font-size="38.50" textLength="50.53" lengthAdjust="spacingAndGlyphs">1.5</text><text x="921.43" y="1075.00" font-size="38.50" textLength="50.53" lengthAdjust="spacingAndGlyphs">2.0</text><text x="1067.53" y="1075.00" font-size="38.50" textLength="50.53" lengthAdjust="spacingAndGlyphs">2.5</text><text x="320.20" y="1037.91" font-size="38.50" textLength="20.21" lengthAdjust="spacingAndGlyphs">0</text><text x="321.01" y="874.50" font-size="38.50" textLength="20.21" lengthAdjust="spacingAndGlyphs">1</text><text x="320.81" y="711.00" font-size="38.50" textLength="20.21" lengthAdjust="spacingAndGlyphs">2</text><text x="685.28" y="1123.73" font-size="37.08" font-style="italic" textLength="18.80" lengthAdjust="spacingAndGlyphs">ρ</text><text x="703.20" y="1110.05" font-size="25.21" font-style="italic" textLength="15.00" lengthAdjust="spacingAndGlyphs">a</text><text x="721.00" y="1134.89" font-size="61.19" textLength="15.15" lengthAdjust="spacingAndGlyphs">/</text><text x="740.16" y="1123.73" font-size="37.08" font-style="italic" textLength="18.39" lengthAdjust="spacingAndGlyphs">ρ</text><text x="757.73" y="1110.05" font-size="25.21" font-style="italic" textLength="14.53" lengthAdjust="spacingAndGlyphs">a</text><text x="757.49" y="1133.93" font-size="26.52" textLength="13.93" lengthAdjust="spacingAndGlyphs">0</text><g transform="rotate(-90)"><text x="-921.09" y="298.26" font-size="36.93" font-style="italic" textLength="19.25" lengthAdjust="spacingAndGlyphs">p</text></g><g transform="rotate(-90)"><text x="-902.12" y="298.24" font-size="43.52" textLength="15.67" lengthAdjust="spacingAndGlyphs">(</text></g><g transform="rotate(-90)"><text x="-887.03" y="298.92" font-size="33.87" font-style="italic" textLength="18.69" lengthAdjust="spacingAndGlyphs">ρ</text></g><g transform="rotate(-90)"><text x="-868.21" y="283.47" font-size="22.92" font-style="italic" textLength="13.49" lengthAdjust="spacingAndGlyphs">a</text></g><g transform="rotate(-90)"><text x="-851.00" y="307.01" font-size="59.10" textLength="17.17" lengthAdjust="spacingAndGlyphs">/</text></g><g transform="rotate(-90)"><text x="-832.36" y="298.92" font-size="33.87" font-style="italic" textLength="17.99" lengthAdjust="spacingAndGlyphs">ρ</text></g><g transform="rotate(-90)"><text x="-814.36" y="283.47" font-size="22.92" font-style="italic" textLength="14.30" lengthAdjust="spacingAndGlyphs">a</text></g><g transform="rotate(-90)"><text x="-814.60" y="308.04" font-size="26.37" textLength="13.81" lengthAdjust="spacingAndGlyphs">0</text></g><g transform="rotate(-90)"><text x="-799.07" y="298.24" font-size="43.52" textLength="14.09" lengthAdjust="spacingAndGlyphs">)</text></g><text x="944.46" y="727.46" font-size="29.03" textLength="89.45" lengthAdjust="spacingAndGlyphs">species</text><text x="1047.11" y="728.20" font-size="31.67" font-style="italic" textLength="18.96" lengthAdjust="spacingAndGlyphs">A</text><text x="944.46" y="768.66" font-size="28.57" textLength="89.45" lengthAdjust="spacingAndGlyphs">species</text><text x="1045.03" y="768.85" font-size="29.39" font-style="italic" textLength="22.43" lengthAdjust="spacingAndGlyphs">B</text>
</svg></div></body></html>
